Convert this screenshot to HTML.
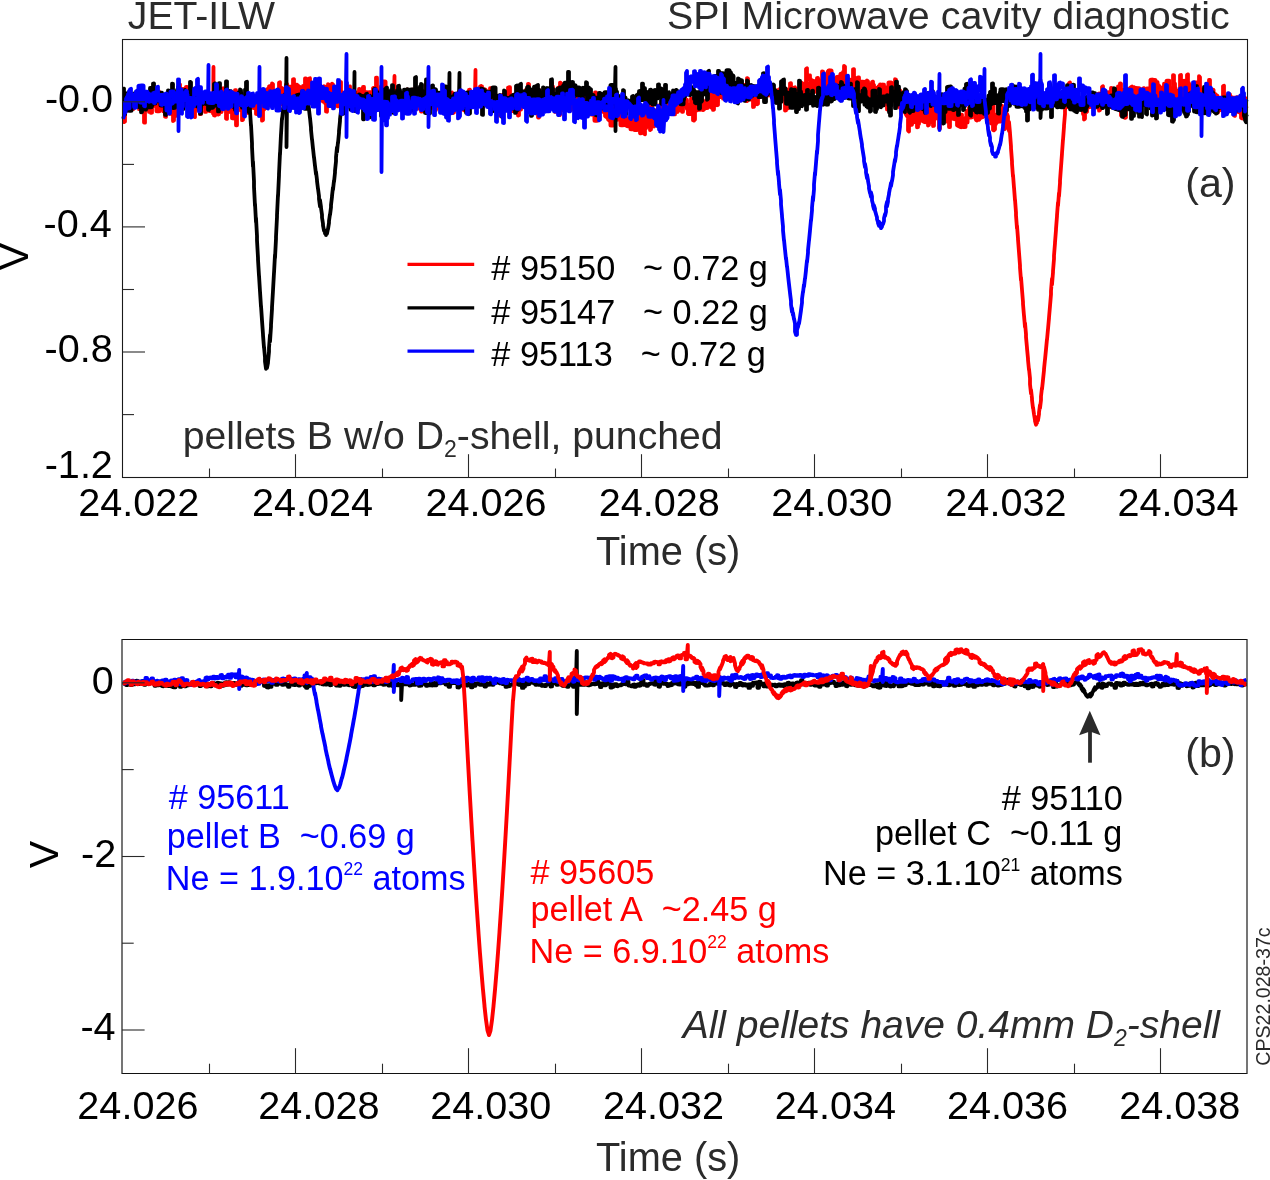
<!DOCTYPE html><html><head><meta charset="utf-8"><title>SPI Microwave cavity diagnostic</title><style>html,body{margin:0;padding:0;background:#fff;overflow:hidden}svg{display:block}text{font-family:"Liberation Sans", Arial, Helvetica, sans-serif}</style></head><body>
<svg width="1270" height="1180" viewBox="0 0 1270 1180">
<rect width="1270" height="1180" fill="#fff"/>
<polyline points="123.0,111.5 125.0,111.5 125.0,103.9 127.0,103.9 127.0,104.5 129.0,104.5 129.0,105.3 131.0,105.3 131.0,108.5 133.0,108.5 133.0,101.8 135.0,101.8 135.0,104.5 137.0,104.5 137.0,102.8 139.0,102.8 139.0,105.6 141.0,105.6 141.0,101.3 143.0,101.3 143.0,103.5 145.0,103.5 145.0,108.7 147.0,108.7 147.0,96.8 149.0,96.8 149.0,109.3 151.0,109.3 151.0,102.4 153.0,102.4 153.0,101.8 155.0,101.8 155.0,105.4 157.0,105.4 157.0,110.7 159.0,110.7 159.0,97.8 161.0,97.8 161.0,105.7 163.0,105.7 163.0,107.7 165.0,107.7 165.0,108.5 167.0,108.5 167.0,99.2 169.0,99.2 169.0,107.8 171.0,107.8 171.0,102.1 173.0,102.1 173.0,103.3 175.0,103.3 175.0,104.3 177.0,104.3 177.0,98.4 179.0,98.4 179.0,102.9 181.0,102.9 181.0,92.3 183.0,92.3 183.0,99.2 185.0,99.2 185.0,105.3 187.0,105.3 187.0,103.6 189.0,103.6 189.0,106.4 191.0,106.4 191.0,100.4 193.0,100.4 193.0,102.3 195.0,102.3 195.0,103.1 197.0,103.1 197.0,104.4 199.0,104.4 199.0,107.6 201.0,107.6 201.0,105.7 203.0,105.7 203.0,104.6 205.0,104.6 205.0,101.6 207.0,101.6 207.0,101.1 209.0,101.1 209.0,104.4 211.0,104.4 211.0,103.2 213.0,103.2 213.0,107.2 215.0,107.2 215.0,103.5 217.0,103.5 217.0,107.5 219.0,107.5 219.0,111.5 221.0,111.5 221.0,103.0 223.0,103.0 223.0,97.5 225.0,97.5 225.0,102.1 227.0,102.1 227.0,108.3 229.0,108.3 229.0,111.3 231.0,111.3 231.0,105.4 233.0,105.4 233.0,111.0 235.0,111.0 235.0,108.5 237.0,108.5 237.0,104.3 239.0,104.3 239.0,109.0 241.0,109.0 241.0,107.7 243.0,107.7 243.0,104.7 245.0,104.7 245.0,106.3 247.0,106.3 247.0,110.4 249.0,110.4 249.0,102.9 251.0,102.9 251.0,97.3 253.0,97.3 253.0,101.7 255.0,101.7 255.0,106.5 257.0,106.5 257.0,97.8 259.0,97.8 259.0,110.2 261.0,110.2 261.0,100.8 263.0,100.8 263.0,95.7 265.0,95.7 265.0,97.1 267.0,97.1 267.0,95.0 269.0,95.0 269.0,91.4 271.0,91.4 271.0,105.3 273.0,105.3 273.0,96.3 275.0,96.3 275.0,103.9 277.0,103.9 277.0,103.4 279.0,103.4 279.0,103.8 281.0,103.8 281.0,98.2 283.0,98.2 283.0,97.6 285.0,97.6 285.0,95.9 287.0,95.9 287.0,93.9 289.0,93.9 289.0,87.3 291.0,87.3 291.0,100.9 293.0,100.9 293.0,95.6 295.0,95.6 295.0,87.2 297.0,87.2 297.0,89.5 299.0,89.5 299.0,99.1 301.0,99.1 301.0,94.7 303.0,94.7 303.0,88.5 305.0,88.5 305.0,95.6 307.0,95.6 307.0,94.3 309.0,94.3 309.0,96.3 311.0,96.3 311.0,97.7 313.0,97.7 313.0,90.7 315.0,90.7 315.0,91.4 317.0,91.4 317.0,87.7 319.0,87.7 319.0,91.9 321.0,91.9 321.0,91.4 323.0,91.4 323.0,88.0 325.0,88.0 325.0,88.6 327.0,88.6 327.0,97.1 329.0,97.1 329.0,94.9 331.0,94.9 331.0,102.8 333.0,102.8 333.0,91.3 335.0,91.3 335.0,92.4 337.0,92.4 337.0,100.7 339.0,100.7 339.0,97.0 341.0,97.0 341.0,98.4 343.0,98.4 343.0,104.0 345.0,104.0 345.0,96.1 347.0,96.1 347.0,97.0 349.0,97.0 349.0,91.7 351.0,91.7 351.0,97.9 353.0,97.9 353.0,96.8 355.0,96.8 355.0,93.0 357.0,93.0 357.0,94.3 359.0,94.3 359.0,95.0 361.0,95.0 361.0,98.3 363.0,98.3 363.0,94.7 365.0,94.7 365.0,92.7 367.0,92.7 367.0,94.4 369.0,94.4 369.0,92.7 371.0,92.7 371.0,98.3 373.0,98.3 373.0,93.0 375.0,93.0 375.0,96.9 377.0,96.9 377.0,96.4 379.0,96.4 379.0,97.5 381.0,97.5 381.0,93.7 383.0,93.7 383.0,81.9 385.0,81.9 385.0,94.7 387.0,94.7 387.0,96.3 389.0,96.3 389.0,98.8 391.0,98.8 391.0,95.7 393.0,95.7 393.0,96.5 395.0,96.5 395.0,100.9 397.0,100.9 397.0,97.4 399.0,97.4 399.0,102.5 401.0,102.5 401.0,103.5 403.0,103.5 403.0,100.2 405.0,100.2 405.0,100.6 407.0,100.6 407.0,97.8 409.0,97.8 409.0,110.6 411.0,110.6 411.0,97.6 413.0,97.6 413.0,96.0 415.0,96.0 415.0,97.3 417.0,97.3 417.0,102.2 419.0,102.2 419.0,93.4 421.0,93.4 421.0,94.7 423.0,94.7 423.0,96.7 425.0,96.7 425.0,106.6 427.0,106.6 427.0,100.9 429.0,100.9 429.0,98.4 431.0,98.4 431.0,103.3 433.0,103.3 433.0,94.6 435.0,94.6 435.0,100.4 437.0,100.4 437.0,103.2 439.0,103.2 439.0,98.2 441.0,98.2 441.0,106.0 443.0,106.0 443.0,103.9 445.0,103.9 445.0,103.8 447.0,103.8 447.0,101.7 449.0,101.7 449.0,99.5 451.0,99.5 451.0,110.0 453.0,110.0 453.0,99.3 455.0,99.3 455.0,105.7 457.0,105.7 457.0,102.0 459.0,102.0 459.0,98.0 461.0,98.0 461.0,107.2 463.0,107.2 463.0,100.9 465.0,100.9 465.0,95.0 467.0,95.0 467.0,103.4 469.0,103.4 469.0,95.4 471.0,95.4 471.0,100.0 473.0,100.0 473.0,96.6 475.0,96.6 475.0,97.6 477.0,97.6 477.0,98.3 479.0,98.3 479.0,90.0 481.0,90.0 481.0,97.2 483.0,97.2 483.0,90.0 485.0,90.0 485.0,97.9 487.0,97.9 487.0,102.3 489.0,102.3 489.0,96.1 491.0,96.1 491.0,100.2 493.0,100.2 493.0,95.8 495.0,95.8 495.0,105.8 497.0,105.8 497.0,106.8 499.0,106.8 499.0,100.3 501.0,100.3 501.0,100.3 503.0,100.3 503.0,95.2 505.0,95.2 505.0,105.8 507.0,105.8 507.0,96.4 509.0,96.4 509.0,104.8 511.0,104.8 511.0,101.8 513.0,101.8 513.0,96.9 515.0,96.9 515.0,102.5 517.0,102.5 517.0,99.1 519.0,99.1 519.0,95.2 521.0,95.2 521.0,103.8 523.0,103.8 523.0,99.1 525.0,99.1 525.0,92.4 527.0,92.4 527.0,104.7 529.0,104.7 529.0,101.9 531.0,101.9 531.0,100.6 533.0,100.6 533.0,99.9 535.0,99.9 535.0,96.5 537.0,96.5 537.0,90.5 539.0,90.5 539.0,98.2 541.0,98.2 541.0,97.7 543.0,97.7 543.0,107.2 545.0,107.2 545.0,98.2 547.0,98.2 547.0,103.0 549.0,103.0 549.0,101.9 551.0,101.9 551.0,97.3 553.0,97.3 553.0,102.8 555.0,102.8 555.0,104.6 557.0,104.6 557.0,101.4 559.0,101.4 559.0,100.7 561.0,100.7 561.0,104.2 563.0,104.2 563.0,105.0 565.0,105.0 565.0,101.7 567.0,101.7 567.0,109.3 569.0,109.3 569.0,102.4 571.0,102.4 571.0,108.7 573.0,108.7 573.0,105.0 575.0,105.0 575.0,109.6 577.0,109.6 577.0,104.0 579.0,104.0 579.0,94.5 581.0,94.5 581.0,107.5 583.0,107.5 583.0,99.5 585.0,99.5 585.0,106.2 587.0,106.2 587.0,99.0 589.0,99.0 589.0,111.3 591.0,111.3 591.0,113.9 593.0,113.9 593.0,100.7 595.0,100.7 595.0,120.3 597.0,120.3 597.0,110.0 599.0,110.0 599.0,106.2 601.0,106.2 601.0,108.7 603.0,108.7 603.0,110.9 605.0,110.9 605.0,105.7 607.0,105.7 607.0,115.0 609.0,115.0 609.0,106.5 611.0,106.5 611.0,124.9 613.0,124.9 613.0,115.6 615.0,115.6 615.0,119.2 617.0,119.2 617.0,115.1 619.0,115.1 619.0,114.6 621.0,114.6 621.0,124.8 623.0,124.8 623.0,120.0 625.0,120.0 625.0,118.4 627.0,118.4 627.0,124.4 629.0,124.4 629.0,120.3 631.0,120.3 631.0,128.8 633.0,128.8 633.0,118.0 635.0,118.0 635.0,129.5 637.0,129.5 637.0,117.5 639.0,117.5 639.0,111.6 641.0,111.6 641.0,127.0 643.0,127.0 643.0,123.4 645.0,123.4 645.0,116.9 647.0,116.9 647.0,126.0 649.0,126.0 649.0,124.0 651.0,124.0 651.0,117.5 653.0,117.5 653.0,114.8 655.0,114.8 655.0,117.9 657.0,117.9 657.0,119.4 659.0,119.4 659.0,106.1 661.0,106.1 661.0,106.2 663.0,106.2 663.0,110.5 665.0,110.5 665.0,113.2 667.0,113.2 667.0,106.2 669.0,106.2 669.0,102.6 671.0,102.6 671.0,108.9 673.0,108.9 673.0,106.8 675.0,106.8 675.0,111.5 677.0,111.5 677.0,110.0 679.0,110.0 679.0,103.5 681.0,103.5 681.0,102.8 683.0,102.8 683.0,103.0 685.0,103.0 685.0,105.0 687.0,105.0 687.0,107.2 689.0,107.2 689.0,113.5 691.0,113.5 691.0,104.8 693.0,104.8 693.0,104.2 695.0,104.2 695.0,109.0 697.0,109.0 697.0,107.0 699.0,107.0 699.0,101.4 701.0,101.4 701.0,107.0 703.0,107.0 703.0,106.3 705.0,106.3 705.0,107.5 707.0,107.5 707.0,104.3 709.0,104.3 709.0,105.7 711.0,105.7 711.0,98.2 713.0,98.2 713.0,98.4 715.0,98.4 715.0,101.5 717.0,101.5 717.0,94.9 719.0,94.9 719.0,96.5 721.0,96.5 721.0,93.5 723.0,93.5 723.0,96.1 725.0,96.1 725.0,89.9 727.0,89.9 727.0,88.3 729.0,88.3 729.0,89.9 731.0,89.9 731.0,91.1 733.0,91.1 733.0,91.9 735.0,91.9 735.0,92.0 737.0,92.0 737.0,91.1 739.0,91.1 739.0,90.6 741.0,90.6 741.0,94.4 743.0,94.4 743.0,92.9 745.0,92.9 745.0,89.9 747.0,89.9 747.0,91.8 749.0,91.8 749.0,99.0 751.0,99.0 751.0,90.1 753.0,90.1 753.0,95.0 755.0,95.0 755.0,95.2 757.0,95.2 757.0,90.7 759.0,90.7 759.0,91.9 761.0,91.9 761.0,84.3 763.0,84.3 763.0,90.6 765.0,90.6 765.0,88.6 767.0,88.6 767.0,94.3 769.0,94.3 769.0,90.1 771.0,90.1 771.0,90.7 773.0,90.7 773.0,92.1 775.0,92.1 775.0,97.6 777.0,97.6 777.0,96.6 779.0,96.6 779.0,92.7 781.0,92.7 781.0,97.3 783.0,97.3 783.0,95.5 785.0,95.5 785.0,97.9 787.0,97.9 787.0,93.5 789.0,93.5 789.0,94.7 791.0,94.7 791.0,100.6 793.0,100.6 793.0,93.6 795.0,93.6 795.0,93.3 797.0,93.3 797.0,95.1 799.0,95.1 799.0,98.2 801.0,98.2 801.0,88.6 803.0,88.6 803.0,89.2 805.0,89.2 805.0,84.0 807.0,84.0 807.0,86.9 809.0,86.9 809.0,91.4 811.0,91.4 811.0,82.6 813.0,82.6 813.0,86.3 815.0,86.3 815.0,84.5 817.0,84.5 817.0,80.7 819.0,80.7 819.0,81.4 821.0,81.4 821.0,83.4 823.0,83.4 823.0,89.2 825.0,89.2 825.0,83.2 827.0,83.2 827.0,85.3 829.0,85.3 829.0,71.0 831.0,71.0 831.0,84.2 833.0,84.2 833.0,80.0 835.0,80.0 835.0,81.4 837.0,81.4 837.0,77.4 839.0,77.4 839.0,83.1 841.0,83.1 841.0,74.2 843.0,74.2 843.0,84.9 845.0,84.9 845.0,85.9 847.0,85.9 847.0,89.1 849.0,89.1 849.0,86.3 851.0,86.3 851.0,85.1 853.0,85.1 853.0,91.2 855.0,91.2 855.0,83.2 857.0,83.2 857.0,88.0 859.0,88.0 859.0,84.7 861.0,84.7 861.0,82.3 863.0,82.3 863.0,88.2 865.0,88.2 865.0,82.9 867.0,82.9 867.0,95.5 869.0,95.5 869.0,101.0 871.0,101.0 871.0,93.7 873.0,93.7 873.0,89.9 875.0,89.9 875.0,92.6 877.0,92.6 877.0,88.3 879.0,88.3 879.0,86.8 881.0,86.8 881.0,88.3 883.0,88.3 883.0,94.3 885.0,94.3 885.0,88.3 887.0,88.3 887.0,87.8 889.0,87.8 889.0,83.0 891.0,83.0 891.0,96.1 893.0,96.1 893.0,98.3 895.0,98.3 895.0,97.0 897.0,97.0 897.0,98.1 899.0,98.1 899.0,97.9 901.0,97.9 901.0,102.4 903.0,102.4 903.0,103.6 905.0,103.6 905.0,103.7 907.0,103.7 907.0,112.0 909.0,112.0 909.0,109.8 911.0,109.8 911.0,110.9 913.0,110.9 913.0,117.8 915.0,117.8 915.0,106.2 917.0,106.2 917.0,113.0 919.0,113.0 919.0,109.5 921.0,109.5 921.0,112.7 923.0,112.7 923.0,108.5 925.0,108.5 925.0,112.2 927.0,112.2 927.0,118.8 929.0,118.8 929.0,113.7 931.0,113.7 931.0,121.6 933.0,121.6 933.0,109.1 935.0,109.1 935.0,112.6 937.0,112.6 937.0,114.8 939.0,114.8 939.0,117.9 941.0,117.9 941.0,117.8 943.0,117.8 943.0,115.3 945.0,115.3 945.0,114.6 947.0,114.6 947.0,108.1 949.0,108.1 949.0,111.2 951.0,111.2 951.0,109.4 953.0,109.4 953.0,118.2 955.0,118.2 955.0,118.7 957.0,118.7 957.0,116.5 959.0,116.5 959.0,119.9 961.0,119.9 961.0,121.3 963.0,121.3 963.0,126.6 965.0,126.6 965.0,122.0 967.0,122.0 967.0,111.5 969.0,111.5 969.0,116.9 971.0,116.9 971.0,111.8 973.0,111.8 973.0,113.8 975.0,113.8 975.0,114.0 977.0,114.0 977.0,118.6 979.0,118.6 979.0,115.9 981.0,115.9 981.0,114.6 983.0,114.6 983.0,107.0 985.0,107.0 985.0,111.4 987.0,111.4 987.0,111.0 989.0,111.0 989.0,115.8 991.0,115.8 991.0,104.4 993.0,104.4 993.0,119.7 995.0,119.7 995.0,121.2 997.0,121.2 997.0,115.1 999.0,115.1 999.0,115.7 1001.0,115.7 1001.0,116.8 1003.0,116.8 1003.0,118.9 1005.0,118.9 1005.0,113.9 1007.0,113.9" fill="none" stroke="#ff0000" stroke-width="5" stroke-linejoin="round" stroke-linecap="butt"/><polyline points="1069.0,99.3 1071.0,99.3 1071.0,103.7 1073.0,103.7 1073.0,101.2 1075.0,101.2 1075.0,96.7 1077.0,96.7 1077.0,105.2 1079.0,105.2 1079.0,98.3 1081.0,98.3 1081.0,102.0 1083.0,102.0 1083.0,104.9 1085.0,104.9 1085.0,104.3 1087.0,104.3 1087.0,102.9 1089.0,102.9 1089.0,101.0 1091.0,101.0 1091.0,98.6 1093.0,98.6 1093.0,106.3 1095.0,106.3 1095.0,98.0 1097.0,98.0 1097.0,100.9 1099.0,100.9 1099.0,102.3 1101.0,102.3 1101.0,103.8 1103.0,103.8 1103.0,94.8 1105.0,94.8 1105.0,97.3 1107.0,97.3 1107.0,100.1 1109.0,100.1 1109.0,98.8 1111.0,98.8 1111.0,106.5 1113.0,106.5 1113.0,92.8 1115.0,92.8 1115.0,103.9 1117.0,103.9 1117.0,100.8 1119.0,100.8 1119.0,92.9 1121.0,92.9 1121.0,105.7 1123.0,105.7 1123.0,101.9 1125.0,101.9 1125.0,107.4 1127.0,107.4 1127.0,103.0 1129.0,103.0 1129.0,89.7 1131.0,89.7 1131.0,98.5 1133.0,98.5 1133.0,104.7 1135.0,104.7 1135.0,100.0 1137.0,100.0 1137.0,88.8 1139.0,88.8 1139.0,91.4 1141.0,91.4 1141.0,94.2 1143.0,94.2 1143.0,91.3 1145.0,91.3 1145.0,96.4 1147.0,96.4 1147.0,89.1 1149.0,89.1 1149.0,94.0 1151.0,94.0 1151.0,80.3 1153.0,80.3 1153.0,80.5 1155.0,80.5 1155.0,82.4 1157.0,82.4 1157.0,86.5 1159.0,86.5 1159.0,92.0 1161.0,92.0 1161.0,88.8 1163.0,88.8 1163.0,87.9 1165.0,87.9 1165.0,88.9 1167.0,88.9 1167.0,81.3 1169.0,81.3 1169.0,91.6 1171.0,91.6 1171.0,93.5 1173.0,93.5 1173.0,88.4 1175.0,88.4 1175.0,93.0 1177.0,93.0 1177.0,95.0 1179.0,95.0 1179.0,91.1 1181.0,91.1 1181.0,89.0 1183.0,89.0 1183.0,95.1 1185.0,95.1 1185.0,91.3 1187.0,91.3 1187.0,85.6 1189.0,85.6 1189.0,90.2 1191.0,90.2 1191.0,87.6 1193.0,87.6 1193.0,86.6 1195.0,86.6 1195.0,83.1 1197.0,83.1 1197.0,91.5 1199.0,91.5 1199.0,94.9 1201.0,94.9 1201.0,90.6 1203.0,90.6 1203.0,96.4 1205.0,96.4 1205.0,93.3 1207.0,93.3 1207.0,98.6 1209.0,98.6 1209.0,96.6 1211.0,96.6 1211.0,90.3 1213.0,90.3 1213.0,100.4 1215.0,100.4 1215.0,96.3 1217.0,96.3 1217.0,100.4 1219.0,100.4 1219.0,101.2 1221.0,101.2 1221.0,109.5 1223.0,109.5 1223.0,104.7 1225.0,104.7 1225.0,96.5 1227.0,96.5 1227.0,101.8 1229.0,101.8 1229.0,98.5 1231.0,98.5 1231.0,103.0 1233.0,103.0 1233.0,98.2 1235.0,98.2 1235.0,108.7 1237.0,108.7 1237.0,107.8 1239.0,107.8 1239.0,102.3 1241.0,102.3 1241.0,112.6 1243.0,112.6 1243.0,111.2 1245.0,111.2 1245.0,105.4 1247.0,105.4" fill="none" stroke="#ff0000" stroke-width="5" stroke-linejoin="round" stroke-linecap="butt"/><polyline points="123.0,109.7 124.0,109.0 124.0,122.2 125.0,121.5 125.0,112.1 126.0,111.4 126.0,110.8 127.0,110.2 127.0,104.0 128.0,103.5 128.0,100.0 129.0,99.6 129.0,104.8 130.0,104.5 130.0,106.4 131.0,106.2 131.0,108.0 132.0,107.8 132.0,107.2 133.0,107.1 133.0,102.8 134.0,102.7 134.0,104.8 135.0,104.8 135.0,101.5 136.0,101.4 136.0,98.0 137.0,98.0 137.0,98.8 138.0,98.8 138.0,107.6 139.0,107.7 139.0,109.2 140.0,109.2 140.0,103.1 141.0,103.2 141.0,103.7 142.0,103.9 142.0,111.5 143.0,111.6 143.0,104.0 144.0,104.1 144.0,122.6 145.0,122.7 145.0,106.7 146.0,106.8 146.0,101.9 147.0,101.9 147.0,93.5 148.0,93.5 148.0,106.6 149.0,106.6 149.0,111.9 150.0,111.7 150.0,104.7 151.0,104.5 151.0,112.9 152.0,112.7 152.0,100.8 153.0,100.5 153.0,103.7 154.0,103.4 154.0,102.8 155.0,102.6 155.0,98.9 156.0,98.7 156.0,94.0 157.0,93.9 157.0,97.3 158.0,97.4 158.0,91.2 159.0,91.3 159.0,108.6 160.0,108.9 160.0,102.8 161.0,103.2 161.0,103.6 162.0,104.0 162.0,100.9 163.0,101.3 163.0,111.2 164.0,111.6 164.0,99.9 165.0,100.2 165.0,116.7 166.0,116.9 166.0,113.0 167.0,113.1 167.0,101.5 168.0,101.5 168.0,104.8 169.0,104.7 169.0,110.1 170.0,109.9 170.0,113.9 171.0,113.6 171.0,100.4 172.0,100.0 172.0,101.9 173.0,101.5 173.0,121.0 174.0,120.6 174.0,115.7 175.0,115.2 175.0,109.7 176.0,109.2 176.0,115.9 177.0,115.4 177.0,105.7 178.0,105.3 178.0,99.5 179.0,99.2 179.0,84.6 180.0,84.4 180.0,112.6 181.0,112.5 181.0,94.4 182.0,94.4 182.0,106.2 183.0,106.2 183.0,89.0 184.0,89.1 184.0,98.9 185.0,99.0 185.0,102.0 186.0,102.1 186.0,86.8 187.0,86.9 187.0,98.8 188.0,99.0 188.0,97.1 189.0,97.4 189.0,103.6 190.0,103.9 190.0,94.9 191.0,95.2 191.0,100.2 192.0,100.5 192.0,112.7 193.0,113.1 193.0,113.3 194.0,113.6 194.0,116.8 195.0,117.1 195.0,107.6 196.0,107.8 196.0,102.4 197.0,102.6 197.0,107.3 198.0,107.3 198.0,109.8 199.0,109.7 199.0,106.9 200.0,106.6 200.0,114.2 201.0,113.9 201.0,100.2 202.0,99.9 202.0,102.9 203.0,102.6 203.0,94.1 204.0,93.9 204.0,101.1 205.0,101.1 205.0,111.9 206.0,111.9 206.0,104.2 207.0,104.4 207.0,108.9 208.0,109.2 208.0,107.1 209.0,107.5 209.0,111.0 210.0,111.3 210.0,99.6 211.0,100.0 211.0,108.9 212.0,109.3 212.0,110.2 213.0,110.5 213.0,113.6 213.5,67.0 213.5,100.0 214.0,113.8 214.0,115.4 215.0,115.5 215.0,103.2 216.0,103.2 216.0,97.1 217.0,97.0 217.0,102.1 218.0,101.8 218.0,114.6 219.0,114.3 219.0,99.2 220.0,98.9 220.0,96.4 221.0,96.0 221.0,96.4 222.0,96.1 222.0,88.5 223.0,88.3 223.0,109.1 224.0,108.9 224.0,99.3 225.0,99.3 225.0,100.2 226.0,100.4 226.0,118.6 227.0,118.9 227.0,110.8 228.0,111.2 228.0,110.8 229.0,111.2 229.0,100.5 230.0,101.0 230.0,94.9 231.0,95.3 231.0,108.6 232.0,109.0 232.0,118.2 233.0,118.5 233.0,104.8 234.0,105.1 234.0,105.6 235.0,105.9 235.0,90.1 236.0,90.2 236.0,125.3 237.0,125.3 237.0,106.4 238.0,106.3 238.0,96.3 239.0,96.1 239.0,107.0 240.0,106.7 240.0,103.2 241.0,102.8 241.0,110.7 242.0,110.3 242.0,120.2 243.0,119.7 243.0,100.5 244.0,99.9 244.0,106.1 245.0,105.6 245.0,102.0 246.0,101.5 246.0,99.6 247.0,99.1 247.0,106.4 248.0,105.9 248.0,113.0 249.0,112.7 249.0,105.5 250.0,105.3 250.0,99.6 251.0,99.6 251.0,105.7 252.0,105.8 252.0,104.0 253.0,104.1 253.0,107.9 254.0,108.1 254.0,99.2 255.0,99.5 255.0,104.7 256.0,105.0 256.0,114.0 257.0,114.2 257.0,103.6 258.0,103.8 258.0,110.0 259.0,110.1 259.0,103.7 260.0,103.6 260.0,104.1 261.0,103.9 261.0,98.7 262.0,98.3 262.0,120.7 263.0,120.1 263.0,110.3 264.0,109.6 264.0,109.5 265.0,108.5 265.0,108.4 266.0,107.4 266.0,93.2 267.0,92.2 267.0,89.5 268.0,88.6 268.0,96.8 269.0,96.2 269.0,86.4 270.0,86.1 270.0,91.1 271.0,91.2 271.0,102.4 272.0,102.8 272.0,83.5 273.0,84.1 273.0,92.2 274.0,92.9 274.0,98.1 275.0,98.8 275.0,98.9 276.0,99.5 276.0,99.9 277.0,100.2 277.0,95.5 278.0,95.6 278.0,106.4 279.0,106.2 279.0,82.7 280.0,82.2 280.0,102.4 281.0,101.5 281.0,89.0 282.0,87.9 282.0,93.0 283.0,91.9 283.0,96.2 284.0,95.0 284.0,106.0 285.0,105.0 285.0,88.6 286.0,87.9 286.0,84.4 287.0,83.9 287.0,99.6 288.0,99.4 288.0,92.5 289.0,92.5 289.0,93.2 290.0,93.3 290.0,96.8 291.0,96.9 291.0,99.8 292.0,99.8 292.0,94.3 293.0,94.2 293.0,79.4 294.0,79.2 294.0,91.6 295.0,91.3 295.0,92.8 296.0,92.5 296.0,84.8 297.0,84.6 297.0,85.5 298.0,85.5 298.0,96.3 299.0,96.5 299.0,93.9 300.0,94.4 300.0,86.9 301.0,87.4 301.0,97.0 302.0,97.5 302.0,94.7 303.0,95.2 303.0,85.9 304.0,86.3 304.0,92.9 305.0,93.0 305.0,78.5 306.0,78.5 306.0,89.1 307.0,88.9 307.0,96.5 308.0,96.3 308.0,86.3 309.0,86.0 309.0,78.5 310.0,78.2 310.0,96.1 311.0,95.7 311.0,86.7 312.0,86.3 312.0,91.1 313.0,90.7 313.0,90.9 314.0,90.5 314.0,91.1 315.0,90.9 315.0,94.4 316.0,94.2 316.0,88.9 317.0,88.9 317.0,86.7 318.0,86.7 318.0,86.0 319.0,86.2 319.0,99.5 320.0,99.7 320.0,98.2 321.0,98.4 321.0,92.0 322.0,92.3 322.0,100.6 323.0,100.9 323.0,101.7 324.0,101.9 324.0,86.2 325.0,86.5 325.0,103.3 326.0,103.7 326.0,111.4 327.0,111.7 327.0,96.6 328.0,97.0 328.0,84.1 329.0,84.6 329.0,104.9 330.0,105.5 330.0,99.7 331.0,100.2 331.0,94.9 332.0,95.6 332.0,83.7 333.0,84.3 333.0,96.9 334.0,97.6 334.0,96.3 335.0,96.9 335.0,96.8 336.0,97.4 336.0,96.7 337.0,97.1 337.0,106.1 338.0,106.3 338.0,97.3 339.0,97.3 339.0,102.9 340.0,102.7 340.0,82.4 341.0,82.1 341.0,93.2 342.0,92.8 342.0,99.2 343.0,98.7 343.0,93.0 344.0,92.4 344.0,98.7 345.0,98.2 345.0,97.4 346.0,96.8 346.0,98.3 347.0,97.7 347.0,94.4 348.0,93.9 348.0,100.2 349.0,99.7 349.0,86.7 350.0,86.4 350.0,92.7 351.0,92.5 351.0,105.0 352.0,105.0 352.0,92.3 353.0,92.3 353.0,105.0 354.0,105.1 354.0,97.4 355.0,97.6 355.0,93.8 356.0,93.9 356.0,96.1 357.0,96.3 357.0,106.1 358.0,106.3 358.0,93.9 359.0,94.1 359.0,88.9 360.0,89.1 360.0,99.6 361.0,99.8 361.0,101.2 362.0,101.3 362.0,102.2 363.0,102.4 363.0,86.9 364.0,87.0 364.0,99.5 365.0,99.6 365.0,97.5 366.0,97.5 366.0,95.5 367.0,95.5 367.0,94.1 368.0,94.0 368.0,100.2 369.0,100.0 369.0,96.5 370.0,96.3 370.0,96.4 371.0,96.0 371.0,109.3 372.0,108.9 372.0,96.3 373.0,95.9 373.0,88.0 374.0,87.7 374.0,89.3 375.0,89.1 375.0,90.2 376.0,90.2 376.0,77.6 377.0,77.7 377.0,102.4 378.0,102.6 378.0,107.6 379.0,107.8 379.0,91.6 380.0,91.6 380.0,106.9 381.0,107.0 381.0,86.4 382.0,86.4 382.0,91.2 383.0,91.1 383.0,84.2 384.0,84.2 384.0,95.2 385.0,95.3 385.0,103.7 386.0,104.0 386.0,104.2 387.0,104.6 387.0,102.9 388.0,103.4 388.0,95.1 389.0,95.6 389.0,105.2 390.0,105.6 390.0,109.1 391.0,109.4 391.0,93.1 392.0,93.4 392.0,100.1 393.0,100.3 393.0,98.2 394.0,98.4 394.0,94.5 394.5,76.0 394.5,100.0 395.0,94.8 395.0,91.3 396.0,91.6 396.0,93.8 397.0,94.2 397.0,100.3 398.0,100.8 398.0,101.7 399.0,102.1 399.0,101.4 400.0,101.8 400.0,109.2 401.0,109.5 401.0,96.7 402.0,96.8 402.0,93.1 403.0,93.1 403.0,93.7 404.0,93.5 404.0,103.8 405.0,103.6 405.0,94.3 406.0,94.0 406.0,89.9 407.0,89.5 407.0,106.3 408.0,105.9 408.0,109.0 409.0,108.6 409.0,100.7 410.0,100.4 410.0,103.4 411.0,103.2 411.0,89.9 412.0,89.8 412.0,89.7 413.0,89.7 413.0,100.0 414.0,100.0 414.0,100.3 415.0,100.4 415.0,97.8 416.0,97.9 416.0,97.3 417.0,97.3 417.0,95.1 418.0,95.0 418.0,108.5 419.0,108.4 419.0,93.4 420.0,93.2 420.0,98.0 421.0,97.8 421.0,111.5 422.0,111.5 422.0,92.0 423.0,92.1 423.0,100.5 424.0,100.7 424.0,98.2 425.0,98.6 425.0,107.0 426.0,107.4 426.0,83.9 427.0,84.4 427.0,98.4 428.0,98.8 428.0,95.6 429.0,96.0 429.0,108.2 430.0,108.5 430.0,101.0 431.0,101.3 431.0,98.0 432.0,98.1 432.0,107.5 433.0,107.8 433.0,106.2 434.0,106.4 434.0,108.9 435.0,109.2 435.0,109.6 436.0,110.0 436.0,107.9 437.0,108.3 437.0,99.6 438.0,99.8 438.0,105.5 439.0,105.7 439.0,107.4 440.0,107.5 440.0,106.1 441.0,106.1 441.0,106.0 442.0,105.9 442.0,104.3 443.0,104.3 443.0,98.6 444.0,98.6 444.0,103.3 445.0,103.4 445.0,97.5 446.0,97.6 446.0,98.2 447.0,98.3 447.0,108.8 448.0,108.9 448.0,100.2 449.0,100.2 449.0,104.7 450.0,104.5 450.0,97.2 451.0,96.8 451.0,92.9 452.0,92.4 452.0,100.4 453.0,99.9 453.0,113.0 454.0,112.5 454.0,101.3 455.0,100.9 455.0,97.2 456.0,97.0 456.0,105.9 457.0,105.9 457.0,98.2 458.0,98.4 458.0,97.5 459.0,97.7 459.0,91.6 460.0,91.8 460.0,90.8 461.0,91.0 461.0,104.9 462.0,105.0 462.0,104.0 463.0,103.9 463.0,102.4 464.0,102.1 464.0,110.4 465.0,109.9 465.0,95.7 466.0,95.1 466.0,100.9 467.0,100.2 467.0,94.5 468.0,93.9 468.0,93.9 469.0,93.5 469.0,89.8 470.0,89.6 470.0,105.1 471.0,105.0 471.0,103.3 472.0,103.4 472.0,92.3 473.0,92.5 473.0,96.9 474.0,97.2 474.0,100.0 475.0,100.1 475.0,94.1 475.5,70.0 475.5,100.0 476.0,94.2 476.0,103.8 477.0,103.7 477.0,94.2 478.0,94.0 478.0,96.9 479.0,96.6 479.0,96.6 480.0,96.2 480.0,86.4 481.0,86.0 481.0,86.7 482.0,86.4 482.0,92.2 483.0,92.1 483.0,105.4 484.0,105.5 484.0,101.5 485.0,101.7 485.0,100.8 486.0,101.0 486.0,94.0 487.0,94.1 487.0,95.1 488.0,95.2 488.0,98.5 489.0,98.5 489.0,99.9 490.0,99.8 490.0,88.2 491.0,88.2 491.0,93.4 492.0,93.5 492.0,93.1 493.0,93.3 493.0,106.8 494.0,107.3 494.0,95.2 495.0,96.0 495.0,94.2 496.0,95.1 496.0,105.7 497.0,106.7 497.0,98.5 498.0,99.4 498.0,108.3 499.0,109.1 499.0,96.8 500.0,97.2 500.0,115.8 501.0,115.9 501.0,103.2 502.0,103.1 502.0,104.5 503.0,104.2 503.0,101.8 504.0,101.4 504.0,102.6 505.0,102.3 505.0,102.7 506.0,102.5 506.0,100.2 507.0,100.1 507.0,110.3 508.0,110.3 508.0,87.6 509.0,87.6 509.0,87.2 510.0,87.2 510.0,99.8 511.0,99.7 511.0,101.2 512.0,100.9 512.0,111.2 513.0,110.7 513.0,105.0 514.0,104.5 514.0,100.9 515.0,100.3 515.0,95.1 516.0,94.6 516.0,112.6 517.0,112.1 517.0,110.1 518.0,109.7 518.0,115.6 519.0,115.3 519.0,89.1 520.0,88.9 520.0,109.8 521.0,109.7 521.0,97.8 522.0,97.8 522.0,92.9 523.0,92.9 523.0,99.3 524.0,99.4 524.0,99.3 525.0,99.5 525.0,96.7 526.0,97.0 526.0,89.6 527.0,89.9 527.0,95.0 528.0,95.3 528.0,83.8 529.0,84.1 529.0,101.0 530.0,101.3 530.0,91.3 531.0,91.4 531.0,101.7 532.0,101.7 532.0,95.2 533.0,95.1 533.0,112.0 534.0,111.9 534.0,95.0 535.0,94.9 535.0,91.2 536.0,91.1 536.0,90.7 537.0,90.7 537.0,101.6 538.0,101.6 538.0,117.5 539.0,117.6 539.0,91.0 540.0,91.0 540.0,95.9 541.0,96.0 541.0,110.1 542.0,110.0 542.0,104.3 543.0,104.1 543.0,108.1 544.0,107.9 544.0,101.6 545.0,101.4 545.0,102.5 546.0,102.3 546.0,99.5 547.0,99.3 547.0,91.7 548.0,91.7 548.0,100.3 549.0,100.4 549.0,92.7 550.0,93.0 550.0,103.4 551.0,103.6 551.0,82.2 552.0,82.5 552.0,86.3 553.0,86.5 553.0,99.0 554.0,99.0 554.0,100.5 555.0,100.5 555.0,111.9 556.0,111.7 556.0,94.3 557.0,94.2 557.0,103.6 558.0,103.5 558.0,87.6 559.0,87.6 559.0,114.8 560.0,115.0 560.0,82.6 561.0,83.0 561.0,109.7 562.0,110.3 562.0,98.1 563.0,98.9 563.0,89.4 564.0,90.3 564.0,98.4 565.0,99.2 565.0,108.6 566.0,109.3 566.0,102.6 567.0,103.1 567.0,98.5 568.0,98.9 568.0,105.5 569.0,105.5 569.0,104.3 570.0,104.3 570.0,110.3 571.0,110.1 571.0,108.6 572.0,108.5 572.0,101.0 573.0,100.9 573.0,98.9 574.0,99.0 574.0,104.3 575.0,104.4 575.0,103.1 576.0,103.2 576.0,105.9 577.0,106.0 577.0,97.6 578.0,97.6 578.0,105.1 579.0,104.9 579.0,98.8 580.0,98.5 580.0,107.5 581.0,107.3 581.0,105.4 582.0,105.2 582.0,101.8 583.0,101.7 583.0,93.0 584.0,93.1 584.0,110.7 585.0,110.9 585.0,98.0 586.0,98.4 586.0,100.8 587.0,101.3 587.0,103.8 588.0,104.3 588.0,107.5 589.0,107.9 589.0,101.7 590.0,102.0 590.0,102.2 591.0,102.4 591.0,96.5 592.0,96.7 592.0,112.8 593.0,112.8 593.0,102.8 594.0,102.9 594.0,103.0 595.0,103.0 595.0,92.5 596.0,92.5 596.0,102.2 597.0,102.1 597.0,111.7 598.0,111.7 598.0,112.8 599.0,112.9 599.0,99.2 600.0,99.4 600.0,106.5 601.0,106.7 601.0,110.5 602.0,110.8 602.0,97.5 603.0,98.0 603.0,104.8 604.0,105.5 604.0,112.6 605.0,113.4 605.0,116.0 606.0,116.9 606.0,93.1 607.0,94.1 607.0,103.6 608.0,104.6 608.0,119.4 609.0,120.3 609.0,110.2 610.0,111.0 610.0,116.0 611.0,116.8 611.0,106.9 612.0,107.5 612.0,122.7 613.0,123.1 613.0,119.6 614.0,120.0 614.0,125.1 615.0,125.4 615.0,110.1 616.0,110.3 616.0,112.9 617.0,113.1 617.0,108.7 618.0,109.0 618.0,108.9 619.0,109.2 619.0,108.5 620.0,108.9 620.0,118.6 621.0,119.0 621.0,111.8 622.0,112.3 622.0,118.1 623.0,118.6 623.0,114.2 624.0,114.8 624.0,121.6 625.0,122.1 625.0,125.2 626.0,125.6 626.0,125.5 627.0,125.8 627.0,126.2 628.0,126.4 628.0,119.8 629.0,119.8 629.0,125.3 630.0,125.2 630.0,118.9 631.0,118.6 631.0,115.0 632.0,114.7 632.0,103.8 633.0,103.5 633.0,119.5 634.0,119.1 634.0,121.2 635.0,120.9 635.0,129.8 636.0,129.5 636.0,115.8 637.0,115.5 637.0,128.2 638.0,127.9 638.0,108.2 639.0,108.0 639.0,116.0 640.0,115.9 640.0,133.3 641.0,133.4 641.0,116.0 642.0,116.2 642.0,112.6 643.0,112.9 643.0,112.2 644.0,112.6 644.0,133.8 645.0,134.2 645.0,127.9 646.0,128.3 646.0,116.5 647.0,116.8 647.0,117.4 648.0,117.5 648.0,104.3 649.0,104.1 649.0,119.1 650.0,118.7 650.0,130.0 651.0,129.4 651.0,106.7 652.0,105.8 652.0,125.4 653.0,124.4 653.0,121.4 654.0,120.2 654.0,126.5 655.0,125.2 655.0,111.5 656.0,110.2 656.0,116.4 657.0,115.2 657.0,121.5 658.0,120.4 658.0,114.8 659.0,113.8 659.0,115.2 660.0,114.4 660.0,107.7 661.0,106.9 661.0,108.1 662.0,107.4 662.0,101.8 663.0,101.3 663.0,108.5 664.0,108.1 664.0,107.3 665.0,106.9 665.0,105.6 666.0,105.3 666.0,94.8 667.0,94.6 667.0,98.6 668.0,98.3 668.0,105.0 669.0,104.8 669.0,112.4 670.0,112.2 670.0,100.8 671.0,100.6 671.0,102.6 672.0,102.4 672.0,105.1 673.0,105.0 673.0,110.6 674.0,110.5 674.0,114.4 675.0,114.4 675.0,106.7 676.0,106.8 676.0,105.3 677.0,105.5 677.0,101.0 678.0,101.2 678.0,107.8 679.0,107.9 679.0,104.1 680.0,104.2 680.0,106.7 681.0,106.7 681.0,100.9 682.0,100.9 682.0,111.8 683.0,111.8 683.0,103.5 684.0,103.5 684.0,97.2 685.0,97.2 685.0,105.6 686.0,105.7 686.0,99.7 687.0,99.9 687.0,109.0 688.0,109.3 688.0,113.7 689.0,114.1 689.0,112.1 690.0,112.5 690.0,106.3 691.0,106.8 691.0,98.5 692.0,98.9 692.0,102.6 693.0,103.0 693.0,120.3 694.0,120.6 694.0,119.6 695.0,119.6 695.0,103.2 696.0,103.1 696.0,103.5 697.0,103.1 697.0,110.4 698.0,109.8 698.0,108.3 699.0,107.7 699.0,107.8 700.0,107.1 700.0,109.9 701.0,109.3 701.0,94.3 702.0,93.6 702.0,100.8 703.0,100.2 703.0,110.2 704.0,109.6 704.0,105.8 705.0,105.1 705.0,102.0 706.0,101.2 706.0,102.1 707.0,101.3 707.0,105.4 708.0,104.7 708.0,102.8 709.0,102.1 709.0,96.7 710.0,96.1 710.0,93.4 711.0,92.9 711.0,107.5 712.0,107.1 712.0,92.2 713.0,91.9 713.0,109.9 714.0,109.6 714.0,91.9 715.0,91.7 715.0,91.4 716.0,91.1 716.0,103.7 717.0,103.3 717.0,105.3 718.0,104.9 718.0,97.3 719.0,96.8 719.0,81.7 720.0,81.1 720.0,94.4 721.0,93.8 721.0,83.7 722.0,83.1 722.0,91.8 723.0,91.3 723.0,98.7 724.0,98.3 724.0,97.9 725.0,97.6 725.0,93.9 726.0,93.6 726.0,94.3 727.0,94.2 727.0,96.3 728.0,96.2 728.0,90.6 729.0,90.5 729.0,90.6 730.0,90.5 730.0,99.3 731.0,99.1 731.0,97.4 732.0,97.1 732.0,98.8 733.0,98.5 733.0,94.0 734.0,93.6 734.0,95.4 735.0,95.0 735.0,95.6 736.0,95.4 736.0,98.2 737.0,98.1 737.0,100.1 738.0,100.1 738.0,94.0 739.0,94.1 739.0,88.2 740.0,88.4 740.0,86.8 741.0,87.1 741.0,86.0 742.0,86.3 742.0,92.8 743.0,93.0 743.0,87.9 744.0,88.1 744.0,84.8 745.0,85.1 745.0,95.9 746.0,96.2 746.0,100.8 747.0,101.1 747.0,78.1 748.0,78.5 748.0,98.6 749.0,99.0 749.0,94.8 750.0,95.1 750.0,88.3 751.0,88.5 751.0,90.4 752.0,90.5 752.0,93.2 753.0,93.2 753.0,107.0 754.0,106.8 754.0,95.5 755.0,95.2 755.0,102.6 756.0,102.3 756.0,90.3 757.0,89.9 757.0,104.3 758.0,103.8 758.0,97.2 759.0,96.8 759.0,88.6 760.0,88.2 760.0,88.8 761.0,88.4 761.0,96.7 762.0,96.3 762.0,82.5 763.0,82.2 763.0,90.8 764.0,90.6 764.0,83.6 765.0,83.4 765.0,90.5 766.0,90.5 766.0,92.8 767.0,92.9 767.0,94.4 768.0,94.7 768.0,95.0 769.0,95.5 769.0,90.3 770.0,91.0 770.0,89.1 771.0,90.0 771.0,88.3 772.0,89.4 772.0,90.7 773.0,91.9 773.0,92.9 774.0,94.0 774.0,93.5 775.0,94.5 775.0,98.4 776.0,99.2 776.0,94.5 777.0,95.1 777.0,90.1 778.0,90.5 778.0,103.0 779.0,103.1 779.0,95.2 780.0,95.2 780.0,88.5 781.0,88.2 781.0,93.1 782.0,92.8 782.0,96.5 783.0,96.2 783.0,97.0 784.0,96.8 784.0,99.6 785.0,99.4 785.0,110.5 786.0,110.4 786.0,89.4 787.0,89.4 787.0,108.4 788.0,108.4 788.0,99.0 789.0,99.0 789.0,95.9 790.0,95.8 790.0,83.3 791.0,83.2 791.0,95.9 792.0,95.8 792.0,101.9 793.0,101.8 793.0,90.7 794.0,90.5 794.0,87.5 795.0,87.3 795.0,88.7 796.0,88.5 796.0,98.1 797.0,97.8 797.0,96.9 798.0,96.3 798.0,106.4 799.0,105.6 799.0,92.0 800.0,90.9 800.0,99.2 801.0,97.7 801.0,84.6 802.0,82.9 802.0,89.4 803.0,87.7 803.0,96.2 804.0,94.6 804.0,85.6 805.0,84.2 805.0,89.5 806.0,88.4 806.0,69.0 807.0,68.2 807.0,78.0 808.0,77.4 808.0,80.0 809.0,79.6 809.0,75.7 810.0,75.4 810.0,79.8 811.0,79.5 811.0,92.1 812.0,91.9 812.0,80.8 813.0,80.6 813.0,83.8 814.0,83.5 814.0,92.1 815.0,91.9 815.0,81.8 816.0,81.6 816.0,80.5 817.0,80.3 817.0,78.1 818.0,77.9 818.0,94.8 819.0,94.7 819.0,86.9 820.0,86.9 820.0,94.3 821.0,94.4 821.0,94.5 822.0,94.6 822.0,71.4 823.0,71.6 823.0,86.3 824.0,86.6 824.0,95.4 825.0,95.7 825.0,84.0 826.0,84.3 826.0,83.3 827.0,83.6 827.0,75.1 827.5,72.0 827.5,96.0 828.0,75.4 828.0,90.3 829.0,90.5 829.0,70.6 830.0,70.8 830.0,84.3 831.0,84.3 831.0,81.0 832.0,80.8 832.0,86.0 833.0,85.7 833.0,79.9 834.0,79.5 834.0,79.6 835.0,79.1 835.0,88.6 836.0,88.2 836.0,81.2 837.0,80.9 837.0,87.1 838.0,87.0 838.0,76.7 839.0,76.7 839.0,90.7 840.0,90.8 840.0,84.6 841.0,84.8 841.0,89.4 842.0,89.8 842.0,86.9 843.0,87.3 843.0,72.0 844.0,72.5 844.0,66.0 845.0,66.6 845.0,90.2 846.0,90.9 846.0,80.8 847.0,81.5 847.0,82.0 848.0,82.7 848.0,79.8 849.0,80.5 849.0,79.1 850.0,79.6 850.0,88.4 851.0,88.7 851.0,92.6 852.0,92.7 852.0,85.1 853.0,85.1 853.0,69.4 854.0,69.2 854.0,90.7 855.0,90.5 855.0,88.5 856.0,88.3 856.0,82.4 857.0,82.2 857.0,77.8 858.0,77.7 858.0,77.4 859.0,77.5 859.0,94.4 860.0,94.6 860.0,82.5 861.0,82.9 861.0,94.7 862.0,95.3 862.0,85.8 863.0,86.6 863.0,93.9 864.0,94.8 864.0,83.0 865.0,84.0 865.0,81.7 866.0,82.7 866.0,89.6 867.0,90.5 867.0,80.5 868.0,81.2 868.0,83.7 869.0,84.2 869.0,96.0 870.0,96.2 870.0,103.3 871.0,103.3 871.0,94.2 872.0,94.0 872.0,82.0 873.0,81.6 873.0,85.7 874.0,85.1 874.0,93.0 875.0,92.5 875.0,90.4 876.0,89.9 876.0,106.5 877.0,106.2 877.0,102.9 878.0,102.7 878.0,88.5 879.0,88.5 879.0,104.1 880.0,104.2 880.0,84.4 881.0,84.6 881.0,84.6 882.0,84.9 882.0,100.4 883.0,100.6 883.0,84.5 884.0,84.7 884.0,87.9 885.0,88.2 885.0,102.3 886.0,102.5 886.0,89.4 887.0,89.7 887.0,109.4 888.0,109.7 888.0,97.4 889.0,97.8 889.0,90.4 890.0,90.7 890.0,101.5 891.0,101.8 891.0,101.2 892.0,101.4 892.0,99.4 893.0,99.6 893.0,83.8 894.0,83.9 894.0,100.5 895.0,100.7 895.0,79.2 896.0,79.5 896.0,92.8 897.0,93.4 897.0,95.7 898.0,96.6 898.0,102.4 899.0,103.7 899.0,106.5 900.0,108.0 900.0,90.2 901.0,91.9 901.0,97.1 902.0,99.0 902.0,101.8 903.0,103.8 903.0,101.5 904.0,103.5 904.0,109.1 905.0,110.9 905.0,112.7 906.0,114.4 906.0,114.7 907.0,116.2 907.0,109.5 908.0,110.7 908.0,130.6 909.0,131.5 909.0,106.3 910.0,106.8 910.0,113.1 911.0,113.4 911.0,124.9 912.0,124.8 912.0,120.1 913.0,119.8 913.0,119.6 914.0,119.2 914.0,122.3 915.0,121.9 915.0,112.4 916.0,112.0 916.0,113.9 917.0,113.7 917.0,127.3 918.0,127.2 918.0,123.7 919.0,123.9 919.0,104.9 920.0,105.2 920.0,110.3 921.0,110.8 921.0,114.3 922.0,114.9 922.0,120.8 923.0,121.3 923.0,107.3 924.0,107.8 924.0,122.0 925.0,122.3 925.0,111.7 926.0,111.7 926.0,121.1 927.0,121.0 927.0,117.8 928.0,117.4 928.0,125.5 929.0,125.1 929.0,108.6 930.0,108.2 930.0,118.6 931.0,118.2 931.0,112.6 932.0,112.2 932.0,109.5 933.0,109.3 933.0,126.0 934.0,125.8 934.0,107.4 935.0,107.3 935.0,118.5 936.0,118.5 936.0,106.9 937.0,107.0 937.0,106.0 938.0,106.2 938.0,118.4 939.0,118.7 939.0,128.2 940.0,128.6 940.0,117.5 941.0,118.0 941.0,108.7 942.0,109.1 942.0,117.5 943.0,117.9 943.0,113.7 944.0,114.0 944.0,111.6 945.0,111.9 945.0,117.6 946.0,117.7 946.0,119.8 947.0,119.9 947.0,121.7 948.0,121.7 948.0,103.7 949.0,103.7 949.0,127.0 950.0,127.0 950.0,114.4 951.0,114.4 951.0,105.9 952.0,106.0 952.0,111.0 953.0,111.2 953.0,117.5 954.0,117.8 954.0,111.4 955.0,111.8 955.0,118.7 956.0,119.3 956.0,112.0 957.0,112.7 957.0,125.3 958.0,126.0 958.0,120.5 959.0,121.2 959.0,118.3 960.0,118.9 960.0,127.0 961.0,127.3 961.0,114.7 962.0,114.6 962.0,119.7 963.0,119.2 963.0,124.1 964.0,123.2 964.0,121.8 965.0,120.6 965.0,118.8 966.0,117.4 966.0,122.5 967.0,121.2 967.0,112.1 968.0,110.9 968.0,114.0 969.0,113.0 969.0,107.6 970.0,107.0 970.0,112.3 971.0,111.9 971.0,97.8 972.0,97.7 972.0,104.6 973.0,104.8 973.0,112.3 974.0,112.6 974.0,99.9 975.0,100.3 975.0,118.1 976.0,118.6 976.0,120.0 977.0,120.5 977.0,118.0 978.0,118.4 978.0,119.5 979.0,119.9 979.0,118.3 980.0,118.5 980.0,105.3 981.0,105.4 981.0,108.0 982.0,108.0 982.0,117.3 983.0,117.1 983.0,107.9 984.0,107.7 984.0,110.3 985.0,110.0 985.0,114.2 986.0,113.9 986.0,116.2 987.0,115.9 987.0,103.6 988.0,103.4 988.0,113.9 989.0,113.8 989.0,119.2 990.0,119.2 990.0,116.1 991.0,116.2 991.0,123.5 992.0,123.8 992.0,111.0 993.0,111.3 993.0,130.0 994.0,130.4 994.0,128.8 995.0,129.2 995.0,123.8 996.0,124.0 996.0,121.7 997.0,121.8 997.0,121.9 998.0,121.8 998.0,101.0 999.0,100.7 999.0,110.3 1000.0,110.0 1000.0,121.7 1001.0,121.4 1001.0,106.0 1002.0,105.7 1002.0,115.9 1003.0,115.7 1003.0,120.4 1004.0,120.2 1004.0,129.1 1005.0,129.0 1005.0,112.6 1006.0,112.5 1006.0,119.0 1007.0,119.5 1007.0,113.8 1008.0,116.5 1008.0,124.2 1009.0,131.0 1009.0,121.9 1010.0,132.8 1010.0,133.5 1011.0,146.5 1011.0,148.1 1012.0,161.5 1012.0,163.6 1013.0,176.9 1013.0,174.6 1014.0,187.8 1014.0,187.4 1015.0,200.5 1015.0,199.5 1016.0,212.6 1016.0,215.4 1017.0,228.5 1017.0,225.6 1018.0,238.7 1018.0,239.4 1019.0,252.4 1019.0,252.4 1020.0,265.3 1020.0,267.6 1021.0,280.4 1021.0,277.2 1022.0,289.8 1022.0,289.8 1023.0,302.1 1023.0,303.8 1024.0,315.8 1024.0,315.5 1025.0,327.2 1025.0,322.8 1026.0,334.1 1026.0,337.0 1027.0,347.9 1027.0,348.3 1028.0,358.8 1028.0,359.9 1029.0,370.1 1029.0,368.6 1030.0,378.4 1030.0,384.2 1031.0,393.6 1031.0,389.6 1032.0,398.5 1032.0,400.0 1033.0,408.3 1033.0,406.9 1034.0,414.3 1034.0,414.2 1035.0,420.3 1035.0,421.1 1036.0,424.7 1036.0,422.9 1036.5,423.4 1037.0,422.9 1037.0,420.5 1038.0,416.8 1038.0,420.4 1039.0,414.3 1039.0,412.4 1040.0,404.9 1040.0,408.2 1041.0,400.0 1041.0,396.4 1042.0,387.6 1042.0,389.3 1043.0,380.0 1043.0,379.8 1044.0,370.3 1044.0,369.3 1045.0,359.4 1045.0,359.7 1046.0,349.5 1046.0,349.5 1047.0,339.0 1047.0,339.9 1048.0,329.0 1048.0,329.1 1049.0,318.0 1049.0,317.7 1050.0,306.2 1050.0,306.1 1051.0,294.4 1051.0,290.8 1052.0,278.7 1052.0,284.6 1053.0,272.4 1053.0,271.2 1054.0,258.8 1054.0,255.7 1055.0,243.1 1055.0,242.5 1056.0,229.8 1056.0,229.0 1057.0,216.2 1057.0,215.3 1058.0,202.3 1058.0,205.9 1059.0,192.8 1059.0,196.3 1060.0,183.0 1060.0,180.6 1061.0,167.1 1061.0,167.2 1062.0,153.5 1062.0,153.2 1063.0,139.4 1063.0,140.2 1064.0,126.7 1064.0,125.6 1065.0,114.0 1065.0,110.1 1066.0,102.4 1066.0,102.8 1067.0,99.2 1067.0,107.2 1068.0,105.7 1068.0,98.7 1069.0,98.0 1069.0,83.1 1070.0,82.5 1070.0,103.6 1071.0,103.3 1071.0,101.2 1072.0,101.1 1072.0,108.3 1073.0,108.5 1073.0,100.5 1074.0,100.9 1074.0,100.3 1075.0,101.0 1075.0,100.2 1076.0,101.0 1076.0,91.9 1077.0,92.8 1077.0,104.4 1078.0,105.4 1078.0,100.2 1079.0,101.1 1079.0,97.8 1080.0,98.5 1080.0,104.6 1081.0,105.1 1081.0,106.4 1082.0,106.6 1082.0,108.3 1083.0,108.2 1083.0,114.1 1084.0,113.6 1084.0,119.6 1085.0,118.8 1085.0,102.8 1086.0,102.0 1086.0,112.5 1087.0,111.8 1087.0,103.0 1088.0,102.4 1088.0,103.2 1089.0,102.9 1089.0,107.3 1090.0,107.2 1090.0,96.4 1091.0,96.5 1091.0,101.6 1092.0,101.8 1092.0,106.8 1093.0,107.1 1093.0,93.2 1094.0,93.5 1094.0,96.7 1095.0,96.9 1095.0,100.1 1096.0,100.0 1096.0,102.8 1097.0,102.5 1097.0,107.7 1098.0,107.3 1098.0,93.9 1099.0,93.4 1099.0,110.7 1100.0,110.1 1100.0,105.6 1101.0,104.9 1101.0,104.2 1102.0,103.5 1102.0,86.8 1103.0,86.2 1103.0,101.1 1104.0,100.6 1104.0,93.4 1105.0,93.1 1105.0,102.9 1106.0,102.8 1106.0,97.4 1107.0,97.4 1107.0,92.6 1108.0,92.8 1108.0,92.2 1109.0,92.4 1109.0,96.8 1110.0,97.0 1110.0,102.9 1111.0,103.0 1111.0,88.0 1112.0,88.1 1112.0,93.9 1113.0,93.9 1113.0,95.6 1114.0,95.7 1114.0,97.6 1115.0,97.7 1115.0,96.0 1116.0,96.2 1116.0,100.5 1117.0,100.8 1117.0,100.0 1118.0,100.4 1118.0,86.3 1119.0,86.7 1119.0,107.0 1120.0,107.4 1120.0,83.3 1121.0,83.6 1121.0,115.4 1122.0,115.6 1122.0,110.8 1123.0,110.9 1123.0,89.9 1124.0,89.9 1124.0,102.6 1125.0,102.4 1125.0,117.9 1126.0,117.5 1126.0,109.8 1127.0,109.2 1127.0,101.4 1128.0,100.7 1128.0,94.5 1129.0,93.7 1129.0,106.5 1130.0,105.6 1130.0,88.0 1131.0,87.1 1131.0,87.2 1132.0,86.4 1132.0,101.1 1133.0,100.5 1133.0,87.6 1134.0,87.2 1134.0,98.7 1135.0,98.5 1135.0,87.9 1136.0,87.9 1136.0,90.7 1137.0,90.8 1137.0,102.5 1138.0,102.6 1138.0,94.0 1139.0,94.1 1139.0,99.3 1140.0,99.3 1140.0,93.9 1141.0,93.8 1141.0,92.1 1142.0,91.9 1142.0,90.3 1143.0,90.0 1143.0,88.5 1144.0,88.1 1144.0,96.8 1145.0,96.3 1145.0,96.6 1146.0,96.1 1146.0,104.0 1147.0,103.4 1147.0,94.5 1148.0,93.8 1148.0,90.2 1149.0,89.6 1149.0,94.5 1150.0,93.8 1150.0,99.9 1151.0,99.2 1151.0,80.5 1152.0,79.8 1152.0,100.0 1153.0,99.4 1153.0,83.3 1154.0,82.8 1154.0,82.9 1155.0,82.6 1155.0,104.6 1156.0,104.5 1156.0,94.9 1157.0,95.0 1157.0,84.4 1158.0,84.7 1158.0,93.9 1159.0,94.3 1159.0,97.6 1160.0,98.2 1160.0,93.8 1161.0,94.4 1161.0,97.0 1162.0,97.5 1162.0,92.8 1163.0,93.2 1163.0,94.2 1164.0,94.5 1164.0,83.7 1165.0,84.0 1165.0,84.7 1166.0,84.9 1166.0,92.8 1167.0,93.0 1167.0,83.0 1168.0,83.2 1168.0,96.3 1169.0,96.6 1169.0,91.6 1170.0,91.8 1170.0,107.0 1171.0,107.1 1171.0,98.3 1172.0,98.4 1172.0,90.0 1173.0,90.1 1173.0,75.2 1174.0,75.4 1174.0,83.5 1175.0,83.6 1175.0,93.0 1176.0,93.1 1176.0,110.7 1177.0,110.7 1177.0,93.4 1178.0,93.3 1178.0,96.9 1179.0,96.8 1179.0,92.7 1180.0,92.4 1180.0,75.3 1181.0,74.9 1181.0,96.1 1182.0,95.6 1182.0,90.0 1183.0,89.4 1183.0,81.3 1184.0,80.7 1184.0,95.0 1185.0,94.5 1185.0,89.6 1186.0,89.2 1186.0,107.1 1187.0,106.7 1187.0,74.7 1188.0,74.4 1188.0,83.6 1189.0,83.3 1189.0,88.8 1190.0,88.5 1190.0,85.7 1191.0,85.4 1191.0,92.1 1192.0,91.8 1192.0,93.3 1193.0,93.1 1193.0,90.4 1194.0,90.3 1194.0,87.6 1195.0,87.7 1195.0,82.7 1196.0,83.0 1196.0,89.8 1197.0,90.3 1197.0,93.9 1198.0,94.6 1198.0,90.3 1199.0,91.2 1199.0,76.1 1200.0,77.2 1200.0,108.4 1201.0,109.7 1201.0,88.9 1202.0,90.2 1202.0,104.3 1203.0,105.5 1203.0,91.3 1204.0,92.4 1204.0,109.0 1205.0,109.9 1205.0,94.4 1206.0,95.0 1206.0,106.8 1207.0,107.2 1207.0,106.0 1208.0,106.1 1208.0,93.4 1209.0,93.4 1209.0,80.0 1210.0,79.9 1210.0,99.8 1211.0,99.8 1211.0,91.1 1212.0,91.3 1212.0,104.1 1213.0,104.6 1213.0,100.7 1214.0,101.4 1214.0,96.6 1215.0,97.5 1215.0,93.8 1216.0,94.9 1216.0,95.5 1217.0,96.6 1217.0,111.7 1218.0,112.6 1218.0,109.3 1219.0,110.0 1219.0,102.4 1220.0,102.8 1220.0,106.3 1221.0,106.4 1221.0,110.3 1222.0,110.1 1222.0,103.0 1223.0,102.6 1223.0,86.2 1224.0,85.7 1224.0,114.1 1225.0,113.6 1225.0,100.7 1226.0,100.1 1226.0,98.2 1227.0,97.8 1227.0,101.9 1228.0,101.6 1228.0,95.2 1229.0,95.1 1229.0,94.2 1230.0,94.3 1230.0,102.8 1231.0,103.0 1231.0,96.9 1232.0,97.2 1232.0,104.6 1233.0,105.0 1233.0,104.8 1234.0,105.2 1234.0,115.5 1235.0,115.9 1235.0,101.3 1236.0,101.7 1236.0,104.6 1237.0,104.9 1237.0,97.1 1238.0,97.5 1238.0,111.9 1239.0,112.3 1239.0,107.7 1240.0,108.1 1240.0,107.4 1241.0,108.0 1241.0,117.8 1242.0,118.4 1242.0,109.8 1243.0,110.6 1243.0,108.7 1244.0,109.7 1244.0,99.4 1245.0,100.5 1245.0,97.7 1246.0,99.0 1246.0,107.0 1247.0,108.3" fill="none" stroke="#ff0000" stroke-width="3.8" stroke-linejoin="round" stroke-linecap="butt"/><polyline points="123.0,99.5 125.0,99.5 125.0,98.1 127.0,98.1 127.0,102.7 129.0,102.7 129.0,110.2 131.0,110.2 131.0,104.5 133.0,104.5 133.0,105.1 135.0,105.1 135.0,102.7 137.0,102.7 137.0,100.9 139.0,100.9 139.0,106.4 141.0,106.4 141.0,106.6 143.0,106.6 143.0,102.2 145.0,102.2 145.0,105.9 147.0,105.9 147.0,99.6 149.0,99.6 149.0,106.7 151.0,106.7 151.0,102.3 153.0,102.3 153.0,103.0 155.0,103.0 155.0,98.0 157.0,98.0 157.0,97.5 159.0,97.5 159.0,100.7 161.0,100.7 161.0,105.1 163.0,105.1 163.0,101.2 165.0,101.2 165.0,96.2 167.0,96.2 167.0,102.0 169.0,102.0 169.0,92.3 171.0,92.3 171.0,102.9 173.0,102.9 173.0,98.5 175.0,98.5 175.0,105.9 177.0,105.9 177.0,105.8 179.0,105.8 179.0,99.5 181.0,99.5 181.0,108.5 183.0,108.5 183.0,98.6 185.0,98.6 185.0,100.2 187.0,100.2 187.0,96.8 189.0,96.8 189.0,97.7 191.0,97.7 191.0,96.0 193.0,96.0 193.0,90.6 195.0,90.6 195.0,92.5 197.0,92.5 197.0,97.3 199.0,97.3 199.0,104.6 201.0,104.6 201.0,101.5 203.0,101.5 203.0,100.5 205.0,100.5 205.0,99.2 207.0,99.2 207.0,98.2 209.0,98.2 209.0,96.7 211.0,96.7 211.0,104.1 213.0,104.1 213.0,105.3 215.0,105.3 215.0,100.1 217.0,100.1 217.0,99.4 219.0,99.4 219.0,98.3 221.0,98.3 221.0,100.0 223.0,100.0 223.0,102.5 225.0,102.5 225.0,103.5 227.0,103.5 227.0,104.7 229.0,104.7 229.0,97.6 231.0,97.6 231.0,98.0 233.0,98.0 233.0,103.2 235.0,103.2 235.0,102.5 237.0,102.5 237.0,101.2 239.0,101.2 239.0,93.6 241.0,93.6 241.0,97.6 243.0,97.6 243.0,101.0 245.0,101.0 245.0,98.9 247.0,98.9 247.0,96.8 249.0,96.8" fill="none" stroke="#000000" stroke-width="5" stroke-linejoin="round" stroke-linecap="butt"/><polyline points="285.0,102.8 287.0,102.8 287.0,104.9 289.0,104.9 289.0,105.1 291.0,105.1 291.0,101.8 293.0,101.8 293.0,99.6 295.0,99.6 295.0,97.6 297.0,97.6 297.0,102.6 299.0,102.6 299.0,102.5 301.0,102.5 301.0,98.6 303.0,98.6 303.0,97.5 305.0,97.5 305.0,100.8 307.0,100.8" fill="none" stroke="#000000" stroke-width="5" stroke-linejoin="round" stroke-linecap="butt"/><polyline points="345.0,100.6 347.0,100.6 347.0,103.8 349.0,103.8 349.0,98.4 351.0,98.4 351.0,109.2 353.0,109.2 353.0,101.2 355.0,101.2 355.0,101.8 357.0,101.8 357.0,101.7 359.0,101.7 359.0,96.5 361.0,96.5 361.0,103.9 363.0,103.9 363.0,97.3 365.0,97.3 365.0,103.4 367.0,103.4 367.0,97.1 369.0,97.1 369.0,101.5 371.0,101.5 371.0,99.5 373.0,99.5 373.0,101.7 375.0,101.7 375.0,92.5 377.0,92.5 377.0,101.5 379.0,101.5 379.0,96.4 381.0,96.4 381.0,94.8 383.0,94.8 383.0,97.3 385.0,97.3 385.0,99.4 387.0,99.4 387.0,98.3 389.0,98.3 389.0,98.3 391.0,98.3 391.0,104.7 393.0,104.7 393.0,93.5 395.0,93.5 395.0,93.8 397.0,93.8 397.0,98.0 399.0,98.0 399.0,92.9 401.0,92.9 401.0,95.3 403.0,95.3 403.0,94.9 405.0,94.9 405.0,98.3 407.0,98.3 407.0,95.1 409.0,95.1 409.0,97.8 411.0,97.8 411.0,90.1 413.0,90.1 413.0,94.4 415.0,94.4 415.0,104.5 417.0,104.5 417.0,90.5 419.0,90.5 419.0,92.3 421.0,92.3 421.0,91.8 423.0,91.8 423.0,97.8 425.0,97.8 425.0,96.8 427.0,96.8 427.0,93.2 429.0,93.2 429.0,102.1 431.0,102.1 431.0,98.3 433.0,98.3 433.0,91.0 435.0,91.0 435.0,94.0 437.0,94.0 437.0,93.2 439.0,93.2 439.0,93.7 441.0,93.7 441.0,103.3 443.0,103.3 443.0,93.3 445.0,93.3 445.0,103.4 447.0,103.4 447.0,100.3 449.0,100.3 449.0,104.3 451.0,104.3 451.0,98.2 453.0,98.2 453.0,96.8 455.0,96.8 455.0,94.3 457.0,94.3 457.0,97.3 459.0,97.3 459.0,100.1 461.0,100.1 461.0,97.5 463.0,97.5 463.0,99.6 465.0,99.6 465.0,95.7 467.0,95.7 467.0,93.1 469.0,93.1 469.0,95.3 471.0,95.3 471.0,93.7 473.0,93.7 473.0,97.5 475.0,97.5 475.0,102.9 477.0,102.9 477.0,92.4 479.0,92.4 479.0,101.1 481.0,101.1 481.0,98.5 483.0,98.5 483.0,102.0 485.0,102.0 485.0,92.0 487.0,92.0 487.0,103.3 489.0,103.3 489.0,96.6 491.0,96.6 491.0,92.0 493.0,92.0 493.0,88.1 495.0,88.1 495.0,101.8 497.0,101.8 497.0,96.7 499.0,96.7 499.0,99.2 501.0,99.2 501.0,100.1 503.0,100.1 503.0,101.1 505.0,101.1 505.0,101.2 507.0,101.2 507.0,98.4 509.0,98.4 509.0,101.6 511.0,101.6 511.0,107.9 513.0,107.9 513.0,100.9 515.0,100.9 515.0,97.0 517.0,97.0 517.0,102.9 519.0,102.9 519.0,102.8 521.0,102.8 521.0,97.7 523.0,97.7 523.0,94.6 525.0,94.6 525.0,94.8 527.0,94.8 527.0,104.8 529.0,104.8 529.0,103.1 531.0,103.1 531.0,107.2 533.0,107.2 533.0,97.6 535.0,97.6 535.0,96.9 537.0,96.9 537.0,90.6 539.0,90.6 539.0,99.5 541.0,99.5 541.0,93.4 543.0,93.4 543.0,101.6 545.0,101.6 545.0,98.0 547.0,98.0 547.0,94.4 549.0,94.4 549.0,99.8 551.0,99.8 551.0,95.6 553.0,95.6 553.0,104.4 555.0,104.4 555.0,100.1 557.0,100.1 557.0,99.4 559.0,99.4 559.0,96.1 561.0,96.1 561.0,93.1 563.0,93.1 563.0,90.3 565.0,90.3 565.0,83.3 567.0,83.3 567.0,90.1 569.0,90.1 569.0,92.5 571.0,92.5 571.0,89.9 573.0,89.9 573.0,85.8 575.0,85.8 575.0,89.1 577.0,89.1 577.0,88.0 579.0,88.0 579.0,93.6 581.0,93.6 581.0,91.0 583.0,91.0 583.0,88.4 585.0,88.4 585.0,88.7 587.0,88.7 587.0,93.8 589.0,93.8 589.0,96.8 591.0,96.8 591.0,95.6 593.0,95.6 593.0,103.5 595.0,103.5 595.0,98.3 597.0,98.3 597.0,100.0 599.0,100.0 599.0,98.2 601.0,98.2 601.0,95.9 603.0,95.9 603.0,100.3 605.0,100.3 605.0,92.8 607.0,92.8 607.0,95.2 609.0,95.2 609.0,101.5 611.0,101.5 611.0,85.4 613.0,85.4 613.0,103.3 615.0,103.3 615.0,98.6 617.0,98.6 617.0,106.9 619.0,106.9 619.0,103.9 621.0,103.9 621.0,104.6 623.0,104.6 623.0,98.0 625.0,98.0 625.0,103.7 627.0,103.7 627.0,101.3 629.0,101.3 629.0,102.5 631.0,102.5 631.0,109.6 633.0,109.6 633.0,99.6 635.0,99.6 635.0,97.6 637.0,97.6 637.0,95.8 639.0,95.8 639.0,93.9 641.0,93.9 641.0,99.6 643.0,99.6 643.0,98.6 645.0,98.6 645.0,95.8 647.0,95.8 647.0,102.8 649.0,102.8 649.0,93.5 651.0,93.5 651.0,96.2 653.0,96.2 653.0,104.0 655.0,104.0 655.0,98.0 657.0,98.0 657.0,96.6 659.0,96.6 659.0,88.9 661.0,88.9 661.0,90.0 663.0,90.0 663.0,96.9 665.0,96.9 665.0,93.7 667.0,93.7 667.0,97.5 669.0,97.5 669.0,95.5 671.0,95.5 671.0,95.3 673.0,95.3 673.0,93.7 675.0,93.7 675.0,96.8 677.0,96.8 677.0,95.0 679.0,95.0 679.0,92.5 681.0,92.5 681.0,103.8 683.0,103.8 683.0,95.6 685.0,95.6 685.0,90.8 687.0,90.8 687.0,85.4 689.0,85.4 689.0,90.1 691.0,90.1 691.0,93.7 693.0,93.7 693.0,92.5 695.0,92.5 695.0,93.0 697.0,93.0 697.0,93.5 699.0,93.5 699.0,92.7 701.0,92.7 701.0,88.4 703.0,88.4 703.0,89.4 705.0,89.4 705.0,84.6 707.0,84.6 707.0,88.7 709.0,88.7 709.0,87.5 711.0,87.5 711.0,83.3 713.0,83.3 713.0,88.4 715.0,88.4 715.0,76.4 717.0,76.4 717.0,77.0 719.0,77.0 719.0,82.8 721.0,82.8 721.0,73.7 723.0,73.7 723.0,81.0 725.0,81.0 725.0,89.2 727.0,89.2 727.0,70.8 729.0,70.8 729.0,85.6 731.0,85.6 731.0,76.4 733.0,76.4 733.0,85.5 735.0,85.5 735.0,85.7 737.0,85.7 737.0,83.3 739.0,83.3 739.0,81.3 741.0,81.3 741.0,92.6 743.0,92.6 743.0,87.2 745.0,87.2 745.0,86.4 747.0,86.4 747.0,95.9 749.0,95.9 749.0,90.8 751.0,90.8 751.0,86.6 753.0,86.6 753.0,86.7 755.0,86.7 755.0,88.3 757.0,88.3 757.0,89.1 759.0,89.1 759.0,96.5 761.0,96.5 761.0,89.6 763.0,89.6 763.0,85.9 765.0,85.9 765.0,94.2 767.0,94.2 767.0,93.1 769.0,93.1 769.0,88.5 771.0,88.5 771.0,89.2 773.0,89.2 773.0,90.9 775.0,90.9 775.0,95.3 777.0,95.3 777.0,92.4 779.0,92.4 779.0,101.3 781.0,101.3 781.0,92.5 783.0,92.5 783.0,88.7 785.0,88.7 785.0,92.8 787.0,92.8 787.0,96.0 789.0,96.0 789.0,102.7 791.0,102.7 791.0,107.3 793.0,107.3 793.0,96.6 795.0,96.6 795.0,97.8 797.0,97.8 797.0,98.5 799.0,98.5 799.0,94.4 801.0,94.4 801.0,96.7 803.0,96.7 803.0,97.5 805.0,97.5 805.0,95.4 807.0,95.4 807.0,96.4 809.0,96.4 809.0,100.2 811.0,100.2 811.0,97.0 813.0,97.0 813.0,97.6 815.0,97.6 815.0,101.6 817.0,101.6 817.0,98.4 819.0,98.4 819.0,94.4 821.0,94.4 821.0,98.5 823.0,98.5 823.0,92.3 825.0,92.3 825.0,103.7 827.0,103.7 827.0,91.9 829.0,91.9 829.0,94.4 831.0,94.4 831.0,97.7 833.0,97.7 833.0,91.5 835.0,91.5 835.0,92.8 837.0,92.8 837.0,93.0 839.0,93.0 839.0,93.1 841.0,93.1 841.0,85.8 843.0,85.8 843.0,94.2 845.0,94.2 845.0,96.9 847.0,96.9 847.0,87.4 849.0,87.4 849.0,97.9 851.0,97.9 851.0,96.6 853.0,96.6 853.0,96.5 855.0,96.5 855.0,95.6 857.0,95.6 857.0,95.7 859.0,95.7 859.0,97.9 861.0,97.9 861.0,100.7 863.0,100.7 863.0,91.0 865.0,91.0 865.0,104.2 867.0,104.2 867.0,106.1 869.0,106.1 869.0,104.7 871.0,104.7 871.0,104.1 873.0,104.1 873.0,91.2 875.0,91.2 875.0,99.6 877.0,99.6 877.0,101.5 879.0,101.5 879.0,100.2 881.0,100.2 881.0,105.1 883.0,105.1 883.0,97.0 885.0,97.0 885.0,99.1 887.0,99.1 887.0,101.3 889.0,101.3 889.0,104.8 891.0,104.8 891.0,99.4 893.0,99.4 893.0,95.4 895.0,95.4 895.0,98.2 897.0,98.2 897.0,94.8 899.0,94.8 899.0,103.8 901.0,103.8 901.0,99.8 903.0,99.8 903.0,101.5 905.0,101.5 905.0,99.4 907.0,99.4 907.0,105.4 909.0,105.4 909.0,108.8 911.0,108.8 911.0,110.4 913.0,110.4 913.0,105.8 915.0,105.8 915.0,105.1 917.0,105.1 917.0,107.5 919.0,107.5 919.0,103.7 921.0,103.7 921.0,96.9 923.0,96.9 923.0,106.4 925.0,106.4 925.0,97.5 927.0,97.5 927.0,102.0 929.0,102.0 929.0,98.3 931.0,98.3 931.0,95.3 933.0,95.3 933.0,97.3 935.0,97.3 935.0,104.4 937.0,104.4 937.0,108.8 939.0,108.8 939.0,106.3 941.0,106.3 941.0,105.3 943.0,105.3 943.0,111.4 945.0,111.4 945.0,106.2 947.0,106.2 947.0,101.6 949.0,101.6 949.0,108.2 951.0,108.2 951.0,98.7 953.0,98.7 953.0,97.9 955.0,97.9 955.0,105.0 957.0,105.0 957.0,105.5 959.0,105.5 959.0,104.4 961.0,104.4 961.0,100.4 963.0,100.4 963.0,92.8 965.0,92.8 965.0,89.0 967.0,89.0 967.0,101.1 969.0,101.1 969.0,99.3 971.0,99.3 971.0,104.5 973.0,104.5 973.0,101.3 975.0,101.3 975.0,109.7 977.0,109.7 977.0,104.6 979.0,104.6 979.0,105.2 981.0,105.2 981.0,105.5 983.0,105.5 983.0,100.0 985.0,100.0 985.0,101.7 987.0,101.7 987.0,100.0 989.0,100.0 989.0,96.1 991.0,96.1 991.0,95.3 993.0,95.3 993.0,102.4 995.0,102.4 995.0,102.4 997.0,102.4 997.0,102.5 999.0,102.5 999.0,95.6 1001.0,95.6 1001.0,89.7 1003.0,89.7 1003.0,100.3 1005.0,100.3 1005.0,94.0 1007.0,94.0 1007.0,100.3 1009.0,100.3 1009.0,99.4 1011.0,99.4 1011.0,100.6 1013.0,100.6 1013.0,101.9 1015.0,101.9 1015.0,95.9 1017.0,95.9 1017.0,106.2 1019.0,106.2 1019.0,97.6 1021.0,97.6 1021.0,105.0 1023.0,105.0 1023.0,103.7 1025.0,103.7 1025.0,99.0 1027.0,99.0 1027.0,109.0 1029.0,109.0 1029.0,99.1 1031.0,99.1 1031.0,102.2 1033.0,102.2 1033.0,98.9 1035.0,98.9 1035.0,101.6 1037.0,101.6 1037.0,100.2 1039.0,100.2 1039.0,97.2 1041.0,97.2 1041.0,102.6 1043.0,102.6 1043.0,107.8 1045.0,107.8 1045.0,108.1 1047.0,108.1 1047.0,104.6 1049.0,104.6 1049.0,105.2 1051.0,105.2 1051.0,104.6 1053.0,104.6 1053.0,94.7 1055.0,94.7 1055.0,104.2 1057.0,104.2 1057.0,103.1 1059.0,103.1 1059.0,93.7 1061.0,93.7 1061.0,106.8 1063.0,106.8 1063.0,97.0 1065.0,97.0 1065.0,100.8 1067.0,100.8 1067.0,99.1 1069.0,99.1 1069.0,106.1 1071.0,106.1 1071.0,101.8 1073.0,101.8 1073.0,101.5 1075.0,101.5 1075.0,97.0 1077.0,97.0 1077.0,102.2 1079.0,102.2 1079.0,109.2 1081.0,109.2 1081.0,103.0 1083.0,103.0 1083.0,103.5 1085.0,103.5 1085.0,105.2 1087.0,105.2 1087.0,97.2 1089.0,97.2 1089.0,100.8 1091.0,100.8 1091.0,94.5 1093.0,94.5 1093.0,99.2 1095.0,99.2 1095.0,106.2 1097.0,106.2 1097.0,98.9 1099.0,98.9 1099.0,99.1 1101.0,99.1 1101.0,103.3 1103.0,103.3 1103.0,106.0 1105.0,106.0 1105.0,103.2 1107.0,103.2 1107.0,98.6 1109.0,98.6 1109.0,100.7 1111.0,100.7 1111.0,103.8 1113.0,103.8 1113.0,99.6 1115.0,99.6 1115.0,95.2 1117.0,95.2 1117.0,101.3 1119.0,101.3 1119.0,100.3 1121.0,100.3 1121.0,105.7 1123.0,105.7 1123.0,114.4 1125.0,114.4 1125.0,105.5 1127.0,105.5 1127.0,108.8 1129.0,108.8 1129.0,102.6 1131.0,102.6 1131.0,102.5 1133.0,102.5 1133.0,106.4 1135.0,106.4 1135.0,104.0 1137.0,104.0 1137.0,105.6 1139.0,105.6 1139.0,98.9 1141.0,98.9 1141.0,104.4 1143.0,104.4 1143.0,103.6 1145.0,103.6 1145.0,102.2 1147.0,102.2 1147.0,105.4 1149.0,105.4 1149.0,104.0 1151.0,104.0 1151.0,108.0 1153.0,108.0 1153.0,114.3 1155.0,114.3 1155.0,105.3 1157.0,105.3 1157.0,104.2 1159.0,104.2 1159.0,106.3 1161.0,106.3 1161.0,107.2 1163.0,107.2 1163.0,103.7 1165.0,103.7 1165.0,108.4 1167.0,108.4 1167.0,100.1 1169.0,100.1 1169.0,103.8 1171.0,103.8 1171.0,98.8 1173.0,98.8 1173.0,109.2 1175.0,109.2 1175.0,108.7 1177.0,108.7 1177.0,106.6 1179.0,106.6 1179.0,105.0 1181.0,105.0 1181.0,107.6 1183.0,107.6 1183.0,102.9 1185.0,102.9 1185.0,106.2 1187.0,106.2 1187.0,106.9 1189.0,106.9 1189.0,98.1 1191.0,98.1 1191.0,105.2 1193.0,105.2 1193.0,105.0 1195.0,105.0 1195.0,102.3 1197.0,102.3 1197.0,111.8 1199.0,111.8 1199.0,105.8 1201.0,105.8 1201.0,105.7 1203.0,105.7 1203.0,99.1 1205.0,99.1 1205.0,110.3 1207.0,110.3 1207.0,112.9 1209.0,112.9 1209.0,105.0 1211.0,105.0 1211.0,109.3 1213.0,109.3 1213.0,106.7 1215.0,106.7 1215.0,111.8 1217.0,111.8 1217.0,100.4 1219.0,100.4 1219.0,103.8 1221.0,103.8 1221.0,105.7 1223.0,105.7 1223.0,97.9 1225.0,97.9 1225.0,107.5 1227.0,107.5 1227.0,105.9 1229.0,105.9 1229.0,110.5 1231.0,110.5 1231.0,101.8 1233.0,101.8 1233.0,108.8 1235.0,108.8 1235.0,102.3 1237.0,102.3 1237.0,99.2 1239.0,99.2 1239.0,104.3 1241.0,104.3 1241.0,100.2 1243.0,100.2 1243.0,103.9 1245.0,103.9 1245.0,116.8 1247.0,116.8" fill="none" stroke="#000000" stroke-width="5" stroke-linejoin="round" stroke-linecap="butt"/><polyline points="123.0,88.9 124.0,88.6 124.0,114.8 125.0,114.6 125.0,98.9 126.0,98.7 126.0,101.4 127.0,101.3 127.0,93.1 128.0,93.1 128.0,103.2 129.0,103.2 129.0,104.0 130.0,104.1 130.0,100.7 131.0,100.8 131.0,103.6 132.0,103.7 132.0,103.2 133.0,103.3 133.0,105.0 134.0,105.1 134.0,93.4 135.0,93.4 135.0,99.2 136.0,99.0 136.0,94.3 137.0,94.1 137.0,101.3 138.0,101.0 138.0,100.3 139.0,100.0 139.0,99.8 140.0,99.5 140.0,92.0 141.0,91.8 141.0,112.3 142.0,112.1 142.0,93.9 143.0,93.8 143.0,103.5 144.0,103.4 144.0,97.1 145.0,97.1 145.0,109.6 146.0,109.7 146.0,108.0 147.0,108.1 147.0,103.1 148.0,103.3 148.0,104.9 149.0,105.1 149.0,95.2 150.0,95.3 150.0,87.9 151.0,88.0 151.0,105.9 152.0,106.0 152.0,101.1 153.0,101.0 153.0,83.6 154.0,83.5 154.0,99.7 155.0,99.5 155.0,92.2 156.0,92.0 156.0,91.1 157.0,90.9 157.0,99.9 158.0,99.7 158.0,100.5 159.0,100.3 159.0,97.8 160.0,97.6 160.0,96.4 161.0,96.3 161.0,92.7 162.0,92.6 162.0,98.1 163.0,98.0 163.0,98.5 164.0,98.5 164.0,96.3 165.0,96.4 165.0,114.8 166.0,115.0 166.0,97.8 167.0,98.0 167.0,100.6 168.0,100.9 168.0,90.3 169.0,90.5 169.0,97.9 170.0,98.1 170.0,100.9 171.0,101.1 171.0,104.5 172.0,104.7 172.0,83.7 173.0,83.9 173.0,108.0 174.0,108.1 174.0,107.7 175.0,107.8 175.0,103.0 176.0,103.0 176.0,94.8 177.0,94.7 177.0,89.9 178.0,89.7 178.0,87.0 179.0,86.7 179.0,105.4 180.0,104.9 180.0,104.7 181.0,104.1 181.0,99.8 182.0,99.1 182.0,103.8 183.0,103.1 183.0,92.4 184.0,91.7 184.0,90.6 185.0,90.0 185.0,105.2 186.0,104.8 186.0,103.8 187.0,103.6 187.0,101.5 188.0,101.4 188.0,103.4 189.0,103.5 189.0,96.2 190.0,96.4 190.0,81.8 191.0,82.2 191.0,95.4 192.0,95.9 192.0,104.7 193.0,105.3 193.0,96.5 194.0,97.1 194.0,103.3 195.0,103.8 195.0,103.3 196.0,103.8 196.0,94.0 197.0,94.4 197.0,106.5 198.0,106.8 198.0,101.1 199.0,101.2 199.0,91.3 200.0,91.3 200.0,113.7 201.0,113.7 201.0,93.7 202.0,93.6 202.0,103.6 203.0,103.5 203.0,103.8 204.0,103.9 204.0,95.7 205.0,95.9 205.0,94.9 206.0,95.2 206.0,104.0 207.0,104.4 207.0,103.1 208.0,103.4 208.0,109.8 209.0,110.0 209.0,103.3 210.0,103.4 210.0,105.6 211.0,105.5 211.0,103.3 212.0,103.0 212.0,108.0 213.0,107.7 213.0,95.1 214.0,94.7 214.0,83.7 215.0,83.4 215.0,104.1 216.0,103.9 216.0,98.2 217.0,98.1 217.0,92.7 218.0,92.7 218.0,111.4 219.0,111.4 219.0,83.1 220.0,83.1 220.0,98.7 221.0,98.5 221.0,106.2 222.0,106.0 222.0,98.8 223.0,98.5 223.0,97.0 224.0,96.7 224.0,103.2 225.0,102.9 225.0,96.7 226.0,96.5 226.0,81.4 227.0,81.3 227.0,90.3 228.0,90.3 228.0,103.2 229.0,103.2 229.0,103.1 230.0,103.1 230.0,91.2 231.0,91.1 231.0,100.4 232.0,100.2 232.0,102.6 233.0,102.4 233.0,102.6 234.0,102.4 234.0,107.4 235.0,107.4 235.0,110.0 236.0,110.1 236.0,97.7 237.0,98.1 237.0,95.4 238.0,95.9 238.0,103.3 239.0,103.9 239.0,92.1 240.0,92.6 240.0,89.5 241.0,89.9 241.0,105.5 242.0,105.7 242.0,107.7 243.0,107.6 243.0,104.2 244.0,103.9 244.0,102.1 245.0,101.7 245.0,89.5 246.0,89.1 246.0,82.0 247.0,81.7 247.0,95.0 248.0,95.5 248.0,109.4 249.0,112.4 249.0,99.8 250.0,108.3 250.0,111.2 251.0,126.1 251.0,124.5 252.0,143.3 252.0,146.8 253.0,166.7 253.0,161.5 254.0,181.3 254.0,186.9 255.0,206.2 255.0,203.5 256.0,222.2 256.0,217.9 257.0,236.0 257.0,240.3 258.0,257.8 258.0,259.4 259.0,276.2 259.0,275.4 260.0,291.5 260.0,291.4 261.0,306.9 261.0,305.7 262.0,320.5 262.0,320.5 263.0,334.4 263.0,335.0 264.0,347.8 264.0,346.7 265.0,357.6 265.0,361.4 266.0,368.8 266.0,364.1 266.8,365.9 267.0,365.7 267.0,367.9 268.0,362.8 268.0,362.1 269.0,351.9 269.0,347.9 270.0,334.8 270.0,341.5 271.0,326.7 271.0,324.9 272.0,308.9 272.0,307.4 273.0,290.5 273.0,290.3 274.0,272.6 274.0,273.1 275.0,254.7 275.0,258.1 276.0,238.9 276.0,236.7 277.0,217.0 277.0,215.1 278.0,194.7 278.0,196.4 279.0,175.3 279.0,174.0 280.0,152.6 280.0,154.6 281.0,134.1 281.0,134.6 282.0,118.0 282.0,119.9 283.0,110.1 283.0,108.8 284.0,105.1 284.0,103.9 285.0,103.2 285.0,94.2 286.0,94.3 286.0,104.1 286.5,58.0 286.5,147.0 287.0,104.3 287.0,109.9 288.0,110.0 288.0,93.6 289.0,93.7 289.0,109.0 290.0,109.0 290.0,99.2 291.0,99.2 291.0,99.0 292.0,98.9 292.0,99.1 293.0,98.9 293.0,107.4 294.0,107.1 294.0,102.8 295.0,102.5 295.0,103.5 296.0,103.1 296.0,95.4 297.0,95.0 297.0,111.6 298.0,111.2 298.0,94.9 299.0,94.5 299.0,109.1 300.0,108.7 300.0,108.3 301.0,108.0 301.0,104.6 302.0,104.3 302.0,91.6 303.0,91.3 303.0,99.7 304.0,99.4 304.0,94.2 305.0,94.0 305.0,108.9 306.0,108.9 306.0,100.7 307.0,101.3 307.0,102.2 308.0,104.7 308.0,103.2 309.0,108.8 309.0,109.5 310.0,118.2 310.0,117.7 311.0,127.8 311.0,129.6 312.0,139.9 312.0,138.9 313.0,148.8 313.0,148.4 314.0,157.9 314.0,157.0 315.0,166.0 315.0,165.7 316.0,174.3 316.0,171.7 317.0,179.9 317.0,181.1 318.0,189.0 318.0,188.6 319.0,196.2 319.0,199.1 320.0,206.4 320.0,199.9 321.0,207.0 321.0,208.0 322.0,214.8 322.0,217.5 323.0,223.8 323.0,225.3 324.0,230.7 324.0,229.5 325.0,233.0 325.0,233.4 325.5,234.0 326.0,233.8 326.0,235.1 327.0,232.4 327.0,233.6 328.0,228.7 328.0,229.1 329.0,222.9 329.0,221.1 330.0,214.1 330.0,215.0 331.0,207.3 331.0,205.0 332.0,196.8 332.0,196.0 333.0,187.3 333.0,189.7 334.0,180.5 334.0,182.1 335.0,172.6 335.0,171.0 336.0,161.2 336.0,157.3 337.0,147.3 337.0,152.1 338.0,141.9 338.0,143.2 339.0,132.9 339.0,131.0 340.0,121.0 340.0,119.2 341.0,110.7 341.0,107.6 342.0,102.2 342.0,100.0 343.0,97.7 343.0,113.9 344.0,113.3 344.0,101.8 345.0,101.8 345.0,102.5 346.0,102.5 346.0,102.9 347.0,102.9 347.0,103.2 348.0,103.3 348.0,106.5 349.0,106.6 349.0,101.7 350.0,101.7 350.0,106.4 351.0,106.2 351.0,100.6 352.0,100.4 352.0,98.9 353.0,98.6 353.0,92.3 354.0,91.9 354.0,103.9 354.5,72.0 354.5,100.0 355.0,103.6 355.0,111.1 356.0,110.8 356.0,106.5 357.0,106.3 357.0,109.4 358.0,109.4 358.0,100.0 359.0,100.0 359.0,94.5 360.0,94.6 360.0,97.7 361.0,97.9 361.0,95.7 362.0,95.9 362.0,108.1 363.0,108.3 363.0,119.3 364.0,119.4 364.0,95.9 365.0,95.9 365.0,106.0 366.0,105.8 366.0,94.1 367.0,93.8 367.0,104.7 368.0,104.3 368.0,107.3 369.0,106.7 369.0,96.4 370.0,95.8 370.0,117.3 371.0,116.7 371.0,97.6 372.0,97.0 372.0,101.5 373.0,101.0 373.0,109.9 374.0,109.5 374.0,89.0 375.0,88.7 375.0,101.6 376.0,101.5 376.0,96.8 377.0,96.8 377.0,107.9 378.0,108.1 378.0,98.4 379.0,98.7 379.0,97.8 380.0,98.1 380.0,102.4 381.0,102.8 381.0,116.0 382.0,116.3 382.0,96.1 383.0,96.3 383.0,89.6 384.0,89.6 384.0,95.0 385.0,94.9 385.0,105.9 386.0,105.6 386.0,88.0 387.0,87.6 387.0,91.6 388.0,91.2 388.0,94.5 389.0,94.2 389.0,92.4 390.0,92.2 390.0,96.9 391.0,96.9 391.0,90.0 392.0,90.1 392.0,85.1 393.0,85.3 393.0,112.8 394.0,112.9 394.0,105.0 395.0,105.1 395.0,97.3 396.0,97.2 396.0,92.1 397.0,92.0 397.0,90.3 398.0,90.1 398.0,86.1 399.0,85.7 399.0,90.4 400.0,90.0 400.0,98.4 401.0,98.1 401.0,98.7 402.0,98.4 402.0,105.8 403.0,105.7 403.0,97.0 404.0,97.1 404.0,89.6 405.0,89.8 405.0,108.6 406.0,108.9 406.0,100.9 407.0,101.2 407.0,89.1 408.0,89.4 408.0,89.5 409.0,89.7 409.0,109.1 410.0,109.2 410.0,92.9 411.0,92.7 411.0,98.2 412.0,97.9 412.0,90.9 413.0,90.5 413.0,110.2 414.0,109.6 414.0,109.6 415.0,109.1 415.0,77.7 416.0,77.1 416.0,88.5 417.0,88.2 417.0,99.4 418.0,99.2 418.0,96.5 419.0,96.5 419.0,94.2 420.0,94.4 420.0,86.5 421.0,86.9 421.0,83.9 422.0,84.4 422.0,93.2 423.0,93.8 423.0,102.8 424.0,103.3 424.0,103.4 425.0,103.9 425.0,112.9 426.0,113.1 426.0,79.4 427.0,79.4 427.0,99.0 428.0,98.8 428.0,99.2 429.0,98.8 429.0,113.9 430.0,113.4 430.0,92.2 431.0,91.8 431.0,105.2 432.0,104.9 432.0,85.6 433.0,85.5 433.0,102.7 434.0,102.7 434.0,89.7 435.0,89.9 435.0,89.1 436.0,89.5 436.0,98.6 437.0,99.1 437.0,93.7 438.0,94.2 438.0,98.8 439.0,99.3 439.0,96.7 440.0,97.2 440.0,92.7 441.0,93.1 441.0,103.6 442.0,103.9 442.0,96.9 443.0,97.2 443.0,94.3 444.0,94.4 444.0,94.3 445.0,94.3 445.0,86.5 446.0,86.4 446.0,90.1 447.0,90.0 447.0,102.8 448.0,102.6 448.0,101.2 449.0,101.0 449.0,97.2 449.5,73.0 449.5,100.0 450.0,97.0 450.0,106.5 451.0,106.3 451.0,97.7 452.0,97.6 452.0,97.7 453.0,97.7 453.0,101.1 454.0,101.2 454.0,99.9 455.0,100.0 455.0,105.4 456.0,105.5 456.0,94.4 457.0,94.6 457.0,98.7 458.0,98.9 458.0,98.3 459.0,98.5 459.0,96.2 459.5,73.0 459.5,100.0 460.0,96.4 460.0,98.1 461.0,98.2 461.0,104.8 462.0,104.9 462.0,108.7 463.0,108.7 463.0,99.1 464.0,99.0 464.0,98.9 465.0,98.6 465.0,102.3 466.0,101.9 466.0,112.7 467.0,112.3 467.0,101.8 468.0,101.4 468.0,108.1 469.0,107.8 469.0,113.9 470.0,113.5 470.0,104.2 471.0,103.9 471.0,92.7 472.0,92.5 472.0,93.9 473.0,93.7 473.0,93.6 474.0,93.5 474.0,93.0 475.0,93.0 475.0,102.5 476.0,102.7 476.0,92.1 477.0,92.3 477.0,103.5 478.0,103.8 478.0,94.1 479.0,94.4 479.0,91.5 480.0,91.8 480.0,105.4 481.0,105.7 481.0,88.5 482.0,88.8 482.0,114.7 483.0,114.9 483.0,89.2 484.0,89.3 484.0,101.6 485.0,101.6 485.0,100.1 486.0,100.1 486.0,100.1 487.0,99.9 487.0,97.6 488.0,97.5 488.0,93.7 489.0,93.4 489.0,96.1 490.0,95.8 490.0,106.4 491.0,106.1 491.0,103.5 492.0,103.2 492.0,111.6 493.0,111.3 493.0,104.2 494.0,104.1 494.0,100.7 495.0,100.7 495.0,98.2 496.0,98.4 496.0,96.0 497.0,96.4 497.0,106.3 498.0,106.7 498.0,95.7 499.0,96.3 499.0,96.6 500.0,97.3 500.0,95.0 501.0,95.7 501.0,103.3 502.0,104.0 502.0,117.0 503.0,117.6 503.0,99.0 504.0,99.6 504.0,90.5 505.0,90.9 505.0,97.2 506.0,97.4 506.0,107.7 507.0,107.8 507.0,99.7 508.0,99.7 508.0,98.9 509.0,98.9 509.0,106.5 510.0,106.4 510.0,101.3 511.0,101.1 511.0,96.0 512.0,95.8 512.0,107.5 513.0,107.4 513.0,94.8 514.0,94.6 514.0,100.3 515.0,100.1 515.0,112.9 516.0,112.6 516.0,85.9 517.0,85.4 517.0,110.4 518.0,109.8 518.0,87.3 519.0,86.7 519.0,100.3 520.0,99.6 520.0,84.4 521.0,83.8 521.0,95.6 522.0,95.2 522.0,92.2 523.0,92.0 523.0,92.7 524.0,92.6 524.0,91.2 525.0,91.3 525.0,106.6 526.0,106.9 526.0,103.6 527.0,104.0 527.0,87.5 528.0,87.9 528.0,86.5 529.0,86.9 529.0,97.3 530.0,97.5 530.0,89.4 531.0,89.5 531.0,115.9 532.0,115.8 532.0,107.8 533.0,107.6 533.0,106.4 534.0,106.1 534.0,86.8 535.0,86.4 535.0,93.1 536.0,92.6 536.0,103.6 537.0,103.1 537.0,85.4 538.0,84.9 538.0,100.9 539.0,100.5 539.0,96.1 540.0,95.8 540.0,101.6 541.0,101.6 541.0,95.1 542.0,95.2 542.0,95.1 543.0,95.4 543.0,87.3 544.0,87.7 544.0,95.3 545.0,95.7 545.0,90.9 546.0,91.3 546.0,101.6 547.0,102.0 547.0,88.0 548.0,88.2 548.0,103.1 549.0,103.1 549.0,104.1 550.0,104.0 550.0,101.7 551.0,101.5 551.0,79.5 552.0,79.3 552.0,88.9 553.0,88.7 553.0,99.4 554.0,99.2 554.0,97.4 555.0,97.2 555.0,94.0 556.0,93.8 556.0,94.9 557.0,94.6 557.0,89.0 558.0,88.6 558.0,88.9 559.0,88.5 559.0,88.1 560.0,87.4 560.0,90.7 561.0,89.9 561.0,92.8 562.0,91.9 562.0,88.5 563.0,87.6 563.0,85.8 564.0,84.8 564.0,97.7 565.0,96.9 565.0,91.3 566.0,90.6 566.0,82.8 567.0,82.4 567.0,106.4 568.0,106.1 568.0,71.9 569.0,71.8 569.0,92.4 570.0,92.4 570.0,90.6 571.0,90.6 571.0,84.7 572.0,84.8 572.0,81.8 573.0,82.0 573.0,88.2 574.0,88.4 574.0,95.8 575.0,96.1 575.0,95.0 576.0,95.3 576.0,92.7 577.0,92.9 577.0,91.1 578.0,91.3 578.0,90.3 579.0,90.5 579.0,96.2 580.0,96.4 580.0,92.0 581.0,92.2 581.0,92.1 582.0,92.4 582.0,99.7 583.0,100.0 583.0,87.7 584.0,88.1 584.0,93.7 585.0,94.2 585.0,91.6 586.0,92.1 586.0,82.2 587.0,82.7 587.0,102.3 588.0,102.8 588.0,87.2 589.0,87.6 589.0,91.4 590.0,91.9 590.0,88.8 591.0,89.2 591.0,97.6 592.0,98.1 592.0,99.0 593.0,99.6 593.0,106.5 594.0,107.1 594.0,107.2 595.0,107.9 595.0,114.6 596.0,115.3 596.0,101.3 597.0,101.8 597.0,105.0 598.0,105.5 598.0,97.3 599.0,97.6 599.0,92.8 600.0,92.9 600.0,107.2 601.0,107.2 601.0,94.1 602.0,93.9 602.0,103.5 603.0,103.1 603.0,108.5 604.0,108.1 604.0,98.3 605.0,97.8 605.0,107.1 606.0,106.7 606.0,98.1 607.0,97.7 607.0,96.8 608.0,96.5 608.0,101.4 609.0,101.2 609.0,108.8 610.0,108.7 610.0,88.8 611.0,88.8 611.0,98.6 612.0,98.7 612.0,92.3 613.0,92.4 613.0,98.8 614.0,99.0 614.0,100.5 615.0,100.8 615.0,88.3 615.5,67.0 615.5,131.0 616.0,88.7 616.0,91.0 617.0,91.6 617.0,104.3 618.0,105.0 618.0,102.0 619.0,102.9 619.0,96.0 620.0,97.0 620.0,101.4 621.0,102.4 621.0,108.1 622.0,108.9 622.0,108.7 623.0,109.4 623.0,90.1 624.0,90.5 624.0,100.4 625.0,100.6 625.0,114.8 626.0,114.7 626.0,101.5 627.0,101.2 627.0,100.8 628.0,100.4 628.0,104.1 629.0,103.7 629.0,105.0 630.0,104.5 630.0,103.9 631.0,103.4 631.0,104.3 632.0,103.9 632.0,96.4 633.0,96.0 633.0,103.7 634.0,103.3 634.0,105.7 635.0,105.3 635.0,100.8 636.0,100.4 636.0,98.8 637.0,98.5 637.0,95.0 638.0,94.7 638.0,101.6 639.0,101.4 639.0,91.1 640.0,91.0 640.0,93.4 641.0,93.3 641.0,97.4 642.0,97.4 642.0,83.7 643.0,83.6 643.0,99.8 644.0,99.7 644.0,88.3 645.0,88.2 645.0,92.3 646.0,92.2 646.0,92.1 647.0,92.0 647.0,92.7 648.0,92.6 648.0,95.9 649.0,95.8 649.0,100.8 650.0,100.6 650.0,89.9 651.0,89.7 651.0,93.9 652.0,93.6 652.0,100.6 653.0,100.1 653.0,92.0 654.0,91.5 654.0,90.5 655.0,89.9 655.0,96.0 656.0,95.4 656.0,98.2 657.0,97.7 657.0,96.8 658.0,96.4 658.0,84.6 659.0,84.4 659.0,93.6 660.0,93.6 660.0,92.5 661.0,92.7 661.0,103.9 662.0,104.3 662.0,92.4 663.0,92.7 663.0,92.0 664.0,92.2 664.0,102.9 665.0,103.0 665.0,84.9 666.0,84.8 666.0,102.1 667.0,101.8 667.0,101.8 668.0,101.3 668.0,92.7 669.0,92.2 669.0,94.6 670.0,94.2 670.0,96.5 671.0,96.3 671.0,106.5 672.0,106.6 672.0,94.0 673.0,94.3 673.0,90.5 674.0,90.9 674.0,97.9 675.0,98.5 675.0,95.0 676.0,95.5 676.0,89.8 677.0,90.2 677.0,95.4 678.0,95.6 678.0,97.9 679.0,97.8 679.0,103.0 680.0,102.7 680.0,98.7 681.0,98.2 681.0,98.1 682.0,97.5 682.0,90.5 683.0,89.8 683.0,99.9 684.0,99.2 684.0,88.3 685.0,87.6 685.0,87.4 686.0,86.8 686.0,88.4 687.0,88.0 687.0,85.9 688.0,85.6 688.0,91.4 689.0,91.4 689.0,95.0 690.0,95.2 690.0,91.3 691.0,91.6 691.0,86.7 692.0,87.2 692.0,93.2 693.0,93.8 693.0,89.0 694.0,89.6 694.0,99.1 695.0,99.7 695.0,102.8 696.0,103.3 696.0,92.3 697.0,92.7 697.0,92.3 698.0,92.4 698.0,100.7 699.0,100.6 699.0,108.8 700.0,108.4 700.0,92.5 701.0,91.9 701.0,102.0 702.0,101.1 702.0,95.9 703.0,94.9 703.0,81.4 704.0,80.3 704.0,90.5 705.0,89.5 705.0,94.4 706.0,93.4 706.0,85.9 707.0,84.9 707.0,99.8 708.0,98.9 708.0,71.5 709.0,70.7 709.0,82.3 710.0,81.4 710.0,81.2 711.0,80.3 711.0,78.8 712.0,77.8 712.0,78.3 713.0,77.2 713.0,81.8 714.0,80.7 714.0,83.7 715.0,82.6 715.0,80.5 716.0,79.6 716.0,82.7 717.0,82.0 717.0,76.8 718.0,76.4 718.0,70.9 719.0,70.8 719.0,72.9 720.0,73.1 720.0,92.5 721.0,92.9 721.0,74.2 722.0,74.8 722.0,75.7 723.0,76.3 723.0,81.4 724.0,81.9 724.0,83.1 725.0,83.5 725.0,79.4 726.0,79.7 726.0,89.9 727.0,90.0 727.0,89.3 728.0,89.4 728.0,90.7 729.0,90.8 729.0,81.7 730.0,82.0 730.0,72.1 731.0,72.5 731.0,74.3 732.0,74.9 732.0,74.9 733.0,75.5 733.0,84.2 734.0,84.9 734.0,90.7 735.0,91.5 735.0,86.7 736.0,87.5 736.0,90.3 737.0,91.0 737.0,102.7 738.0,103.4 738.0,78.3 739.0,78.9 739.0,95.0 740.0,95.5 740.0,87.0 741.0,87.3 741.0,80.2 742.0,80.4 742.0,85.3 743.0,85.5 743.0,86.0 744.0,86.2 744.0,100.6 745.0,100.8 745.0,91.0 746.0,91.2 746.0,97.6 747.0,97.9 747.0,80.5 748.0,80.9 748.0,99.0 749.0,99.5 749.0,92.7 750.0,93.2 750.0,96.4 751.0,96.9 751.0,85.0 752.0,85.5 752.0,95.1 753.0,95.6 753.0,92.8 754.0,93.1 754.0,90.9 755.0,91.2 755.0,92.7 756.0,92.8 756.0,93.9 757.0,93.8 757.0,94.8 758.0,94.7 758.0,87.2 759.0,87.0 759.0,97.2 760.0,96.8 760.0,83.8 761.0,83.5 761.0,85.1 762.0,84.9 762.0,80.4 763.0,80.2 763.0,73.3 764.0,73.2 764.0,102.0 765.0,101.9 765.0,102.0 766.0,102.0 766.0,87.6 767.0,87.7 767.0,88.0 768.0,88.2 768.0,85.1 769.0,85.3 769.0,91.5 770.0,91.8 770.0,91.3 771.0,91.8 771.0,84.8 772.0,85.4 772.0,92.1 773.0,92.8 773.0,84.3 774.0,85.1 774.0,92.5 775.0,93.3 775.0,102.2 776.0,102.9 776.0,99.9 777.0,100.4 777.0,97.4 778.0,97.6 778.0,94.4 779.0,94.3 779.0,108.7 780.0,108.5 780.0,94.4 781.0,94.0 781.0,81.5 782.0,81.0 782.0,92.9 783.0,92.5 783.0,79.8 784.0,79.5 784.0,94.0 785.0,93.9 785.0,92.7 786.0,92.8 786.0,103.7 787.0,103.9 787.0,103.4 788.0,103.8 788.0,92.9 789.0,93.3 789.0,94.0 790.0,94.3 790.0,100.3 791.0,100.6 791.0,89.2 792.0,89.3 792.0,91.0 793.0,91.1 793.0,105.5 794.0,105.5 794.0,89.6 795.0,89.6 795.0,98.9 796.0,98.9 796.0,112.0 797.0,112.1 797.0,93.8 798.0,93.9 798.0,108.9 799.0,109.0 799.0,80.6 800.0,80.8 800.0,91.3 801.0,91.5 801.0,106.0 802.0,106.2 802.0,102.0 803.0,102.2 803.0,97.8 804.0,97.9 804.0,97.1 805.0,97.2 805.0,104.7 806.0,104.6 806.0,109.8 807.0,109.7 807.0,90.1 808.0,89.9 808.0,95.0 809.0,94.8 809.0,103.5 810.0,103.3 810.0,95.2 811.0,95.1 811.0,103.2 812.0,103.0 812.0,90.8 813.0,90.7 813.0,105.8 814.0,105.5 814.0,101.4 815.0,101.1 815.0,98.0 816.0,97.7 816.0,98.3 817.0,98.0 817.0,106.1 818.0,105.8 818.0,87.8 819.0,87.6 819.0,97.1 820.0,97.0 820.0,89.6 821.0,89.6 821.0,89.4 822.0,89.6 822.0,104.4 823.0,104.7 823.0,98.5 824.0,98.8 824.0,97.3 825.0,97.7 825.0,100.9 826.0,101.2 826.0,93.2 827.0,93.4 827.0,104.7 828.0,104.7 828.0,94.0 829.0,93.8 829.0,100.7 830.0,100.3 830.0,96.8 831.0,96.3 831.0,101.7 832.0,101.1 832.0,89.3 833.0,88.7 833.0,99.5 834.0,98.9 834.0,99.2 835.0,98.7 835.0,94.2 836.0,93.8 836.0,89.7 837.0,89.4 837.0,85.8 838.0,85.6 838.0,89.6 839.0,89.6 839.0,94.6 840.0,94.7 840.0,89.4 841.0,89.7 841.0,82.0 842.0,82.5 842.0,97.2 843.0,97.8 843.0,96.9 844.0,97.6 844.0,91.8 845.0,92.5 845.0,86.6 846.0,87.3 846.0,91.6 847.0,92.2 847.0,92.9 848.0,93.3 848.0,92.3 849.0,92.5 849.0,97.8 850.0,97.8 850.0,83.8 851.0,83.6 851.0,96.6 852.0,96.3 852.0,93.8 853.0,93.4 853.0,106.1 854.0,105.7 854.0,89.4 855.0,89.2 855.0,94.1 856.0,94.1 856.0,92.7 857.0,92.9 857.0,82.1 858.0,82.7 858.0,110.4 859.0,111.1 859.0,94.6 860.0,95.5 860.0,100.5 861.0,101.5 861.0,99.1 862.0,100.1 862.0,98.4 863.0,99.3 863.0,99.4 864.0,100.1 864.0,88.4 865.0,88.7 865.0,103.8 866.0,103.7 866.0,97.8 867.0,97.5 867.0,99.4 868.0,98.8 868.0,107.7 869.0,107.0 869.0,100.0 870.0,99.2 870.0,111.7 871.0,111.0 871.0,106.4 872.0,105.8 872.0,101.9 873.0,101.5 873.0,102.6 874.0,102.4 874.0,90.9 875.0,90.9 875.0,111.8 876.0,112.0 876.0,108.8 877.0,109.1 877.0,97.1 878.0,97.4 878.0,98.9 879.0,99.3 879.0,89.0 880.0,89.3 880.0,106.9 881.0,107.2 881.0,101.2 882.0,101.4 882.0,101.4 883.0,101.6 883.0,97.7 884.0,97.9 884.0,99.0 885.0,99.2 885.0,98.1 886.0,98.3 886.0,97.4 887.0,97.6 887.0,95.2 888.0,95.4 888.0,96.9 889.0,97.0 889.0,112.3 890.0,112.2 890.0,115.7 891.0,115.6 891.0,87.4 892.0,87.2 892.0,99.5 893.0,99.3 893.0,95.5 894.0,95.3 894.0,91.7 895.0,91.6 895.0,108.2 896.0,108.2 896.0,81.6 897.0,81.6 897.0,104.4 898.0,104.5 898.0,86.6 899.0,86.7 899.0,100.4 900.0,100.4 900.0,93.5 901.0,93.6 901.0,94.9 902.0,95.0 902.0,99.0 903.0,99.1 903.0,92.5 904.0,92.7 904.0,111.6 905.0,112.0 905.0,89.1 906.0,89.7 906.0,90.2 907.0,91.0 907.0,100.5 908.0,101.4 908.0,102.2 909.0,103.1 909.0,111.9 910.0,112.8 910.0,103.2 911.0,103.9 911.0,97.2 912.0,97.7 912.0,101.6 913.0,101.9 913.0,95.6 914.0,95.7 914.0,100.8 915.0,100.7 915.0,108.9 916.0,108.7 916.0,103.3 917.0,103.1 917.0,100.9 918.0,100.6 918.0,109.0 919.0,108.7 919.0,98.4 920.0,98.0 920.0,103.8 921.0,103.2 921.0,105.8 922.0,105.2 922.0,98.8 923.0,98.1 923.0,109.4 924.0,108.7 924.0,100.3 925.0,99.7 925.0,112.8 926.0,112.4 926.0,99.2 927.0,99.0 927.0,97.3 928.0,97.3 928.0,93.0 929.0,93.2 929.0,101.4 930.0,101.9 930.0,105.5 931.0,106.1 931.0,92.0 932.0,92.7 932.0,90.4 933.0,91.2 933.0,95.0 934.0,95.7 934.0,103.6 935.0,104.3 935.0,104.6 936.0,105.2 936.0,99.2 937.0,99.6 937.0,99.9 938.0,100.2 938.0,105.0 939.0,105.2 939.0,109.0 940.0,109.0 940.0,98.5 941.0,98.4 941.0,94.3 942.0,94.1 942.0,102.9 943.0,102.6 943.0,123.6 944.0,123.3 944.0,102.0 945.0,101.5 945.0,102.2 946.0,101.9 946.0,105.5 947.0,105.1 947.0,87.1 948.0,86.8 948.0,108.4 949.0,108.2 949.0,98.3 950.0,98.2 950.0,86.4 951.0,86.4 951.0,100.5 952.0,100.4 952.0,102.1 953.0,102.1 953.0,110.0 954.0,110.0 954.0,106.9 955.0,106.9 955.0,100.5 956.0,100.5 956.0,109.2 957.0,109.1 957.0,108.7 958.0,108.5 958.0,115.0 959.0,114.8 959.0,98.2 960.0,97.9 960.0,103.6 961.0,103.1 961.0,97.4 962.0,96.9 962.0,103.2 963.0,102.6 963.0,110.1 964.0,109.4 964.0,106.8 965.0,106.1 965.0,98.0 966.0,97.5 966.0,84.0 967.0,83.7 967.0,94.7 968.0,94.6 968.0,97.2 969.0,97.4 969.0,104.3 970.0,104.8 970.0,115.0 971.0,115.7 971.0,107.7 972.0,108.5 972.0,103.4 973.0,104.2 973.0,108.1 974.0,108.8 974.0,97.0 975.0,97.5 975.0,98.2 976.0,98.6 976.0,112.2 977.0,112.6 977.0,106.1 978.0,106.3 978.0,110.3 979.0,110.4 979.0,109.9 980.0,109.9 980.0,112.4 981.0,112.4 981.0,103.0 982.0,102.8 982.0,109.3 983.0,108.9 983.0,103.6 984.0,103.1 984.0,113.8 985.0,113.2 985.0,109.0 986.0,108.4 986.0,101.0 987.0,100.2 987.0,113.5 988.0,112.8 988.0,101.6 989.0,100.9 989.0,109.0 990.0,108.4 990.0,92.0 991.0,91.5 991.0,104.3 992.0,104.0 992.0,83.6 993.0,83.4 993.0,92.1 994.0,92.0 994.0,88.3 995.0,88.4 995.0,94.7 996.0,94.8 996.0,98.7 997.0,98.8 997.0,95.3 998.0,95.5 998.0,113.4 999.0,113.6 999.0,105.0 1000.0,105.2 1000.0,92.6 1001.0,92.7 1001.0,99.5 1002.0,99.5 1002.0,97.9 1003.0,97.8 1003.0,101.2 1004.0,101.0 1004.0,99.0 1005.0,98.7 1005.0,89.6 1006.0,89.3 1006.0,110.7 1007.0,110.4 1007.0,106.0 1008.0,105.9 1008.0,106.1 1009.0,106.1 1009.0,105.8 1010.0,105.9 1010.0,100.9 1011.0,101.1 1011.0,94.0 1012.0,94.3 1012.0,85.1 1013.0,85.4 1013.0,103.3 1014.0,103.7 1014.0,89.2 1015.0,89.7 1015.0,97.6 1016.0,98.1 1016.0,86.5 1017.0,86.9 1017.0,105.1 1018.0,105.6 1018.0,98.9 1019.0,99.4 1019.0,104.8 1020.0,105.3 1020.0,99.8 1021.0,100.2 1021.0,95.3 1022.0,95.6 1022.0,106.5 1023.0,106.7 1023.0,102.4 1024.0,102.5 1024.0,98.2 1025.0,98.2 1025.0,108.6 1026.0,108.6 1026.0,111.4 1027.0,111.2 1027.0,120.6 1028.0,120.3 1028.0,108.2 1029.0,107.8 1029.0,104.5 1030.0,104.0 1030.0,108.4 1031.0,108.0 1031.0,96.7 1032.0,96.3 1032.0,101.0 1033.0,100.8 1033.0,101.7 1034.0,101.6 1034.0,83.2 1035.0,83.3 1035.0,104.7 1036.0,104.9 1036.0,107.5 1037.0,107.8 1037.0,100.3 1038.0,100.7 1038.0,109.7 1039.0,110.0 1039.0,96.3 1040.0,96.5 1040.0,109.1 1040.5,80.0 1040.5,118.0 1041.0,109.2 1041.0,109.6 1042.0,109.7 1042.0,99.5 1043.0,99.5 1043.0,103.1 1044.0,103.0 1044.0,97.0 1045.0,96.9 1045.0,95.2 1046.0,95.0 1046.0,93.3 1047.0,93.1 1047.0,94.9 1048.0,94.7 1048.0,104.0 1049.0,103.9 1049.0,84.1 1050.0,83.9 1050.0,100.5 1051.0,100.3 1051.0,117.2 1052.0,117.1 1052.0,105.7 1053.0,105.6 1053.0,102.5 1054.0,102.5 1054.0,98.0 1055.0,98.0 1055.0,86.2 1056.0,86.2 1056.0,106.2 1057.0,106.2 1057.0,107.3 1058.0,107.3 1058.0,100.0 1059.0,100.0 1059.0,95.6 1060.0,95.6 1060.0,100.7 1061.0,100.6 1061.0,95.7 1062.0,95.6 1062.0,106.8 1063.0,106.7 1063.0,99.9 1064.0,99.9 1064.0,105.3 1065.0,105.3 1065.0,94.7 1066.0,94.8 1066.0,91.3 1067.0,91.4 1067.0,85.2 1068.0,85.4 1068.0,104.4 1069.0,104.6 1069.0,92.2 1070.0,92.5 1070.0,109.3 1071.0,109.5 1071.0,101.8 1072.0,101.9 1072.0,101.9 1073.0,102.1 1073.0,84.6 1074.0,84.8 1074.0,110.8 1075.0,111.1 1075.0,106.3 1076.0,106.6 1076.0,111.9 1077.0,112.2 1077.0,100.8 1078.0,101.1 1078.0,105.2 1079.0,105.5 1079.0,106.3 1080.0,106.5 1080.0,108.6 1081.0,108.6 1081.0,109.8 1082.0,109.6 1082.0,105.6 1083.0,105.1 1083.0,106.5 1084.0,105.9 1084.0,107.7 1085.0,106.9 1085.0,111.5 1086.0,110.7 1086.0,107.8 1087.0,107.1 1087.0,105.2 1088.0,104.6 1088.0,99.2 1089.0,98.7 1089.0,97.0 1090.0,96.6 1090.0,104.4 1091.0,104.1 1091.0,93.3 1092.0,93.1 1092.0,92.4 1093.0,92.3 1093.0,98.7 1094.0,98.8 1094.0,93.0 1095.0,93.2 1095.0,97.6 1096.0,98.0 1096.0,102.0 1097.0,102.6 1097.0,99.6 1098.0,100.4 1098.0,103.0 1099.0,103.9 1099.0,104.2 1100.0,105.0 1100.0,102.7 1101.0,103.4 1101.0,94.2 1102.0,94.6 1102.0,108.0 1103.0,108.1 1103.0,104.5 1104.0,104.3 1104.0,100.4 1105.0,99.9 1105.0,97.5 1106.0,96.7 1106.0,103.5 1107.0,102.8 1107.0,114.1 1108.0,113.3 1108.0,101.4 1109.0,100.8 1109.0,105.8 1110.0,105.6 1110.0,97.6 1111.0,97.6 1111.0,95.4 1112.0,95.6 1112.0,107.6 1113.0,107.9 1113.0,102.9 1114.0,103.2 1114.0,88.2 1115.0,88.5 1115.0,108.9 1116.0,109.2 1116.0,101.0 1117.0,101.2 1117.0,109.0 1118.0,109.2 1118.0,109.9 1119.0,110.1 1119.0,101.8 1120.0,102.0 1120.0,97.4 1121.0,97.6 1121.0,111.2 1122.0,111.5 1122.0,116.7 1123.0,117.0 1123.0,105.1 1124.0,105.4 1124.0,93.9 1125.0,94.2 1125.0,101.4 1126.0,101.7 1126.0,108.0 1127.0,108.4 1127.0,93.1 1128.0,93.4 1128.0,96.5 1129.0,96.8 1129.0,99.7 1130.0,99.9 1130.0,102.4 1131.0,102.5 1131.0,118.8 1132.0,118.8 1132.0,108.3 1133.0,108.2 1133.0,116.3 1134.0,116.0 1134.0,106.8 1135.0,106.5 1135.0,105.3 1136.0,104.9 1136.0,103.7 1137.0,103.3 1137.0,105.3 1138.0,105.0 1138.0,113.0 1139.0,112.8 1139.0,116.7 1140.0,116.7 1140.0,108.6 1141.0,108.8 1141.0,116.6 1142.0,117.0 1142.0,97.1 1143.0,97.7 1143.0,100.6 1144.0,101.3 1144.0,96.4 1145.0,97.2 1145.0,101.9 1146.0,102.7 1146.0,113.8 1147.0,114.5 1147.0,101.6 1148.0,102.1 1148.0,102.2 1149.0,102.4 1149.0,104.5 1150.0,104.5 1150.0,99.8 1151.0,99.6 1151.0,108.4 1152.0,108.0 1152.0,115.6 1153.0,115.0 1153.0,115.1 1154.0,114.5 1154.0,107.6 1155.0,107.0 1155.0,109.5 1156.0,109.0 1156.0,118.6 1157.0,118.2 1157.0,101.4 1158.0,101.1 1158.0,101.1 1159.0,100.9 1159.0,109.4 1160.0,109.2 1160.0,105.0 1161.0,105.0 1161.0,103.0 1162.0,103.0 1162.0,104.1 1163.0,104.1 1163.0,100.7 1164.0,100.9 1164.0,97.9 1165.0,98.1 1165.0,106.0 1166.0,106.3 1166.0,101.6 1167.0,102.0 1167.0,100.1 1168.0,100.5 1168.0,114.9 1169.0,115.3 1169.0,107.1 1170.0,107.5 1170.0,113.8 1171.0,114.1 1171.0,103.0 1172.0,103.3 1172.0,121.4 1173.0,121.7 1173.0,119.9 1174.0,120.0 1174.0,102.6 1175.0,102.6 1175.0,104.2 1176.0,104.2 1176.0,102.4 1177.0,102.3 1177.0,102.6 1178.0,102.5 1178.0,105.7 1179.0,105.5 1179.0,108.7 1180.0,108.5 1180.0,103.6 1181.0,103.5 1181.0,109.7 1182.0,109.6 1182.0,100.0 1183.0,100.0 1183.0,104.4 1184.0,104.3 1184.0,112.2 1185.0,112.0 1185.0,114.1 1186.0,113.8 1186.0,116.6 1187.0,116.2 1187.0,115.1 1188.0,114.6 1188.0,112.2 1189.0,111.6 1189.0,94.1 1190.0,93.5 1190.0,99.4 1191.0,98.9 1191.0,99.8 1192.0,99.4 1192.0,102.4 1193.0,102.2 1193.0,105.1 1194.0,105.0 1194.0,111.6 1195.0,111.7 1195.0,99.4 1196.0,99.5 1196.0,86.0 1197.0,86.2 1197.0,94.4 1198.0,94.6 1198.0,105.2 1199.0,105.4 1199.0,107.2 1200.0,107.3 1200.0,96.6 1201.0,96.8 1201.0,109.4 1202.0,109.6 1202.0,105.3 1203.0,105.6 1203.0,112.9 1204.0,113.3 1204.0,86.8 1205.0,87.3 1205.0,105.9 1206.0,106.4 1206.0,104.5 1207.0,105.1 1207.0,106.6 1208.0,107.2 1208.0,104.1 1209.0,104.6 1209.0,102.4 1210.0,102.7 1210.0,105.2 1211.0,105.4 1211.0,99.4 1212.0,99.3 1212.0,92.8 1213.0,92.5 1213.0,111.1 1214.0,110.7 1214.0,103.4 1215.0,102.8 1215.0,100.0 1216.0,99.4 1216.0,113.7 1217.0,113.1 1217.0,103.5 1218.0,103.0 1218.0,103.6 1219.0,103.2 1219.0,108.1 1220.0,107.8 1220.0,99.6 1221.0,99.3 1221.0,104.7 1222.0,104.6 1222.0,98.2 1223.0,98.1 1223.0,110.2 1224.0,110.2 1224.0,104.3 1225.0,104.4 1225.0,114.0 1226.0,114.2 1226.0,107.7 1227.0,107.9 1227.0,111.7 1228.0,112.0 1228.0,101.5 1229.0,101.7 1229.0,100.8 1230.0,101.0 1230.0,110.2 1231.0,110.4 1231.0,110.2 1232.0,110.4 1232.0,103.4 1233.0,103.5 1233.0,109.0 1234.0,109.0 1234.0,103.7 1235.0,103.7 1235.0,111.2 1236.0,111.2 1236.0,100.3 1237.0,100.2 1237.0,109.7 1238.0,109.5 1238.0,102.0 1239.0,101.8 1239.0,107.8 1240.0,107.7 1240.0,102.5 1241.0,102.6 1241.0,105.0 1242.0,105.5 1242.0,105.8 1243.0,106.6 1243.0,107.4 1244.0,108.7 1244.0,115.4 1245.0,117.1 1245.0,120.2 1246.0,122.2 1246.0,114.4 1247.0,116.7" fill="none" stroke="#000000" stroke-width="3.8" stroke-linejoin="round" stroke-linecap="butt"/><polyline points="123.0,111.9 125.0,111.9 125.0,108.2 127.0,108.2 127.0,107.8 129.0,107.8 129.0,99.4 131.0,99.4 131.0,96.1 133.0,96.1 133.0,94.9 135.0,94.9 135.0,97.0 137.0,97.0 137.0,92.3 139.0,92.3 139.0,86.2 141.0,86.2 141.0,86.1 143.0,86.1 143.0,98.5 145.0,98.5 145.0,92.3 147.0,92.3 147.0,96.8 149.0,96.8 149.0,98.7 151.0,98.7 151.0,95.4 153.0,95.4 153.0,100.8 155.0,100.8 155.0,92.9 157.0,92.9 157.0,95.3 159.0,95.3 159.0,100.3 161.0,100.3 161.0,95.6 163.0,95.6 163.0,101.2 165.0,101.2 165.0,103.8 167.0,103.8 167.0,110.0 169.0,110.0 169.0,95.8 171.0,95.8 171.0,92.0 173.0,92.0 173.0,95.7 175.0,95.7 175.0,101.1 177.0,101.1 177.0,93.6 179.0,93.6 179.0,89.8 181.0,89.8 181.0,96.1 183.0,96.1 183.0,94.8 185.0,94.8 185.0,95.0 187.0,95.0 187.0,98.3 189.0,98.3 189.0,98.6 191.0,98.6 191.0,104.6 193.0,104.6 193.0,103.6 195.0,103.6 195.0,99.6 197.0,99.6 197.0,102.2 199.0,102.2 199.0,94.5 201.0,94.5 201.0,96.3 203.0,96.3 203.0,94.2 205.0,94.2 205.0,94.3 207.0,94.3 207.0,98.7 209.0,98.7 209.0,97.3 211.0,97.3 211.0,102.5 213.0,102.5 213.0,96.1 215.0,96.1 215.0,99.2 217.0,99.2 217.0,101.4 219.0,101.4 219.0,102.4 221.0,102.4 221.0,103.2 223.0,103.2 223.0,100.2 225.0,100.2 225.0,107.1 227.0,107.1 227.0,105.8 229.0,105.8 229.0,106.0 231.0,106.0 231.0,98.8 233.0,98.8 233.0,100.9 235.0,100.9 235.0,94.2 237.0,94.2 237.0,100.7 239.0,100.7 239.0,98.4 241.0,98.4 241.0,104.5 243.0,104.5 243.0,105.3 245.0,105.3 245.0,98.4 247.0,98.4 247.0,97.6 249.0,97.6 249.0,100.6 251.0,100.6 251.0,105.3 253.0,105.3 253.0,96.6 255.0,96.6 255.0,98.1 257.0,98.1 257.0,101.7 259.0,101.7 259.0,101.9 261.0,101.9 261.0,98.8 263.0,98.8 263.0,95.4 265.0,95.4 265.0,97.5 267.0,97.5 267.0,99.7 269.0,99.7 269.0,100.9 271.0,100.9 271.0,104.8 273.0,104.8 273.0,97.1 275.0,97.1 275.0,103.8 277.0,103.8 277.0,110.0 279.0,110.0 279.0,98.1 281.0,98.1 281.0,101.0 283.0,101.0 283.0,98.5 285.0,98.5 285.0,102.9 287.0,102.9 287.0,96.1 289.0,96.1 289.0,103.6 291.0,103.6 291.0,107.2 293.0,107.2 293.0,101.4 295.0,101.4 295.0,99.5 297.0,99.5 297.0,98.9 299.0,98.9 299.0,99.1 301.0,99.1 301.0,106.0 303.0,106.0 303.0,93.4 305.0,93.4 305.0,96.4 307.0,96.4 307.0,95.7 309.0,95.7 309.0,97.6 311.0,97.6 311.0,96.0 313.0,96.0 313.0,106.1 315.0,106.1 315.0,90.3 317.0,90.3 317.0,96.9 319.0,96.9 319.0,95.0 321.0,95.0 321.0,97.5 323.0,97.5 323.0,94.0 325.0,94.0 325.0,96.0 327.0,96.0 327.0,100.7 329.0,100.7 329.0,105.6 331.0,105.6 331.0,94.4 333.0,94.4 333.0,97.6 335.0,97.6 335.0,100.5 337.0,100.5 337.0,100.8 339.0,100.8 339.0,97.3 341.0,97.3 341.0,100.9 343.0,100.9 343.0,103.7 345.0,103.7 345.0,97.7 347.0,97.7 347.0,100.0 349.0,100.0 349.0,95.3 351.0,95.3 351.0,100.8 353.0,100.8 353.0,101.7 355.0,101.7 355.0,96.6 357.0,96.6 357.0,103.0 359.0,103.0 359.0,104.3 361.0,104.3 361.0,100.0 363.0,100.0 363.0,101.1 365.0,101.1 365.0,109.9 367.0,109.9 367.0,106.6 369.0,106.6 369.0,107.1 371.0,107.1 371.0,104.0 373.0,104.0 373.0,110.7 375.0,110.7 375.0,109.3 377.0,109.3 377.0,107.7 379.0,107.7 379.0,105.8 381.0,105.8 381.0,108.7 383.0,108.7 383.0,105.4 385.0,105.4 385.0,102.4 387.0,102.4 387.0,104.4 389.0,104.4 389.0,107.0 391.0,107.0 391.0,110.5 393.0,110.5 393.0,104.5 395.0,104.5 395.0,108.1 397.0,108.1 397.0,109.3 399.0,109.3 399.0,106.4 401.0,106.4 401.0,101.3 403.0,101.3 403.0,111.7 405.0,111.7 405.0,108.8 407.0,108.8 407.0,113.3 409.0,113.3 409.0,103.3 411.0,103.3 411.0,103.1 413.0,103.1 413.0,98.2 415.0,98.2 415.0,105.2 417.0,105.2 417.0,99.2 419.0,99.2 419.0,103.4 421.0,103.4 421.0,108.4 423.0,108.4 423.0,100.0 425.0,100.0 425.0,103.8 427.0,103.8 427.0,101.8 429.0,101.8 429.0,100.0 431.0,100.0 431.0,92.1 433.0,92.1 433.0,102.4 435.0,102.4 435.0,102.8 437.0,102.8 437.0,103.7 439.0,103.7 439.0,103.2 441.0,103.2 441.0,106.7 443.0,106.7 443.0,104.9 445.0,104.9 445.0,102.5 447.0,102.5 447.0,106.1 449.0,106.1 449.0,106.0 451.0,106.0 451.0,108.3 453.0,108.3 453.0,107.2 455.0,107.2 455.0,106.9 457.0,106.9 457.0,103.5 459.0,103.5 459.0,95.8 461.0,95.8 461.0,92.0 463.0,92.0 463.0,100.7 465.0,100.7 465.0,101.3 467.0,101.3 467.0,97.4 469.0,97.4 469.0,97.3 471.0,97.3 471.0,106.8 473.0,106.8 473.0,96.9 475.0,96.9 475.0,96.8 477.0,96.8 477.0,95.7 479.0,95.7 479.0,104.0 481.0,104.0 481.0,96.6 483.0,96.6 483.0,99.0 485.0,99.0 485.0,103.7 487.0,103.7 487.0,103.6 489.0,103.6 489.0,101.6 491.0,101.6 491.0,103.6 493.0,103.6 493.0,104.1 495.0,104.1 495.0,108.6 497.0,108.6 497.0,102.6 499.0,102.6 499.0,104.2 501.0,104.2 501.0,108.9 503.0,108.9 503.0,98.8 505.0,98.8 505.0,110.3 507.0,110.3 507.0,105.7 509.0,105.7 509.0,103.7 511.0,103.7 511.0,101.1 513.0,101.1 513.0,102.6 515.0,102.6 515.0,104.7 517.0,104.7 517.0,108.2 519.0,108.2 519.0,100.9 521.0,100.9 521.0,95.8 523.0,95.8 523.0,97.6 525.0,97.6 525.0,104.8 527.0,104.8 527.0,98.6 529.0,98.6 529.0,111.7 531.0,111.7 531.0,108.2 533.0,108.2 533.0,100.0 535.0,100.0 535.0,107.1 537.0,107.1 537.0,99.7 539.0,99.7 539.0,107.7 541.0,107.7 541.0,100.9 543.0,100.9 543.0,100.3 545.0,100.3 545.0,104.8 547.0,104.8 547.0,110.8 549.0,110.8 549.0,103.0 551.0,103.0 551.0,98.8 553.0,98.8 553.0,106.3 555.0,106.3 555.0,108.6 557.0,108.6 557.0,97.2 559.0,97.2 559.0,101.5 561.0,101.5 561.0,107.9 563.0,107.9 563.0,98.8 565.0,98.8 565.0,104.4 567.0,104.4 567.0,104.4 569.0,104.4 569.0,102.8 571.0,102.8 571.0,97.6 573.0,97.6 573.0,102.2 575.0,102.2 575.0,107.7 577.0,107.7 577.0,101.1 579.0,101.1 579.0,104.4 581.0,104.4 581.0,112.6 583.0,112.6 583.0,113.9 585.0,113.9 585.0,103.4 587.0,103.4 587.0,109.6 589.0,109.6 589.0,104.7 591.0,104.7 591.0,113.4 593.0,113.4 593.0,110.0 595.0,110.0 595.0,106.4 597.0,106.4 597.0,102.8 599.0,102.8 599.0,107.0 601.0,107.0 601.0,106.9 603.0,106.9 603.0,107.4 605.0,107.4 605.0,109.8 607.0,109.8 607.0,106.8 609.0,106.8 609.0,108.1 611.0,108.1 611.0,102.0 613.0,102.0 613.0,99.4 615.0,99.4 615.0,99.5 617.0,99.5 617.0,111.3 619.0,111.3 619.0,111.9 621.0,111.9 621.0,100.6 623.0,100.6 623.0,115.8 625.0,115.8 625.0,101.7 627.0,101.7 627.0,106.4 629.0,106.4 629.0,106.2 631.0,106.2 631.0,107.5 633.0,107.5 633.0,112.0 635.0,112.0 635.0,106.9 637.0,106.9 637.0,113.1 639.0,113.1 639.0,107.0 641.0,107.0 641.0,106.7 643.0,106.7 643.0,106.7 645.0,106.7 645.0,105.6 647.0,105.6 647.0,110.0 649.0,110.0 649.0,116.2 651.0,116.2 651.0,109.6 653.0,109.6 653.0,111.4 655.0,111.4 655.0,117.8 657.0,117.8 657.0,112.6 659.0,112.6 659.0,110.8 661.0,110.8 661.0,121.1 663.0,121.1 663.0,119.7 665.0,119.7 665.0,117.5 667.0,117.5 667.0,108.4 669.0,108.4 669.0,110.8 671.0,110.8 671.0,113.7 673.0,113.7 673.0,95.9 675.0,95.9 675.0,95.9 677.0,95.9 677.0,100.0 679.0,100.0 679.0,97.6 681.0,97.6 681.0,95.5 683.0,95.5 683.0,92.1 685.0,92.1 685.0,94.1 687.0,94.1 687.0,88.3 689.0,88.3 689.0,80.0 691.0,80.0 691.0,79.7 693.0,79.7 693.0,81.4 695.0,81.4 695.0,84.2 697.0,84.2 697.0,79.5 699.0,79.5 699.0,79.1 701.0,79.1 701.0,80.7 703.0,80.7 703.0,81.2 705.0,81.2 705.0,78.1 707.0,78.1 707.0,74.3 709.0,74.3 709.0,78.7 711.0,78.7 711.0,90.6 713.0,90.6 713.0,76.7 715.0,76.7 715.0,77.9 717.0,77.9 717.0,84.7 719.0,84.7 719.0,90.1 721.0,90.1 721.0,89.0 723.0,89.0 723.0,87.3 725.0,87.3 725.0,98.5 727.0,98.5 727.0,95.1 729.0,95.1 729.0,90.8 731.0,90.8 731.0,92.5 733.0,92.5 733.0,88.8 735.0,88.8 735.0,101.8 737.0,101.8 737.0,99.5 739.0,99.5 739.0,86.3 741.0,86.3 741.0,99.0 743.0,99.0 743.0,96.4 745.0,96.4 745.0,94.8 747.0,94.8 747.0,95.8 749.0,95.8 749.0,88.8 751.0,88.8 751.0,87.1 753.0,87.1 753.0,90.3 755.0,90.3 755.0,92.0 757.0,92.0 757.0,86.4 759.0,86.4 759.0,90.7 761.0,90.7 761.0,82.7 763.0,82.7 763.0,91.6 765.0,91.6 765.0,77.7 767.0,77.7 767.0,80.1 769.0,80.1" fill="none" stroke="#0000ff" stroke-width="5" stroke-linejoin="round" stroke-linecap="butt"/><polyline points="825.0,93.1 827.0,93.1 827.0,89.3 829.0,89.3 829.0,86.3 831.0,86.3 831.0,88.6 833.0,88.6 833.0,85.0 835.0,85.0 835.0,93.8 837.0,93.8 837.0,92.1 839.0,92.1 839.0,94.3 841.0,94.3 841.0,97.7 843.0,97.7 843.0,88.7 845.0,88.7 845.0,88.2 847.0,88.2 847.0,95.5 849.0,95.5 849.0,94.1 851.0,94.1 851.0,96.2 853.0,96.2" fill="none" stroke="#0000ff" stroke-width="5" stroke-linejoin="round" stroke-linecap="butt"/><polyline points="905.0,101.6 907.0,101.6 907.0,95.2 909.0,95.2 909.0,95.9 911.0,95.9 911.0,103.3 913.0,103.3 913.0,94.9 915.0,94.9 915.0,96.8 917.0,96.8 917.0,102.7 919.0,102.7 919.0,107.8 921.0,107.8 921.0,94.9 923.0,94.9 923.0,100.7 925.0,100.7 925.0,96.9 927.0,96.9 927.0,98.9 929.0,98.9 929.0,93.3 931.0,93.3 931.0,96.6 933.0,96.6 933.0,103.9 935.0,103.9 935.0,99.6 937.0,99.6 937.0,97.4 939.0,97.4 939.0,99.6 941.0,99.6 941.0,101.5 943.0,101.5 943.0,102.7 945.0,102.7 945.0,101.4 947.0,101.4 947.0,93.5 949.0,93.5 949.0,105.6 951.0,105.6 951.0,95.4 953.0,95.4 953.0,100.8 955.0,100.8 955.0,93.5 957.0,93.5 957.0,92.9 959.0,92.9 959.0,96.8 961.0,96.8 961.0,91.9 963.0,91.9 963.0,96.4 965.0,96.4 965.0,94.5 967.0,94.5 967.0,97.1 969.0,97.1 969.0,88.3 971.0,88.3 971.0,93.1 973.0,93.1 973.0,92.4 975.0,92.4 975.0,93.8 977.0,93.8 977.0,101.5 979.0,101.5 979.0,95.8 981.0,95.8 981.0,96.5 983.0,96.5" fill="none" stroke="#0000ff" stroke-width="5" stroke-linejoin="round" stroke-linecap="butt"/><polyline points="1009.0,99.7 1011.0,99.7 1011.0,90.3 1013.0,90.3 1013.0,102.4 1015.0,102.4 1015.0,89.5 1017.0,89.5 1017.0,91.4 1019.0,91.4 1019.0,94.1 1021.0,94.1 1021.0,91.5 1023.0,91.5 1023.0,96.2 1025.0,96.2 1025.0,93.4 1027.0,93.4 1027.0,99.3 1029.0,99.3 1029.0,92.5 1031.0,92.5 1031.0,93.8 1033.0,93.8 1033.0,90.9 1035.0,90.9 1035.0,92.4 1037.0,92.4 1037.0,89.5 1039.0,89.5 1039.0,83.6 1041.0,83.6 1041.0,98.6 1043.0,98.6 1043.0,98.8 1045.0,98.8 1045.0,96.0 1047.0,96.0 1047.0,101.9 1049.0,101.9 1049.0,91.2 1051.0,91.2 1051.0,93.8 1053.0,93.8 1053.0,96.0 1055.0,96.0 1055.0,85.5 1057.0,85.5 1057.0,94.0 1059.0,94.0 1059.0,96.2 1061.0,96.2 1061.0,92.7 1063.0,92.7 1063.0,91.7 1065.0,91.7 1065.0,96.4 1067.0,96.4 1067.0,92.1 1069.0,92.1 1069.0,96.2 1071.0,96.2 1071.0,94.5 1073.0,94.5 1073.0,98.5 1075.0,98.5 1075.0,96.5 1077.0,96.5 1077.0,99.1 1079.0,99.1 1079.0,100.9 1081.0,100.9 1081.0,104.4 1083.0,104.4 1083.0,87.7 1085.0,87.7 1085.0,90.6 1087.0,90.6 1087.0,88.7 1089.0,88.7 1089.0,97.1 1091.0,97.1 1091.0,96.6 1093.0,96.6 1093.0,101.2 1095.0,101.2 1095.0,102.8 1097.0,102.8 1097.0,97.4 1099.0,97.4 1099.0,94.9 1101.0,94.9 1101.0,98.0 1103.0,98.0 1103.0,90.9 1105.0,90.9 1105.0,98.7 1107.0,98.7 1107.0,96.9 1109.0,96.9 1109.0,102.4 1111.0,102.4 1111.0,104.5 1113.0,104.5 1113.0,104.5 1115.0,104.5 1115.0,100.0 1117.0,100.0 1117.0,98.1 1119.0,98.1 1119.0,98.1 1121.0,98.1 1121.0,98.9 1123.0,98.9 1123.0,94.9 1125.0,94.9 1125.0,103.5 1127.0,103.5 1127.0,94.4 1129.0,94.4 1129.0,90.3 1131.0,90.3 1131.0,97.6 1133.0,97.6 1133.0,104.4 1135.0,104.4 1135.0,99.8 1137.0,99.8 1137.0,97.8 1139.0,97.8 1139.0,95.9 1141.0,95.9 1141.0,90.1 1143.0,90.1 1143.0,95.4 1145.0,95.4 1145.0,93.3 1147.0,93.3 1147.0,94.6 1149.0,94.6 1149.0,97.7 1151.0,97.7 1151.0,101.3 1153.0,101.3 1153.0,96.1 1155.0,96.1 1155.0,104.6 1157.0,104.6 1157.0,103.3 1159.0,103.3 1159.0,100.9 1161.0,100.9 1161.0,103.3 1163.0,103.3 1163.0,104.1 1165.0,104.1 1165.0,99.1 1167.0,99.1 1167.0,95.8 1169.0,95.8 1169.0,105.2 1171.0,105.2 1171.0,99.7 1173.0,99.7 1173.0,99.6 1175.0,99.6 1175.0,105.7 1177.0,105.7 1177.0,103.3 1179.0,103.3 1179.0,98.9 1181.0,98.9 1181.0,99.2 1183.0,99.2 1183.0,100.8 1185.0,100.8 1185.0,104.3 1187.0,104.3 1187.0,99.8 1189.0,99.8 1189.0,101.4 1191.0,101.4 1191.0,98.3 1193.0,98.3 1193.0,100.6 1195.0,100.6 1195.0,106.7 1197.0,106.7 1197.0,98.1 1199.0,98.1 1199.0,101.8 1201.0,101.8 1201.0,98.0 1203.0,98.0 1203.0,96.2 1205.0,96.2 1205.0,96.5 1207.0,96.5 1207.0,99.1 1209.0,99.1 1209.0,90.6 1211.0,90.6 1211.0,103.0 1213.0,103.0 1213.0,102.8 1215.0,102.8 1215.0,99.2 1217.0,99.2 1217.0,98.4 1219.0,98.4 1219.0,103.0 1221.0,103.0 1221.0,101.6 1223.0,101.6 1223.0,100.2 1225.0,100.2 1225.0,101.6 1227.0,101.6 1227.0,110.7 1229.0,110.7 1229.0,109.7 1231.0,109.7 1231.0,98.8 1233.0,98.8 1233.0,106.1 1235.0,106.1 1235.0,99.8 1237.0,99.8 1237.0,104.9 1239.0,104.9 1239.0,104.8 1241.0,104.8 1241.0,100.3 1243.0,100.3 1243.0,102.0 1245.0,102.0 1245.0,102.2 1247.0,102.2" fill="none" stroke="#0000ff" stroke-width="5" stroke-linejoin="round" stroke-linecap="butt"/><polyline points="123.0,118.9 124.0,115.9 124.0,105.4 125.0,102.7 125.0,105.5 126.0,103.2 126.0,98.8 127.0,96.9 127.0,101.3 128.0,99.9 128.0,94.4 129.0,93.3 129.0,90.9 130.0,90.1 130.0,89.4 131.0,88.7 131.0,95.3 132.0,94.7 132.0,97.3 133.0,96.8 133.0,101.4 134.0,100.9 134.0,107.0 135.0,106.6 135.0,107.9 136.0,107.5 136.0,91.3 137.0,91.1 137.0,90.6 138.0,90.5 138.0,100.0 139.0,100.0 139.0,89.4 140.0,89.5 140.0,102.5 141.0,102.8 141.0,102.3 142.0,102.6 142.0,89.6 143.0,90.0 143.0,101.1 144.0,101.5 144.0,105.9 145.0,106.3 145.0,100.0 146.0,100.4 146.0,95.6 147.0,96.0 147.0,96.8 148.0,97.1 148.0,101.3 149.0,101.7 149.0,93.8 150.0,94.2 150.0,101.2 151.0,101.4 151.0,97.7 152.0,97.9 152.0,94.6 153.0,94.7 153.0,93.2 154.0,93.2 154.0,103.1 155.0,103.0 155.0,93.5 156.0,93.3 156.0,100.6 157.0,100.4 157.0,87.0 158.0,86.7 158.0,96.5 159.0,96.3 159.0,99.2 160.0,99.1 160.0,100.7 161.0,100.8 161.0,104.7 162.0,105.0 162.0,102.3 163.0,102.8 163.0,103.0 164.0,103.6 164.0,98.2 165.0,98.8 165.0,93.9 166.0,94.3 166.0,93.5 167.0,93.8 167.0,96.3 168.0,96.3 168.0,102.9 169.0,102.6 169.0,113.7 170.0,113.2 170.0,102.8 171.0,102.0 171.0,101.1 172.0,100.3 172.0,103.9 173.0,103.0 173.0,94.4 174.0,93.5 174.0,98.4 175.0,97.6 175.0,95.7 176.0,95.1 176.0,97.1 177.0,96.6 177.0,93.8 178.0,93.6 178.0,79.4 178.5,100.0 178.5,131.0 179.0,79.4 179.0,92.5 180.0,92.8 180.0,90.0 181.0,90.5 181.0,113.0 182.0,113.7 182.0,105.7 183.0,106.6 183.0,93.4 184.0,94.3 184.0,92.8 185.0,93.8 185.0,99.5 186.0,100.4 186.0,90.6 187.0,91.3 187.0,116.4 188.0,117.0 188.0,101.2 189.0,101.5 189.0,98.8 190.0,98.8 190.0,108.6 191.0,108.4 191.0,117.5 192.0,117.1 192.0,103.2 193.0,102.5 193.0,107.0 194.0,106.2 194.0,89.0 195.0,88.1 195.0,93.9 196.0,93.1 196.0,92.5 197.0,91.7 197.0,79.5 198.0,78.8 198.0,102.0 199.0,101.6 199.0,111.4 200.0,111.1 200.0,87.2 201.0,87.1 201.0,91.9 202.0,92.0 202.0,102.5 203.0,102.7 203.0,93.9 204.0,94.2 204.0,96.0 205.0,96.4 205.0,91.3 206.0,91.7 206.0,99.0 207.0,99.4 207.0,91.0 208.0,91.4 208.0,102.5 208.5,65.0 208.5,100.0 209.0,102.8 209.0,101.3 210.0,101.4 210.0,100.5 211.0,100.6 211.0,93.2 212.0,93.3 212.0,96.8 213.0,96.9 213.0,101.3 214.0,101.3 214.0,92.6 215.0,92.7 215.0,92.2 216.0,92.4 216.0,84.1 217.0,84.4 217.0,95.6 218.0,96.0 218.0,98.4 219.0,98.9 219.0,106.0 220.0,106.4 220.0,92.6 221.0,93.0 221.0,91.5 222.0,91.9 222.0,109.0 223.0,109.3 223.0,108.6 224.0,108.8 224.0,94.4 225.0,94.5 225.0,98.6 226.0,98.4 226.0,89.9 227.0,89.5 227.0,100.3 228.0,99.7 228.0,108.9 229.0,108.1 229.0,104.8 230.0,104.0 230.0,92.2 231.0,91.4 231.0,100.0 232.0,99.5 232.0,93.0 233.0,92.7 233.0,99.4 234.0,99.3 234.0,93.8 235.0,93.9 235.0,101.5 236.0,101.7 236.0,113.1 237.0,113.4 237.0,100.1 238.0,100.4 238.0,100.6 239.0,100.8 239.0,101.0 240.0,101.2 240.0,104.3 241.0,104.4 241.0,96.2 242.0,96.4 242.0,98.0 243.0,98.3 243.0,98.4 244.0,98.9 244.0,116.0 245.0,116.5 245.0,101.5 246.0,102.0 246.0,104.6 247.0,105.0 247.0,99.0 248.0,99.2 248.0,92.8 249.0,92.8 249.0,99.6 250.0,99.4 250.0,104.4 251.0,104.1 251.0,99.1 252.0,98.7 252.0,93.8 253.0,93.4 253.0,97.9 254.0,97.5 254.0,103.2 255.0,102.9 255.0,102.4 256.0,102.1 256.0,99.4 257.0,99.1 257.0,93.1 258.0,92.8 258.0,94.5 259.0,94.2 259.0,116.1 259.5,67.0 259.5,100.0 260.0,115.8 260.0,96.3 261.0,96.1 261.0,102.1 262.0,101.9 262.0,99.9 263.0,99.9 263.0,89.0 264.0,89.1 264.0,106.4 265.0,106.7 265.0,98.7 266.0,99.0 266.0,92.7 267.0,93.1 267.0,108.1 268.0,108.5 268.0,95.5 269.0,95.8 269.0,101.5 270.0,101.8 270.0,91.2 271.0,91.4 271.0,98.7 272.0,98.8 272.0,108.1 273.0,108.1 273.0,96.9 274.0,96.9 274.0,91.0 275.0,91.0 275.0,94.7 276.0,94.7 276.0,104.2 277.0,104.1 277.0,89.6 278.0,89.5 278.0,90.8 279.0,90.5 279.0,104.4 280.0,104.1 280.0,99.9 281.0,99.6 281.0,98.6 282.0,98.3 282.0,95.7 283.0,95.5 283.0,100.8 284.0,100.7 284.0,108.2 285.0,108.2 285.0,101.0 286.0,101.2 286.0,87.1 287.0,87.4 287.0,102.7 288.0,103.1 288.0,88.5 289.0,89.0 289.0,110.6 290.0,111.1 290.0,97.2 291.0,97.6 291.0,104.4 292.0,104.5 292.0,102.7 293.0,102.6 293.0,96.4 294.0,96.0 294.0,107.8 295.0,107.3 295.0,101.0 296.0,100.4 296.0,112.6 297.0,111.8 297.0,102.5 298.0,101.8 298.0,99.7 299.0,99.1 299.0,113.1 300.0,112.6 300.0,105.4 301.0,105.1 301.0,96.3 302.0,96.1 302.0,90.9 303.0,90.8 303.0,108.3 304.0,108.3 304.0,103.8 305.0,103.9 305.0,103.8 306.0,103.9 306.0,92.4 307.0,92.5 307.0,92.3 308.0,92.4 308.0,90.5 309.0,90.6 309.0,103.7 310.0,103.7 310.0,95.4 311.0,95.5 311.0,100.7 312.0,100.7 312.0,82.5 313.0,82.6 313.0,103.2 314.0,103.1 314.0,91.9 315.0,91.8 315.0,78.9 316.0,78.8 316.0,80.8 317.0,80.7 317.0,101.4 318.0,101.4 318.0,113.5 319.0,113.5 319.0,78.4 320.0,78.6 320.0,87.4 321.0,87.6 321.0,97.3 322.0,97.6 322.0,86.7 323.0,87.1 323.0,94.3 324.0,94.8 324.0,90.9 325.0,91.3 325.0,98.6 326.0,98.9 326.0,88.7 327.0,88.9 327.0,96.2 328.0,96.2 328.0,92.9 329.0,92.7 329.0,99.0 330.0,98.7 330.0,97.5 331.0,97.1 331.0,104.1 332.0,103.7 332.0,98.8 333.0,98.5 333.0,108.4 334.0,108.3 334.0,86.5 335.0,86.5 335.0,95.2 336.0,95.2 336.0,101.9 337.0,101.9 337.0,97.6 338.0,97.8 338.0,80.0 339.0,80.2 339.0,99.3 340.0,99.6 340.0,94.3 341.0,94.6 341.0,113.7 342.0,114.0 342.0,97.4 343.0,97.8 343.0,102.9 344.0,103.3 344.0,92.7 345.0,93.1 345.0,103.8 346.0,104.2 346.0,82.2 346.5,54.0 346.5,137.0 347.0,82.5 347.0,93.3 348.0,93.5 348.0,97.7 349.0,97.8 349.0,89.8 350.0,89.8 350.0,106.6 351.0,106.5 351.0,100.3 352.0,100.2 352.0,110.9 353.0,111.0 353.0,91.0 354.0,91.2 354.0,95.0 355.0,95.3 355.0,105.0 356.0,105.5 356.0,97.9 357.0,98.5 357.0,112.1 358.0,112.7 358.0,106.6 359.0,107.2 359.0,98.1 360.0,98.7 360.0,104.4 361.0,104.9 361.0,107.6 362.0,108.0 362.0,106.1 363.0,106.5 363.0,103.6 364.0,103.9 364.0,102.1 365.0,102.3 365.0,104.0 366.0,104.1 366.0,112.0 367.0,111.9 367.0,119.0 368.0,118.9 368.0,96.1 369.0,95.9 369.0,98.6 370.0,98.3 370.0,103.8 371.0,103.6 371.0,114.2 372.0,114.0 372.0,98.9 373.0,98.9 373.0,119.7 374.0,119.8 374.0,119.5 375.0,119.7 375.0,89.3 376.0,89.6 376.0,109.7 377.0,110.1 377.0,109.6 378.0,110.0 378.0,103.3 379.0,103.8 379.0,94.4 380.0,94.7 380.0,108.7 381.0,109.0 381.0,104.6 381.5,67.0 381.5,172.0 382.0,104.9 382.0,115.2 383.0,115.4 383.0,111.4 384.0,111.5 384.0,101.6 385.0,101.7 385.0,120.8 386.0,120.9 386.0,125.3 387.0,125.4 387.0,118.0 388.0,118.1 388.0,108.7 389.0,108.9 389.0,114.6 390.0,114.7 390.0,109.3 391.0,109.5 391.0,105.2 392.0,105.4 392.0,96.7 393.0,96.9 393.0,111.0 394.0,111.1 394.0,96.3 395.0,96.3 395.0,114.0 396.0,114.0 396.0,100.4 397.0,100.4 397.0,110.8 398.0,110.7 398.0,107.5 399.0,107.4 399.0,101.8 400.0,101.7 400.0,102.4 401.0,102.2 401.0,105.2 402.0,105.0 402.0,118.6 403.0,118.4 403.0,111.0 404.0,110.7 404.0,106.4 405.0,106.0 405.0,113.2 406.0,112.8 406.0,93.2 407.0,92.8 407.0,97.0 408.0,96.7 408.0,100.8 409.0,100.6 409.0,113.2 410.0,113.0 410.0,104.2 411.0,104.1 411.0,106.8 412.0,106.7 412.0,106.6 413.0,106.5 413.0,103.0 414.0,102.9 414.0,113.8 415.0,113.7 415.0,110.2 416.0,110.0 416.0,99.6 417.0,99.5 417.0,98.4 418.0,98.3 418.0,104.7 419.0,104.7 419.0,98.9 420.0,99.0 420.0,105.0 421.0,105.1 421.0,110.0 422.0,110.1 422.0,105.6 423.0,105.6 423.0,106.5 424.0,106.4 424.0,98.9 425.0,98.6 425.0,99.5 426.0,99.0 426.0,97.5 427.0,96.9 427.0,112.2 428.0,111.5 428.0,97.8 428.5,67.0 428.5,127.0 429.0,97.2 429.0,102.8 430.0,102.3 430.0,102.5 431.0,102.1 431.0,104.3 432.0,104.2 432.0,99.1 433.0,99.1 433.0,90.6 434.0,90.7 434.0,115.1 435.0,115.2 435.0,94.3 436.0,94.3 436.0,105.4 437.0,105.4 437.0,94.3 438.0,94.3 438.0,105.8 439.0,105.8 439.0,94.4 440.0,94.5 440.0,112.8 441.0,112.9 441.0,104.8 442.0,105.0 442.0,84.4 443.0,84.8 443.0,113.5 444.0,113.9 444.0,90.1 445.0,90.6 445.0,100.9 446.0,101.3 446.0,117.5 447.0,117.9 447.0,99.0 448.0,99.4 448.0,120.5 449.0,120.8 449.0,105.2 450.0,105.4 450.0,100.9 451.0,101.0 451.0,113.3 452.0,113.2 452.0,105.2 453.0,104.9 453.0,98.6 454.0,98.2 454.0,110.5 455.0,110.1 455.0,102.1 456.0,101.5 456.0,94.0 457.0,93.4 457.0,97.7 458.0,97.1 458.0,118.4 459.0,117.9 459.0,116.7 460.0,116.2 460.0,90.6 461.0,90.2 461.0,105.9 462.0,105.6 462.0,108.6 463.0,108.5 463.0,98.4 464.0,98.4 464.0,104.8 465.0,105.0 465.0,93.6 466.0,93.9 466.0,98.4 467.0,98.7 467.0,114.0 468.0,114.2 468.0,100.6 469.0,100.7 469.0,100.0 470.0,100.0 470.0,99.4 471.0,99.3 471.0,91.9 472.0,91.7 472.0,93.9 473.0,93.7 473.0,96.9 474.0,96.8 474.0,99.5 475.0,99.4 475.0,89.1 476.0,89.1 476.0,112.9 477.0,113.0 477.0,88.6 478.0,88.7 478.0,93.2 479.0,93.2 479.0,96.1 480.0,96.0 480.0,106.8 481.0,106.7 481.0,90.6 482.0,90.4 482.0,101.8 483.0,101.7 483.0,94.3 484.0,94.2 484.0,94.6 485.0,94.6 485.0,102.8 486.0,102.9 486.0,105.5 487.0,105.7 487.0,107.0 488.0,107.2 488.0,92.5 489.0,92.7 489.0,107.5 490.0,107.8 490.0,114.0 491.0,114.4 491.0,103.6 492.0,104.1 492.0,104.9 493.0,105.4 493.0,102.7 494.0,103.2 494.0,102.0 495.0,102.4 495.0,109.2 496.0,109.6 496.0,121.5 497.0,121.9 497.0,102.5 498.0,102.7 498.0,106.9 499.0,107.1 499.0,110.9 500.0,111.1 500.0,95.5 501.0,95.7 501.0,116.0 502.0,116.2 502.0,109.9 503.0,110.1 503.0,122.9 504.0,123.0 504.0,101.9 505.0,102.0 505.0,99.7 506.0,99.7 506.0,104.6 507.0,104.6 507.0,107.6 508.0,107.6 508.0,99.4 509.0,99.4 509.0,117.3 510.0,117.3 510.0,107.4 511.0,107.4 511.0,98.5 512.0,98.4 512.0,108.7 513.0,108.5 513.0,104.3 514.0,103.9 514.0,105.2 515.0,104.6 515.0,101.7 516.0,101.1 516.0,94.8 517.0,94.1 517.0,94.9 518.0,94.2 518.0,103.1 519.0,102.5 519.0,102.0 520.0,101.5 520.0,104.5 521.0,104.2 521.0,96.2 522.0,96.2 522.0,103.9 523.0,104.1 523.0,106.8 524.0,107.3 524.0,93.8 525.0,94.6 525.0,103.8 526.0,104.8 526.0,120.7 527.0,121.8 527.0,101.1 528.0,102.3 528.0,103.5 529.0,104.6 529.0,106.3 530.0,107.1 530.0,103.8 531.0,104.2 531.0,113.5 532.0,113.5 532.0,107.1 533.0,106.9 533.0,106.2 534.0,105.7 534.0,101.7 535.0,101.2 535.0,113.4 536.0,113.0 536.0,105.3 537.0,105.0 537.0,100.5 538.0,100.3 538.0,103.3 539.0,103.2 539.0,115.9 540.0,115.9 540.0,105.3 541.0,105.4 541.0,108.8 542.0,108.9 542.0,114.5 543.0,114.6 543.0,104.9 544.0,104.9 544.0,112.0 545.0,111.9 545.0,98.8 546.0,98.5 546.0,109.6 547.0,109.2 547.0,90.7 548.0,90.0 548.0,106.0 549.0,105.2 549.0,100.4 550.0,99.6 550.0,97.7 551.0,97.1 551.0,109.0 552.0,108.6 552.0,106.3 553.0,106.1 553.0,106.9 554.0,107.0 554.0,111.3 555.0,111.6 555.0,105.1 556.0,105.4 556.0,105.7 557.0,106.0 557.0,101.8 558.0,102.1 558.0,115.0 559.0,115.1 559.0,113.9 560.0,114.0 560.0,97.5 561.0,97.6 561.0,97.0 562.0,97.1 562.0,93.4 563.0,93.5 563.0,98.0 564.0,98.1 564.0,119.3 565.0,119.3 565.0,105.0 566.0,105.1 566.0,110.2 567.0,110.3 567.0,93.6 568.0,93.6 568.0,98.1 569.0,98.2 569.0,111.4 570.0,111.4 570.0,90.0 571.0,90.1 571.0,95.5 572.0,95.7 572.0,89.6 573.0,90.0 573.0,99.5 574.0,100.0 574.0,121.6 575.0,122.2 575.0,100.0 576.0,100.8 576.0,112.8 577.0,113.6 577.0,117.5 578.0,118.2 578.0,103.0 579.0,103.7 579.0,99.0 580.0,99.6 580.0,110.9 581.0,111.4 581.0,117.5 582.0,117.9 582.0,99.1 583.0,99.4 583.0,104.4 584.0,104.6 584.0,127.6 585.0,127.7 585.0,104.7 586.0,104.6 586.0,112.5 587.0,112.4 587.0,116.7 588.0,116.6 588.0,107.5 589.0,107.3 589.0,108.3 590.0,108.1 590.0,105.6 591.0,105.3 591.0,100.7 592.0,100.5 592.0,104.8 593.0,104.7 593.0,97.9 594.0,97.9 594.0,102.3 595.0,102.3 595.0,105.8 596.0,105.8 596.0,113.4 597.0,113.2 597.0,105.7 598.0,105.5 598.0,103.9 599.0,103.4 599.0,120.3 600.0,119.7 600.0,107.1 601.0,106.3 601.0,104.9 602.0,104.2 602.0,102.2 603.0,101.6 603.0,105.0 604.0,104.5 604.0,98.8 605.0,98.5 605.0,100.9 606.0,100.8 606.0,98.6 607.0,98.8 607.0,96.4 608.0,96.8 608.0,101.9 609.0,102.4 609.0,88.0 610.0,88.5 610.0,117.3 611.0,117.7 611.0,98.7 612.0,99.0 612.0,118.2 613.0,118.3 613.0,110.6 614.0,110.5 614.0,112.4 615.0,112.1 615.0,115.9 616.0,115.5 616.0,95.0 617.0,94.5 617.0,116.2 618.0,115.8 618.0,108.3 619.0,107.9 619.0,101.5 620.0,101.3 620.0,99.5 621.0,99.4 621.0,108.9 622.0,108.9 622.0,93.9 623.0,94.1 623.0,116.5 624.0,116.8 624.0,104.0 625.0,104.4 625.0,110.7 626.0,111.3 626.0,107.0 627.0,107.7 627.0,104.2 628.0,105.1 628.0,105.4 629.0,106.3 629.0,103.2 630.0,104.1 630.0,118.1 631.0,119.1 631.0,110.7 632.0,111.5 632.0,115.0 633.0,115.5 633.0,115.2 634.0,115.4 634.0,116.8 635.0,116.7 635.0,115.2 636.0,114.8 636.0,120.2 637.0,119.5 637.0,107.0 638.0,106.2 638.0,98.4 639.0,97.6 639.0,108.9 640.0,108.2 640.0,105.2 641.0,104.6 641.0,108.8 642.0,108.4 642.0,115.7 643.0,115.5 643.0,114.1 644.0,114.1 644.0,111.5 645.0,111.6 645.0,102.8 646.0,103.1 646.0,111.6 647.0,112.0 647.0,109.9 648.0,110.5 648.0,114.3 649.0,115.1 649.0,110.1 650.0,111.1 650.0,108.5 651.0,109.7 651.0,113.1 652.0,114.4 652.0,108.8 653.0,110.1 653.0,109.1 654.0,110.4 654.0,117.7 655.0,118.9 655.0,117.4 656.0,118.5 656.0,124.9 657.0,125.9 657.0,120.4 658.0,121.1 658.0,106.0 659.0,106.6 659.0,129.6 660.0,129.8 660.0,131.5 661.0,131.4 661.0,114.6 662.0,114.1 662.0,114.2 663.0,113.3 663.0,124.6 663.5,100.0 663.5,132.0 664.0,123.3 664.0,118.9 665.0,117.1 665.0,107.9 666.0,106.0 666.0,120.4 667.0,118.3 667.0,112.5 668.0,110.4 668.0,111.8 669.0,109.8 669.0,114.4 670.0,112.6 670.0,102.4 671.0,100.7 671.0,100.4 672.0,98.8 672.0,110.0 673.0,108.7 673.0,106.6 674.0,105.4 674.0,100.9 675.0,99.9 675.0,105.6 676.0,104.8 676.0,100.7 677.0,100.0 677.0,103.7 678.0,103.1 678.0,92.5 679.0,92.0 679.0,95.3 680.0,94.7 680.0,101.7 681.0,101.0 681.0,90.4 682.0,89.5 682.0,89.8 683.0,88.6 683.0,93.7 684.0,92.2 684.0,90.0 685.0,88.3 685.0,84.6 686.0,82.8 686.0,72.8 687.0,71.0 687.0,93.6 688.0,91.9 688.0,84.8 689.0,83.4 689.0,90.9 690.0,89.8 690.0,77.1 691.0,76.3 691.0,81.5 692.0,81.0 692.0,79.7 693.0,79.3 693.0,80.7 694.0,80.4 694.0,71.3 695.0,71.1 695.0,86.4 696.0,86.2 696.0,77.9 697.0,77.8 697.0,80.5 698.0,80.4 698.0,73.8 699.0,73.7 699.0,87.6 700.0,87.6 700.0,70.8 701.0,70.8 701.0,89.5 702.0,89.6 702.0,76.9 703.0,77.0 703.0,75.6 704.0,75.7 704.0,72.2 705.0,72.3 705.0,87.1 706.0,87.3 706.0,75.0 707.0,75.3 707.0,75.2 708.0,75.7 708.0,75.3 709.0,75.9 709.0,83.8 710.0,84.4 710.0,84.7 711.0,85.3 711.0,78.3 712.0,78.9 712.0,85.7 713.0,86.1 713.0,91.7 714.0,92.1 714.0,87.5 715.0,87.8 715.0,86.1 716.0,86.5 716.0,78.8 717.0,79.4 717.0,93.5 718.0,94.2 718.0,89.4 719.0,90.3 719.0,78.8 720.0,79.8 720.0,83.6 721.0,84.7 721.0,73.9 722.0,75.1 722.0,92.7 723.0,93.8 723.0,78.0 724.0,78.9 724.0,90.5 725.0,91.2 725.0,100.3 726.0,100.8 726.0,85.4 727.0,85.8 727.0,98.3 728.0,98.5 728.0,92.1 729.0,92.3 729.0,88.0 730.0,88.2 730.0,101.2 731.0,101.5 731.0,96.7 732.0,97.0 732.0,90.9 733.0,91.3 733.0,97.9 734.0,98.2 734.0,92.1 735.0,92.4 735.0,90.9 736.0,91.1 736.0,93.8 737.0,93.9 737.0,101.4 738.0,101.5 738.0,87.3 739.0,87.3 739.0,88.9 740.0,88.8 740.0,100.8 741.0,100.8 741.0,88.2 742.0,88.1 742.0,94.7 743.0,94.6 743.0,94.0 744.0,93.8 744.0,88.4 745.0,88.2 745.0,91.2 746.0,90.8 746.0,93.3 747.0,92.8 747.0,94.0 748.0,93.4 748.0,97.3 749.0,96.7 749.0,94.4 750.0,93.8 750.0,97.6 751.0,97.0 751.0,93.1 752.0,92.6 752.0,89.1 753.0,88.7 753.0,94.5 754.0,94.2 754.0,93.1 755.0,92.9 755.0,95.2 756.0,95.0 756.0,88.4 757.0,88.0 757.0,89.2 758.0,88.7 758.0,88.8 759.0,88.1 759.0,80.6 760.0,79.7 760.0,90.3 761.0,89.1 761.0,83.0 762.0,81.6 762.0,77.1 763.0,75.6 763.0,81.7 764.0,80.2 764.0,93.6 765.0,92.2 765.0,76.4 766.0,75.2 766.0,94.8 767.0,93.8 767.0,67.1 768.0,66.6 768.0,76.6 769.0,76.9 769.0,88.4 770.0,91.0 770.0,81.9 771.0,88.4 771.0,88.7 772.0,98.9 772.0,96.4 773.0,108.5 773.0,107.4 774.0,119.9 774.0,123.3 775.0,135.8 775.0,136.3 776.0,148.6 776.0,148.8 777.0,160.8 777.0,163.1 778.0,174.9 778.0,170.9 779.0,182.4 779.0,183.3 780.0,194.6 780.0,189.6 781.0,200.6 781.0,204.4 782.0,215.3 782.0,216.1 783.0,226.7 783.0,230.3 784.0,240.7 784.0,239.8 785.0,249.9 785.0,249.6 786.0,259.4 786.0,257.5 787.0,267.1 787.0,265.9 788.0,275.1 788.0,275.4 789.0,284.2 789.0,284.3 790.0,292.8 790.0,293.1 791.0,301.1 791.0,304.5 792.0,312.1 792.0,308.2 793.0,315.3 793.0,312.9 794.0,319.4 794.0,318.4 795.0,323.7 795.0,331.7 796.0,334.9 796.0,334.7 796.5,335.1 797.0,334.7 797.0,329.8 798.0,326.7 798.0,327.1 799.0,322.0 799.0,323.6 800.0,317.4 800.0,317.2 801.0,310.4 801.0,310.0 802.0,302.8 802.0,299.1 803.0,291.4 803.0,292.4 804.0,284.3 804.0,286.7 805.0,278.2 805.0,279.1 806.0,270.2 806.0,269.6 807.0,260.3 807.0,262.4 808.0,252.8 808.0,250.3 809.0,240.4 809.0,240.7 810.0,230.5 810.0,230.2 811.0,219.7 811.0,221.1 812.0,210.3 812.0,207.7 813.0,196.5 813.0,200.8 814.0,189.3 814.0,184.3 815.0,172.4 815.0,175.4 816.0,163.2 816.0,163.1 817.0,150.6 817.0,153.8 818.0,141.1 818.0,134.9 819.0,122.1 819.0,122.4 820.0,110.0 820.0,110.6 821.0,100.0 821.0,104.5 822.0,97.6 822.0,99.2 823.0,96.1 823.0,74.4 824.0,73.4 824.0,87.9 825.0,87.5 825.0,91.1 826.0,90.9 826.0,91.5 827.0,91.4 827.0,91.4 828.0,91.4 828.0,88.1 829.0,88.1 829.0,89.7 830.0,89.8 830.0,76.9 831.0,77.1 831.0,94.9 832.0,95.2 832.0,73.8 833.0,74.3 833.0,87.6 834.0,88.2 834.0,84.5 835.0,85.2 835.0,93.3 836.0,94.0 836.0,85.4 837.0,86.1 837.0,98.1 838.0,98.7 838.0,95.2 839.0,95.6 839.0,97.4 840.0,97.6 840.0,100.5 841.0,100.6 841.0,101.0 842.0,100.8 842.0,92.2 843.0,92.0 843.0,98.5 844.0,98.2 844.0,96.1 845.0,95.8 845.0,97.6 846.0,97.4 846.0,94.1 847.0,93.9 847.0,75.8 848.0,75.7 848.0,90.5 849.0,90.5 849.0,92.0 850.0,92.1 850.0,89.0 851.0,89.1 851.0,87.8 852.0,88.3 852.0,93.8 853.0,95.3 853.0,90.5 854.0,93.8 854.0,100.8 855.0,106.0 855.0,107.1 856.0,113.2 856.0,109.2 857.0,115.4 857.0,116.9 858.0,123.1 858.0,119.8 859.0,125.9 859.0,126.2 860.0,132.3 860.0,132.9 861.0,139.0 861.0,138.5 862.0,144.6 862.0,146.2 863.0,152.4 863.0,152.4 864.0,158.5 864.0,161.0 865.0,167.1 865.0,163.7 866.0,169.6 866.0,172.5 867.0,178.3 867.0,174.7 868.0,180.2 868.0,181.0 869.0,186.2 869.0,188.4 870.0,193.2 870.0,192.4 871.0,196.8 871.0,192.4 872.0,196.5 872.0,200.4 873.0,204.2 873.0,205.6 874.0,209.3 874.0,205.5 875.0,208.9 875.0,210.6 876.0,214.0 876.0,214.2 877.0,217.4 877.0,219.1 878.0,222.2 878.0,223.1 879.0,225.8 879.0,221.6 880.0,223.4 880.0,224.1 880.5,224.4 881.0,224.3 881.0,228.2 882.0,226.7 882.0,226.1 883.0,223.5 883.0,224.3 884.0,220.9 884.0,218.2 885.0,214.3 885.0,216.0 886.0,211.8 886.0,206.3 887.0,201.8 887.0,206.3 888.0,201.5 888.0,199.2 889.0,194.1 889.0,193.4 890.0,188.0 890.0,188.5 891.0,182.9 891.0,186.2 892.0,180.4 892.0,181.2 893.0,175.1 893.0,171.9 894.0,165.6 894.0,165.8 895.0,159.3 895.0,161.8 896.0,155.1 896.0,152.1 897.0,145.3 897.0,146.7 898.0,139.7 898.0,140.3 899.0,133.2 899.0,134.1 900.0,126.8 900.0,124.5 901.0,117.1 901.0,110.2 902.0,103.0 902.0,109.5 903.0,103.4 903.0,108.1 904.0,104.3 904.0,97.5 905.0,95.9 905.0,95.1 906.0,94.7 906.0,92.3 907.0,92.2 907.0,101.1 908.0,101.1 908.0,99.4 909.0,99.5 909.0,100.2 910.0,100.3 910.0,98.5 911.0,98.7 911.0,106.9 912.0,107.2 912.0,103.0 913.0,103.3 913.0,98.5 914.0,98.9 914.0,92.6 915.0,93.0 915.0,95.1 916.0,95.4 916.0,100.5 917.0,100.6 917.0,110.1 918.0,110.1 918.0,103.7 919.0,103.4 919.0,96.3 920.0,95.7 920.0,104.6 921.0,103.9 921.0,103.1 922.0,102.3 922.0,95.4 923.0,94.5 923.0,100.4 924.0,99.5 924.0,89.6 925.0,88.9 925.0,96.6 926.0,96.1 926.0,113.0 927.0,112.7 927.0,101.4 928.0,101.3 928.0,99.1 929.0,99.2 929.0,100.8 930.0,101.1 930.0,100.0 931.0,100.4 931.0,81.7 932.0,82.1 932.0,93.4 933.0,93.8 933.0,92.3 934.0,92.8 934.0,100.2 935.0,100.7 935.0,103.5 936.0,104.0 936.0,111.1 937.0,111.5 937.0,97.5 938.0,97.9 938.0,91.6 939.0,91.8 939.0,100.9 939.5,74.0 939.5,130.0 940.0,100.9 940.0,98.9 941.0,98.8 941.0,100.7 942.0,100.5 942.0,99.0 943.0,98.6 943.0,101.7 944.0,101.2 944.0,94.3 945.0,93.7 945.0,99.3 946.0,98.6 946.0,102.9 947.0,102.1 947.0,96.9 948.0,96.1 948.0,98.4 949.0,97.6 949.0,90.0 950.0,89.2 950.0,98.8 951.0,98.3 951.0,92.1 952.0,91.8 952.0,88.2 953.0,88.1 953.0,90.9 954.0,91.1 954.0,90.1 955.0,90.5 955.0,91.9 956.0,92.4 956.0,90.0 957.0,90.7 957.0,105.0 958.0,105.7 958.0,100.6 959.0,101.3 959.0,98.5 960.0,99.1 960.0,101.8 961.0,102.3 961.0,96.1 962.0,96.4 962.0,102.2 963.0,102.4 963.0,95.8 964.0,95.9 964.0,96.5 965.0,96.5 965.0,92.4 966.0,92.3 966.0,104.8 967.0,104.5 967.0,104.3 968.0,103.8 968.0,103.3 969.0,102.7 969.0,102.8 970.0,102.2 970.0,80.0 971.0,79.3 971.0,95.0 972.0,94.4 972.0,106.1 973.0,105.6 973.0,96.5 974.0,96.2 974.0,83.0 975.0,82.9 975.0,96.4 976.0,96.5 976.0,97.2 977.0,97.4 977.0,89.6 978.0,90.0 978.0,86.1 979.0,86.5 979.0,89.9 980.0,90.3 980.0,76.7 981.0,77.1 981.0,96.1 982.0,96.6 982.0,89.6 983.0,90.5 983.0,93.9 984.0,96.5 984.0,97.5 984.5,69.0 984.5,100.0 985.0,103.0 985.0,103.6 986.0,111.7 986.0,114.6 987.0,123.4 987.0,119.6 988.0,127.7 988.0,128.7 989.0,135.6 989.0,131.7 990.0,137.5 990.0,140.8 991.0,145.5 991.0,143.5 992.0,147.1 992.0,151.4 993.0,154.0 993.0,152.8 994.0,154.4 994.0,153.5 995.0,154.3 995.0,156.6 995.5,156.7 996.0,156.6 996.0,153.5 997.0,152.6 997.0,154.0 998.0,152.2 998.0,151.1 999.0,148.2 999.0,148.1 1000.0,144.1 1000.0,145.2 1001.0,140.1 1001.0,139.5 1002.0,133.3 1002.0,134.1 1003.0,126.8 1003.0,125.3 1004.0,117.0 1004.0,116.3 1005.0,107.6 1005.0,114.7 1006.0,106.8 1006.0,103.9 1007.0,98.8 1007.0,94.6 1008.0,92.5 1008.0,96.1 1009.0,95.6 1009.0,87.9 1010.0,87.8 1010.0,96.6 1011.0,96.5 1011.0,84.8 1012.0,84.6 1012.0,96.9 1013.0,96.6 1013.0,96.0 1014.0,95.7 1014.0,92.3 1015.0,92.0 1015.0,97.7 1016.0,97.6 1016.0,92.6 1017.0,92.6 1017.0,103.8 1018.0,103.9 1018.0,97.2 1019.0,97.5 1019.0,83.7 1020.0,84.1 1020.0,87.4 1021.0,87.8 1021.0,104.7 1022.0,105.1 1022.0,91.1 1023.0,91.3 1023.0,97.1 1024.0,97.3 1024.0,88.2 1025.0,88.3 1025.0,104.7 1026.0,104.6 1026.0,102.0 1027.0,101.7 1027.0,99.9 1028.0,99.5 1028.0,89.3 1029.0,88.8 1029.0,92.0 1030.0,91.5 1030.0,102.3 1031.0,101.8 1031.0,86.2 1032.0,85.7 1032.0,75.0 1033.0,74.6 1033.0,109.7 1034.0,109.4 1034.0,98.1 1035.0,97.9 1035.0,83.3 1036.0,83.2 1036.0,93.4 1037.0,93.4 1037.0,95.5 1038.0,95.7 1038.0,93.3 1039.0,93.7 1039.0,102.9 1040.0,103.4 1040.0,100.8 1040.5,54.0 1040.5,100.0 1041.0,101.4 1041.0,84.0 1042.0,84.6 1042.0,93.1 1043.0,93.6 1043.0,105.9 1044.0,106.2 1044.0,100.9 1045.0,101.0 1045.0,92.8 1046.0,92.7 1046.0,102.1 1047.0,101.9 1047.0,89.3 1048.0,88.9 1048.0,99.5 1049.0,99.1 1049.0,82.5 1050.0,82.2 1050.0,96.5 1051.0,96.3 1051.0,106.4 1052.0,106.3 1052.0,102.8 1053.0,102.8 1053.0,87.8 1054.0,87.8 1054.0,75.3 1055.0,75.2 1055.0,94.7 1056.0,94.4 1056.0,99.5 1057.0,99.2 1057.0,93.0 1058.0,92.7 1058.0,95.0 1059.0,94.6 1059.0,82.8 1060.0,82.5 1060.0,87.9 1061.0,87.9 1061.0,83.1 1062.0,83.3 1062.0,83.2 1063.0,83.6 1063.0,88.3 1064.0,88.8 1064.0,101.4 1065.0,102.0 1065.0,95.2 1066.0,95.8 1066.0,88.4 1067.0,88.9 1067.0,91.7 1068.0,92.1 1068.0,88.1 1069.0,88.5 1069.0,90.8 1070.0,91.1 1070.0,95.9 1071.0,96.2 1071.0,85.3 1072.0,85.5 1072.0,97.0 1073.0,97.2 1073.0,91.3 1074.0,91.5 1074.0,102.5 1075.0,102.6 1075.0,89.6 1076.0,89.7 1076.0,97.1 1077.0,97.1 1077.0,90.2 1078.0,90.2 1078.0,99.0 1079.0,99.0 1079.0,78.5 1080.0,78.4 1080.0,88.8 1081.0,88.7 1081.0,90.0 1082.0,89.9 1082.0,85.3 1083.0,85.3 1083.0,93.1 1084.0,93.2 1084.0,94.3 1085.0,94.4 1085.0,91.8 1086.0,91.9 1086.0,89.2 1087.0,89.3 1087.0,91.5 1088.0,91.7 1088.0,91.4 1089.0,91.6 1089.0,103.0 1090.0,103.2 1090.0,99.9 1091.0,100.0 1091.0,105.1 1092.0,105.1 1092.0,102.8 1093.0,102.7 1093.0,114.5 1094.0,114.4 1094.0,97.1 1095.0,97.0 1095.0,98.5 1096.0,98.5 1096.0,97.3 1097.0,97.3 1097.0,94.3 1098.0,94.4 1098.0,101.1 1099.0,101.3 1099.0,99.6 1100.0,99.8 1100.0,100.5 1101.0,100.8 1101.0,99.3 1102.0,99.6 1102.0,104.6 1103.0,104.8 1103.0,89.3 1104.0,89.5 1104.0,102.1 1105.0,102.3 1105.0,98.4 1106.0,98.6 1106.0,94.9 1107.0,95.2 1107.0,97.1 1108.0,97.4 1108.0,102.7 1109.0,103.1 1109.0,105.2 1110.0,105.6 1110.0,98.1 1111.0,98.5 1111.0,105.4 1112.0,105.8 1112.0,103.6 1113.0,103.9 1113.0,108.1 1114.0,108.2 1114.0,108.1 1115.0,108.0 1115.0,106.4 1116.0,106.1 1116.0,99.0 1117.0,98.4 1117.0,93.6 1118.0,92.8 1118.0,108.7 1119.0,107.8 1119.0,93.8 1120.0,92.8 1120.0,108.5 1121.0,107.4 1121.0,97.4 1122.0,96.4 1122.0,106.4 1123.0,105.4 1123.0,94.2 1124.0,93.4 1124.0,92.2 1125.0,91.6 1125.0,75.4 1126.0,75.1 1126.0,97.1 1127.0,97.1 1127.0,93.1 1128.0,93.4 1128.0,89.6 1129.0,90.1 1129.0,91.4 1130.0,92.1 1130.0,102.7 1131.0,103.4 1131.0,97.8 1132.0,98.6 1132.0,101.4 1133.0,102.1 1133.0,95.2 1134.0,95.8 1134.0,99.3 1135.0,99.8 1135.0,109.8 1136.0,110.2 1136.0,96.5 1137.0,96.7 1137.0,106.7 1138.0,106.8 1138.0,96.4 1139.0,96.5 1139.0,110.9 1140.0,110.9 1140.0,95.2 1141.0,95.0 1141.0,95.7 1142.0,95.5 1142.0,99.2 1143.0,98.8 1143.0,95.9 1144.0,95.6 1144.0,97.1 1145.0,96.9 1145.0,97.4 1146.0,97.3 1146.0,105.2 1147.0,105.3 1147.0,94.5 1148.0,94.7 1148.0,105.2 1149.0,105.7 1149.0,103.8 1150.0,104.4 1150.0,99.8 1151.0,100.4 1151.0,98.2 1152.0,98.7 1152.0,111.9 1153.0,112.2 1153.0,84.2 1154.0,84.3 1154.0,97.4 1155.0,97.3 1155.0,99.4 1156.0,99.1 1156.0,103.3 1157.0,102.9 1157.0,99.8 1158.0,99.4 1158.0,104.9 1159.0,104.6 1159.0,102.3 1160.0,102.1 1160.0,112.6 1161.0,112.6 1161.0,92.3 1162.0,92.5 1162.0,105.4 1163.0,105.8 1163.0,109.8 1164.0,110.3 1164.0,95.7 1165.0,96.2 1165.0,101.6 1166.0,102.1 1166.0,84.8 1167.0,85.2 1167.0,103.8 1168.0,104.1 1168.0,96.6 1169.0,96.8 1169.0,105.7 1170.0,105.8 1170.0,94.5 1171.0,94.6 1171.0,102.2 1172.0,102.2 1172.0,95.4 1173.0,95.4 1173.0,102.3 1174.0,102.3 1174.0,104.6 1175.0,104.5 1175.0,116.5 1176.0,116.4 1176.0,104.5 1177.0,104.3 1177.0,108.1 1178.0,107.8 1178.0,113.1 1179.0,112.7 1179.0,114.7 1180.0,114.3 1180.0,88.6 1181.0,88.2 1181.0,103.6 1182.0,103.2 1182.0,100.5 1183.0,100.1 1183.0,104.6 1184.0,104.3 1184.0,102.4 1185.0,102.3 1185.0,87.7 1186.0,87.7 1186.0,95.3 1187.0,95.5 1187.0,110.6 1188.0,110.9 1188.0,110.2 1189.0,110.5 1189.0,94.1 1190.0,94.4 1190.0,96.8 1191.0,97.0 1191.0,98.3 1192.0,98.5 1192.0,91.6 1193.0,91.6 1193.0,82.4 1194.0,82.2 1194.0,106.2 1195.0,105.9 1195.0,92.7 1196.0,92.3 1196.0,94.5 1197.0,94.0 1197.0,88.9 1198.0,88.4 1198.0,95.2 1199.0,94.7 1199.0,94.4 1200.0,94.0 1200.0,114.6 1201.0,114.4 1201.0,94.5 1201.5,100.0 1201.5,136.0 1202.0,94.4 1202.0,100.3 1203.0,100.3 1203.0,96.2 1204.0,96.3 1204.0,104.8 1205.0,104.9 1205.0,97.8 1206.0,97.9 1206.0,83.7 1207.0,83.9 1207.0,108.6 1208.0,108.8 1208.0,114.9 1209.0,115.1 1209.0,101.7 1210.0,102.1 1210.0,87.4 1211.0,88.0 1211.0,106.9 1212.0,107.6 1212.0,101.3 1213.0,102.2 1213.0,94.6 1214.0,95.6 1214.0,97.3 1215.0,98.2 1215.0,109.4 1216.0,110.2 1216.0,98.4 1217.0,99.0 1217.0,102.1 1218.0,102.5 1218.0,98.6 1219.0,98.8 1219.0,107.1 1220.0,107.0 1220.0,97.9 1221.0,97.7 1221.0,107.2 1222.0,106.9 1222.0,101.2 1223.0,100.9 1223.0,116.2 1224.0,116.0 1224.0,99.7 1225.0,99.6 1225.0,103.2 1226.0,103.1 1226.0,114.3 1227.0,114.4 1227.0,108.4 1228.0,108.7 1228.0,93.1 1229.0,93.4 1229.0,105.5 1230.0,105.9 1230.0,106.5 1231.0,106.8 1231.0,108.7 1232.0,108.9 1232.0,103.4 1233.0,103.6 1233.0,114.5 1234.0,114.5 1234.0,113.8 1235.0,113.8 1235.0,102.4 1236.0,102.2 1236.0,97.6 1237.0,97.4 1237.0,104.0 1238.0,103.6 1238.0,107.9 1239.0,107.4 1239.0,110.9 1240.0,110.3 1240.0,95.7 1241.0,95.0 1241.0,98.3 1242.0,97.4 1242.0,89.0 1243.0,87.8 1243.0,94.3 1244.0,93.0 1244.0,106.6 1245.0,105.1 1245.0,111.6 1246.0,110.0 1246.0,101.2 1247.0,99.5" fill="none" stroke="#0000ff" stroke-width="3.8" stroke-linejoin="round" stroke-linecap="butt"/>
<rect x="122.5" y="39.5" width="1125" height="438" fill="none" stroke="#1a1a1a" stroke-width="1.1"/>
<line x1="209.5" y1="477.5" x2="209.5" y2="468.5" stroke="#2a2a2a" stroke-width="1.1"/>
<line x1="295.5" y1="477.5" x2="295.5" y2="454.2" stroke="#2a2a2a" stroke-width="1.1"/>
<line x1="382.5" y1="477.5" x2="382.5" y2="468.5" stroke="#2a2a2a" stroke-width="1.1"/>
<line x1="468.5" y1="477.5" x2="468.5" y2="454.2" stroke="#2a2a2a" stroke-width="1.1"/>
<line x1="555.5" y1="477.5" x2="555.5" y2="468.5" stroke="#2a2a2a" stroke-width="1.1"/>
<line x1="641.5" y1="477.5" x2="641.5" y2="454.2" stroke="#2a2a2a" stroke-width="1.1"/>
<line x1="728.5" y1="477.5" x2="728.5" y2="468.5" stroke="#2a2a2a" stroke-width="1.1"/>
<line x1="814.5" y1="477.5" x2="814.5" y2="454.2" stroke="#2a2a2a" stroke-width="1.1"/>
<line x1="901.5" y1="477.5" x2="901.5" y2="468.5" stroke="#2a2a2a" stroke-width="1.1"/>
<line x1="987.5" y1="477.5" x2="987.5" y2="454.2" stroke="#2a2a2a" stroke-width="1.1"/>
<line x1="1074.5" y1="477.5" x2="1074.5" y2="468.5" stroke="#2a2a2a" stroke-width="1.1"/>
<line x1="1160.5" y1="477.5" x2="1160.5" y2="454.2" stroke="#2a2a2a" stroke-width="1.1"/>
<line x1="122.5" y1="101.8" x2="145" y2="101.8" stroke="#2a2a2a" stroke-width="1.1"/>
<line x1="122.5" y1="226.9" x2="145" y2="226.9" stroke="#2a2a2a" stroke-width="1.1"/>
<line x1="122.5" y1="352.0" x2="145" y2="352.0" stroke="#2a2a2a" stroke-width="1.1"/>
<line x1="122.5" y1="164.4" x2="134" y2="164.4" stroke="#2a2a2a" stroke-width="1.1"/>
<line x1="122.5" y1="289.5" x2="134" y2="289.5" stroke="#2a2a2a" stroke-width="1.1"/>
<line x1="122.5" y1="414.6" x2="134" y2="414.6" stroke="#2a2a2a" stroke-width="1.1"/>
<line x1="407.5" y1="264.4" x2="474.2" y2="264.4" stroke="#ff0000" stroke-width="3.2"/>
<line x1="407.5" y1="307.8" x2="474.2" y2="307.8" stroke="#000000" stroke-width="3.2"/>
<line x1="407.5" y1="351.2" x2="474.2" y2="351.2" stroke="#0000ff" stroke-width="3.2"/>
<polyline points="123.0,682.5 124.5,682.7 124.5,684.0 126.0,684.2 126.0,685.0 127.5,685.1 127.5,683.3 129.0,683.3 129.0,683.6 130.5,683.5 130.5,685.1 132.0,685.0 132.0,682.2 133.5,682.2 133.5,684.4 135.0,684.4 135.0,681.7 136.5,681.7 136.5,680.8 138.0,680.9 138.0,683.8 139.5,684.0 139.5,683.1 141.0,683.4 141.0,683.1 142.5,683.3 142.5,680.9 144.0,681.1 144.0,684.7 145.5,684.8 145.5,683.7 147.0,683.6 147.0,682.7 148.5,682.5 148.5,683.9 150.0,683.6 150.0,682.3 151.5,682.0 151.5,682.6 153.0,682.4 153.0,682.3 154.5,682.2 154.5,685.8 156.0,685.8 156.0,683.1 157.5,683.2 157.5,685.0 159.0,685.2 159.0,682.4 160.5,682.6 160.5,682.1 162.0,682.3 162.0,686.1 163.5,686.2 163.5,682.1 165.0,682.2 165.0,685.6 166.5,685.7 166.5,682.7 168.0,682.8 168.0,686.0 169.5,686.1 169.5,683.3 171.0,683.5 171.0,686.4 172.5,686.5 172.5,687.1 174.0,687.2 174.0,687.3 175.5,687.2 175.5,685.1 177.0,685.0 177.0,684.0 178.5,683.9 178.5,685.4 180.0,685.2 180.0,686.9 181.5,686.7 181.5,683.4 183.0,683.3 183.0,682.5 184.5,682.5 184.5,686.3 186.0,686.3 186.0,683.5 187.5,683.6 187.5,685.1 189.0,685.2 189.0,684.5 190.5,684.6 190.5,684.7 192.0,684.8 192.0,684.1 193.5,684.1 193.5,684.3 195.0,684.3 195.0,682.3 196.5,682.2 196.5,683.7 198.0,683.7 198.0,683.3 199.5,683.4 199.5,686.0 201.0,686.1 201.0,684.2 202.5,684.3 202.5,684.8 204.0,684.8 204.0,682.5 205.5,682.4 205.5,684.7 207.0,684.5 207.0,686.4 208.5,686.2 208.5,684.4 210.0,684.3 210.0,686.3 211.5,686.2 211.5,683.6 213.0,683.5 213.0,683.1 214.5,683.2 214.5,685.2 216.0,685.3 216.0,683.5 217.5,683.6 217.5,682.8 219.0,682.9 219.0,684.1 220.5,684.2 220.5,683.5 222.0,683.5 222.0,685.7 223.5,685.7 223.5,685.3 225.0,685.2 225.0,682.4 226.5,682.2 226.5,684.8 228.0,684.6 228.0,682.2 229.5,682.1 229.5,684.1 231.0,684.0 231.0,684.5 232.5,684.5 232.5,683.0 234.0,683.1 234.0,683.0 235.5,683.1 235.5,684.7 237.0,684.8 237.0,683.4 238.5,683.4 238.5,682.3 240.0,682.3 240.0,685.9 241.5,685.9 241.5,685.0 243.0,685.0 243.0,684.5 244.5,684.6 244.5,684.4 246.0,684.5 246.0,685.3 247.5,685.4 247.5,684.1 249.0,684.1 249.0,685.0 250.5,684.9 250.5,684.3 252.0,684.1 252.0,682.8 253.5,682.7 253.5,685.0 255.0,684.9 255.0,683.7 256.5,683.7 256.5,681.6 258.0,681.6 258.0,682.9 259.5,683.0 259.5,680.5 261.0,680.6 261.0,681.6 262.5,681.8 262.5,682.0 264.0,682.2 264.0,685.9 265.5,686.1 265.5,685.1 267.0,685.3 267.0,687.4 268.5,687.5 268.5,685.1 270.0,685.1 270.0,686.8 271.5,686.9 271.5,684.0 273.0,684.1 273.0,683.7 274.5,683.7 274.5,683.5 276.0,683.5 276.0,684.9 277.5,684.9 277.5,683.8 279.0,683.7 279.0,683.4 280.5,683.3 280.5,683.2 282.0,683.1 282.0,684.8 283.5,684.8 283.5,682.7 285.0,682.8 285.0,684.4 286.5,684.5 286.5,684.5 288.0,684.5 288.0,686.7 289.5,686.7 289.5,684.7 291.0,684.7 291.0,682.8 292.5,682.8 292.5,684.8 294.0,684.8 294.0,685.0 295.5,685.0 295.5,682.9 297.0,682.9 297.0,681.0 298.5,681.0 298.5,685.5 300.0,685.5 300.0,684.3 301.5,684.2 301.5,683.5 303.0,683.5 303.0,684.2 304.5,684.1 304.5,686.0 306.0,685.9 306.0,687.8 307.5,687.7 307.5,683.0 309.0,682.9 309.0,686.0 310.5,685.8 310.5,683.8 312.0,683.6 312.0,683.7 313.5,683.5 313.5,683.4 315.0,683.3 315.0,683.3 316.5,683.3 316.5,683.0 318.0,683.0 318.0,682.5 319.5,682.6 319.5,683.5 321.0,683.6 321.0,682.2 322.5,682.4 322.5,684.4 324.0,684.5 324.0,682.9 325.5,683.0 325.5,684.5 327.0,684.5 327.0,683.7 328.5,683.6 328.5,680.3 330.0,680.2 330.0,685.2 331.5,685.1 331.5,684.0 333.0,683.8 333.0,683.4 334.5,683.3 334.5,682.9 336.0,682.9 336.0,685.6 337.5,685.6 337.5,682.7 339.0,682.8 339.0,685.7 340.5,685.8 340.5,684.0 342.0,684.1 342.0,681.9 343.5,682.0 343.5,684.7 345.0,684.8 345.0,680.4 346.5,680.5 346.5,684.6 348.0,684.7 348.0,685.1 349.5,685.2 349.5,684.5 351.0,684.6 351.0,683.4 352.5,683.5 352.5,686.3 354.0,686.4 354.0,686.9 355.5,687.0 355.5,683.5 357.0,683.6 357.0,684.3 358.5,684.4 358.5,687.0 360.0,687.0 360.0,684.3 361.5,684.3 361.5,686.1 363.0,686.0 363.0,683.5 364.5,683.4 364.5,683.9 366.0,683.7 366.0,684.9 367.5,684.8 367.5,685.0 369.0,684.9 369.0,682.4 370.5,682.2 370.5,682.7 372.0,682.6 372.0,684.6 373.5,684.4 373.5,685.4 375.0,685.3 375.0,684.3 376.5,684.2 376.5,684.0 378.0,683.9 378.0,684.0 379.5,683.9 379.5,681.8 381.0,681.8 381.0,683.9 382.5,684.0 382.5,684.6 384.0,684.8 384.0,684.4 385.5,684.5 385.5,682.2 387.0,682.4 387.0,682.6 388.5,682.8 388.5,685.5 390.0,685.6 390.0,682.3 391.5,682.4 391.5,682.9 393.0,683.0 393.0,686.4 394.5,686.5 394.5,683.2 396.0,683.3 396.0,683.5 397.5,683.5 397.5,685.3 399.0,685.3 399.0,685.4 400.5,685.4 400.5,684.2 401.2,683.0 401.2,700.0 402.0,684.1 402.0,682.5 403.5,682.4 403.5,683.6 405.0,683.5 405.0,684.4 406.5,684.4 406.5,682.9 408.0,682.9 408.0,681.6 409.5,681.5 409.5,685.6 411.0,685.4 411.0,684.5 412.5,684.4 412.5,684.7 414.0,684.7 414.0,684.8 415.5,684.9 415.5,682.4 417.0,682.6 417.0,684.5 418.5,684.7 418.5,685.7 420.0,685.9 420.0,685.2 421.5,685.5 421.5,683.1 423.0,683.3 423.0,682.8 424.5,682.9 424.5,683.9 426.0,684.0 426.0,685.7 427.5,685.7 427.5,684.8 429.0,684.6 429.0,685.2 430.5,685.0 430.5,683.0 432.0,682.8 432.0,685.5 433.5,685.2 433.5,683.2 435.0,683.0 435.0,685.4 436.5,685.2 436.5,683.7 438.0,683.6 438.0,680.1 439.5,680.0 439.5,683.3 441.0,683.2 441.0,682.3 442.5,682.2 442.5,682.2 444.0,682.1 444.0,683.0 445.5,683.0 445.5,684.6 447.0,684.6 447.0,684.3 448.5,684.4 448.5,686.7 450.0,686.9 450.0,683.4 451.5,683.5 451.5,681.1 453.0,681.2 453.0,682.9 454.5,683.0 454.5,682.6 456.0,682.7 456.0,683.0 457.5,683.1 457.5,687.4 459.0,687.5 459.0,685.1 460.5,685.2 460.5,682.9 462.0,682.9 462.0,685.7 463.5,685.6 463.5,683.7 465.0,683.6 465.0,682.3 466.5,682.2 466.5,685.5 468.0,685.5 468.0,683.4 469.5,683.5 469.5,684.2 471.0,684.4 471.0,687.2 472.5,687.3 472.5,683.0 474.0,683.2 474.0,685.8 475.5,685.9 475.5,683.8 477.0,683.8 477.0,683.2 478.5,683.2 478.5,684.0 480.0,684.0 480.0,684.9 481.5,684.8 481.5,684.9 483.0,684.8 483.0,682.6 484.5,682.5 484.5,686.6 486.0,686.5 486.0,683.4 487.5,683.3 487.5,684.8 489.0,684.7 489.0,684.5 490.5,684.4 490.5,682.8 492.0,682.7 492.0,684.8 493.5,684.8 493.5,683.0 495.0,683.0 495.0,682.7 496.5,682.7 496.5,682.1 498.0,682.2 498.0,681.6 499.5,681.7 499.5,683.2 501.0,683.4 501.0,681.4 502.5,681.6 502.5,684.0 504.0,684.1 504.0,683.9 505.5,684.0 505.5,686.8 507.0,686.9 507.0,683.2 508.5,683.2 508.5,686.2 510.0,686.1 510.0,685.1 511.5,684.9 511.5,684.8 513.0,684.7 513.0,683.5 514.5,683.3 514.5,683.1 516.0,683.0 516.0,683.7 517.5,683.7 517.5,684.0 519.0,684.1 519.0,684.9 520.5,685.0 520.5,683.6 522.0,683.7 522.0,687.9 523.5,687.9 523.5,686.6 525.0,686.6 525.0,681.2 526.5,681.1 526.5,684.5 528.0,684.4 528.0,684.1 529.5,684.0 529.5,682.8 531.0,682.7 531.0,680.5 532.5,680.4 532.5,681.6 534.0,681.5 534.0,683.5 535.5,683.5 535.5,684.7 537.0,684.8 537.0,684.4 538.5,684.6 538.5,684.7 540.0,684.9 540.0,683.9 541.5,684.1 541.5,685.7 543.0,685.9 543.0,685.2 544.5,685.2 544.5,686.0 546.0,686.0 546.0,684.4 547.5,684.4 547.5,683.7 549.0,683.6 549.0,682.5 550.5,682.4 550.5,686.5 552.0,686.4 552.0,683.6 553.5,683.5 553.5,682.9 555.0,682.8 555.0,681.4 556.5,681.3 556.5,684.8 558.0,684.7 558.0,682.2 559.5,682.2 559.5,684.1 561.0,684.1 561.0,684.7 562.5,684.8 562.5,685.9 564.0,686.1 564.0,683.3 565.5,683.4 565.5,681.8 567.0,682.0 567.0,686.7 568.5,686.7 568.5,684.9 570.0,684.9 570.0,683.7 571.5,683.6 571.5,684.4 573.0,684.3 573.0,686.8 574.5,686.7 574.5,684.3 576.0,684.2 576.0,683.3 576.8,651.0 576.8,714.0 577.5,683.2 577.5,683.9 579.0,683.8 579.0,684.8 580.5,684.7 580.5,684.9 582.0,684.8 582.0,684.7 583.5,684.7 583.5,684.7 585.0,684.7 585.0,682.3 586.5,682.4 586.5,684.7 588.0,684.7 588.0,685.3 589.5,685.3 589.5,684.8 591.0,684.8 591.0,683.9 592.5,683.9 592.5,683.8 594.0,683.8 594.0,684.2 595.5,684.2 595.5,684.0 597.0,684.1 597.0,681.8 598.5,681.8 598.5,683.8 600.0,683.7 600.0,687.0 601.5,687.0 601.5,683.4 603.0,683.3 603.0,683.1 604.5,683.0 604.5,685.2 606.0,685.3 606.0,684.0 607.5,684.0 607.5,682.9 609.0,683.0 609.0,684.1 610.5,684.3 610.5,687.5 612.0,687.6 612.0,686.5 613.5,686.7 613.5,684.5 615.0,684.6 615.0,684.2 616.5,684.3 616.5,686.1 618.0,686.2 618.0,685.2 619.5,685.3 619.5,685.4 621.0,685.4 621.0,684.5 622.5,684.5 622.5,682.9 624.0,682.8 624.0,682.6 625.5,682.6 625.5,684.3 627.0,684.3 627.0,681.7 628.5,681.8 628.5,685.5 630.0,685.5 630.0,685.7 631.5,685.7 631.5,686.4 633.0,686.4 633.0,684.6 634.5,684.5 634.5,686.9 636.0,686.7 636.0,685.9 637.5,685.7 637.5,684.5 639.0,684.3 639.0,685.7 640.5,685.6 640.5,682.9 642.0,682.8 642.0,679.9 643.5,679.9 643.5,684.8 645.0,684.8 645.0,684.1 646.5,684.2 646.5,685.7 648.0,685.8 648.0,684.3 649.5,684.4 649.5,683.6 651.0,683.7 651.0,683.3 652.5,683.4 652.5,683.2 654.0,683.3 654.0,684.6 655.5,684.7 655.5,680.7 657.0,680.8 657.0,682.9 658.5,683.0 658.5,686.6 660.0,686.7 660.0,681.9 661.5,681.9 661.5,682.5 663.0,682.4 663.0,683.7 664.5,683.6 664.5,683.8 666.0,683.6 666.0,684.2 667.5,684.0 667.5,686.1 669.0,685.9 669.0,684.2 670.5,684.0 670.5,685.2 672.0,685.1 672.0,682.8 673.5,682.8 673.5,683.6 675.0,683.6 675.0,682.6 676.5,682.7 676.5,683.4 678.0,683.5 678.0,684.4 679.5,684.5 679.5,684.4 681.0,684.5 681.0,681.4 682.5,681.5 682.5,682.4 684.0,682.6 684.0,686.6 685.5,686.7 685.5,681.5 687.0,681.5 687.0,684.3 688.5,684.3 688.5,682.7 690.0,682.6 690.0,683.9 691.5,683.8 691.5,682.7 693.0,682.6 693.0,684.1 694.5,684.1 694.5,682.6 696.0,682.6 696.0,685.4 697.5,685.4 697.5,686.9 699.0,686.9 699.0,680.9 700.5,680.9 700.5,683.0 702.0,682.9 702.0,682.0 703.5,681.9 703.5,684.1 705.0,683.9 705.0,685.6 706.5,685.5 706.5,685.5 708.0,685.5 708.0,685.4 709.5,685.3 709.5,683.9 711.0,683.9 711.0,682.9 712.5,683.0 712.5,685.2 714.0,685.2 714.0,682.9 715.5,682.9 715.5,682.7 717.0,682.7 717.0,683.8 718.5,683.7 718.5,682.0 720.0,682.0 720.0,683.4 721.5,683.4 721.5,682.4 723.0,682.4 723.0,683.8 724.5,683.8 724.5,685.0 726.0,685.1 726.0,683.1 727.5,683.2 727.5,684.6 729.0,684.7 729.0,685.3 730.5,685.5 730.5,683.2 732.0,683.3 732.0,684.2 733.5,684.3 733.5,684.0 735.0,684.1 735.0,686.9 736.5,687.0 736.5,684.0 738.0,684.1 738.0,684.9 739.5,685.0 739.5,683.0 741.0,683.0 741.0,683.6 742.5,683.6 742.5,685.6 744.0,685.4 744.0,684.3 745.5,684.2 745.5,685.5 747.0,685.5 747.0,684.6 748.5,684.5 748.5,687.9 750.0,687.9 750.0,684.2 751.5,684.2 751.5,685.8 753.0,685.8 753.0,682.8 754.5,682.7 754.5,683.4 756.0,683.4 756.0,682.4 757.5,682.4 757.5,687.8 759.0,687.8 759.0,681.6 760.5,681.6 760.5,684.5 762.0,684.5 762.0,683.7 763.5,683.7 763.5,686.3 765.0,686.3 765.0,683.5 766.5,683.5 766.5,686.6 768.0,686.5 768.0,685.6 769.5,685.5 769.5,684.7 771.0,684.7 771.0,684.6 772.5,684.6 772.5,685.4 774.0,685.4 774.0,684.6 775.5,684.7 775.5,686.3 777.0,686.4 777.0,685.5 778.5,685.6 778.5,684.4 780.0,684.4 780.0,685.7 781.5,685.7 781.5,684.8 783.0,684.8 783.0,686.1 784.5,686.1 784.5,684.2 786.0,684.2 786.0,684.7 787.5,684.6 787.5,682.9 789.0,682.8 789.0,685.4 790.5,685.3 790.5,685.2 792.0,685.1 792.0,683.5 793.5,683.4 793.5,686.5 795.0,686.4 795.0,684.4 796.5,684.3 796.5,682.6 798.0,682.4 798.0,685.4 799.5,685.3 799.5,683.6 801.0,683.6 801.0,680.2 802.5,680.2 802.5,684.3 804.0,684.5 804.0,684.0 805.5,684.2 805.5,684.3 807.0,684.5 807.0,684.1 808.5,684.3 808.5,682.7 810.0,682.7 810.0,684.8 811.5,684.8 811.5,682.4 813.0,682.3 813.0,684.3 814.5,684.2 814.5,685.6 816.0,685.4 816.0,685.6 817.5,685.5 817.5,683.6 819.0,683.5 819.0,686.7 820.5,686.7 820.5,684.6 822.0,684.7 822.0,683.7 823.5,683.8 823.5,684.6 825.0,684.6 825.0,683.5 826.5,683.6 826.5,685.6 828.0,685.5 828.0,683.1 829.5,683.0 829.5,683.3 831.0,683.1 831.0,682.5 832.5,682.3 832.5,681.9 834.0,681.8 834.0,683.3 835.5,683.3 835.5,686.1 837.0,686.1 837.0,684.0 838.5,684.0 838.5,685.2 840.0,685.2 840.0,683.7 841.5,683.7 841.5,684.8 843.0,684.8 843.0,682.2 844.5,682.3 844.5,682.2 846.0,682.2 846.0,686.1 847.5,686.2 847.5,684.2 849.0,684.3 849.0,681.8 850.5,681.8 850.5,684.7 852.0,684.7 852.0,683.7 853.5,683.8 853.5,683.7 855.0,683.8 855.0,685.2 856.5,685.3 856.5,682.6 858.0,682.7 858.0,685.9 859.5,685.9 859.5,684.6 861.0,684.6 861.0,683.2 862.5,683.2 862.5,682.5 864.0,682.5 864.0,686.6 865.5,686.6 865.5,683.8 867.0,683.8 867.0,682.5 868.5,682.6 868.5,684.2 870.0,684.2 870.0,685.0 871.5,685.1 871.5,685.3 873.0,685.3 873.0,686.4 874.5,686.4 874.5,685.2 876.0,685.2 876.0,684.4 877.5,684.3 877.5,687.3 879.0,687.2 879.0,687.7 880.5,687.6 880.5,682.7 882.0,682.6 882.0,685.3 883.5,685.3 883.5,683.2 885.0,683.2 885.0,685.9 886.5,686.0 886.5,682.8 888.0,682.9 888.0,684.5 889.5,684.6 889.5,686.3 891.0,686.5 891.0,685.4 892.5,685.6 892.5,686.1 894.0,686.2 894.0,683.9 895.5,684.0 895.5,683.2 897.0,683.3 897.0,683.3 898.5,683.3 898.5,686.4 900.0,686.3 900.0,683.8 901.5,683.5 901.5,686.3 903.0,686.0 903.0,683.6 904.5,683.2 904.5,685.4 906.0,685.1 906.0,683.8 907.5,683.5 907.5,681.7 909.0,681.5 909.0,683.0 910.5,683.1 910.5,683.6 912.0,683.8 912.0,683.8 913.5,684.0 913.5,683.2 915.0,683.4 915.0,685.0 916.5,685.1 916.5,684.9 918.0,685.0 918.0,685.0 919.5,685.0 919.5,682.8 921.0,682.7 921.0,681.0 922.5,681.0 922.5,684.5 924.0,684.6 924.0,682.8 925.5,682.9 925.5,682.7 927.0,682.9 927.0,683.6 928.5,683.8 928.5,684.8 930.0,684.9 930.0,682.2 931.5,682.2 931.5,684.3 933.0,684.3 933.0,686.2 934.5,686.2 934.5,682.5 936.0,682.4 936.0,683.9 937.5,683.8 937.5,686.1 939.0,686.0 939.0,686.3 940.5,686.3 940.5,684.9 942.0,685.0 942.0,684.4 943.5,684.5 943.5,682.4 945.0,682.6 945.0,684.6 946.5,684.7 946.5,683.3 948.0,683.5 948.0,685.2 949.5,685.2 949.5,683.0 951.0,683.0 951.0,683.3 952.5,683.1 952.5,684.7 954.0,684.5 954.0,685.9 955.5,685.8 955.5,683.7 957.0,683.6 957.0,684.5 958.5,684.4 958.5,685.1 960.0,685.1 960.0,684.8 961.5,684.7 961.5,682.4 963.0,682.2 963.0,683.1 964.5,683.0 964.5,684.2 966.0,684.1 966.0,683.7 967.5,683.7 967.5,685.9 969.0,686.0 969.0,684.5 970.5,684.6 970.5,682.7 972.0,682.8 972.0,685.7 973.5,685.8 973.5,686.9 975.0,686.9 975.0,684.8 976.5,684.8 976.5,685.3 978.0,685.3 978.0,682.1 979.5,682.1 979.5,683.9 981.0,684.0 981.0,684.8 982.5,684.9 982.5,683.6 984.0,683.6 984.0,683.7 985.5,683.7 985.5,684.8 987.0,684.8 987.0,683.3 988.5,683.3 988.5,683.0 990.0,683.0 990.0,683.9 991.5,683.9 991.5,684.1 993.0,684.1 993.0,685.3 994.5,685.4 994.5,684.0 996.0,684.1 996.0,682.8 997.5,682.8 997.5,685.6 999.0,685.5 999.0,683.2 1000.5,683.0 1000.5,685.0 1002.0,684.8 1002.0,683.0 1003.5,682.7 1003.5,684.2 1005.0,683.9 1005.0,683.6 1006.5,683.3 1006.5,682.5 1008.0,682.4 1008.0,679.7 1009.5,679.7 1009.5,682.3 1011.0,682.4 1011.0,684.7 1012.5,684.9 1012.5,683.3 1014.0,683.5 1014.0,686.3 1015.5,686.5 1015.5,683.7 1017.0,683.9 1017.0,683.8 1018.5,684.1 1018.5,682.8 1020.0,683.0 1020.0,684.8 1021.5,685.0 1021.5,683.4 1023.0,683.6 1023.0,683.6 1024.5,683.8 1024.5,686.3 1026.0,686.4 1026.0,683.8 1027.5,683.9 1027.5,688.2 1029.0,688.2 1029.0,685.2 1030.5,685.3 1030.5,683.9 1032.0,683.9 1032.0,687.0 1033.5,686.9 1033.5,683.9 1035.0,683.7 1035.0,685.2 1036.5,685.0 1036.5,685.0 1038.0,684.8 1038.0,685.9 1039.5,685.7 1039.5,686.7 1041.0,686.6 1041.0,685.3 1042.5,685.2 1042.5,682.6 1044.0,682.5 1044.0,682.5 1045.5,682.4 1045.5,683.5 1047.0,683.3 1047.0,685.0 1048.5,684.9 1048.5,684.0 1050.0,683.9 1050.0,684.1 1051.5,684.0 1051.5,683.2 1053.0,683.2 1053.0,687.0 1054.5,687.1 1054.5,682.2 1056.0,682.3 1056.0,686.3 1057.5,686.5 1057.5,685.5 1059.0,685.6 1059.0,685.0 1060.5,685.1 1060.5,684.2 1062.0,684.3 1062.0,683.6 1063.5,683.7 1063.5,684.4 1065.0,684.4 1065.0,683.2 1066.5,683.2 1066.5,683.9 1068.0,683.9 1068.0,683.4 1069.5,683.3 1069.5,685.4 1071.0,685.3 1071.0,684.4 1072.5,684.3 1072.5,684.7 1074.0,684.5 1074.0,683.0 1075.5,682.8 1075.5,682.1 1077.0,681.9 1077.0,682.4 1078.5,682.8 1078.5,684.2 1080.0,685.8 1080.0,684.2 1081.5,686.5 1081.5,688.4 1083.0,690.9 1083.0,688.7 1084.5,691.1 1084.5,692.3 1086.0,694.5 1086.0,695.0 1087.5,696.7 1087.5,695.8 1088.6,696.2 1089.0,696.2 1089.0,695.1 1090.5,693.8 1090.5,696.5 1092.0,694.3 1092.0,693.3 1093.5,690.6 1093.5,690.1 1095.0,687.3 1095.0,689.8 1096.5,687.2 1096.5,688.1 1098.0,686.8 1098.0,684.1 1099.5,683.9 1099.5,684.3 1101.0,684.5 1101.0,687.5 1102.5,687.7 1102.5,683.5 1104.0,683.8 1104.0,686.1 1105.5,686.3 1105.5,686.0 1107.0,686.1 1107.0,684.1 1108.5,684.1 1108.5,683.5 1110.0,683.4 1110.0,683.7 1111.5,683.6 1111.5,684.9 1113.0,684.8 1113.0,684.9 1114.5,684.8 1114.5,687.8 1116.0,687.8 1116.0,683.0 1117.5,683.0 1117.5,684.6 1119.0,684.6 1119.0,683.3 1120.5,683.4 1120.5,685.5 1122.0,685.6 1122.0,685.0 1123.5,685.0 1123.5,682.7 1125.0,682.6 1125.0,683.7 1126.5,683.6 1126.5,684.2 1128.0,684.1 1128.0,684.9 1129.5,684.7 1129.5,684.5 1131.0,684.4 1131.0,684.5 1132.5,684.5 1132.5,683.6 1134.0,683.6 1134.0,685.1 1135.5,685.1 1135.5,683.7 1137.0,683.8 1137.0,685.0 1138.5,685.1 1138.5,684.6 1140.0,684.8 1140.0,682.9 1141.5,683.1 1141.5,684.1 1143.0,684.3 1143.0,682.5 1144.5,682.6 1144.5,684.2 1146.0,684.3 1146.0,685.3 1147.5,685.4 1147.5,684.7 1149.0,684.8 1149.0,684.5 1150.5,684.5 1150.5,683.9 1152.0,683.8 1152.0,686.5 1153.5,686.4 1153.5,684.5 1155.0,684.3 1155.0,683.1 1156.5,682.9 1156.5,683.5 1158.0,683.4 1158.0,685.3 1159.5,685.2 1159.5,686.7 1161.0,686.7 1161.0,685.7 1162.5,685.7 1162.5,683.6 1164.0,683.6 1164.0,685.2 1165.5,685.2 1165.5,681.9 1167.0,681.8 1167.0,685.1 1168.5,685.0 1168.5,683.4 1170.0,683.4 1170.0,684.2 1171.5,684.3 1171.5,681.0 1173.0,681.1 1173.0,684.5 1174.5,684.7 1174.5,682.5 1176.0,682.7 1176.0,680.7 1177.5,680.9 1177.5,687.9 1179.0,688.0 1179.0,683.0 1180.5,683.1 1180.5,685.9 1182.0,685.9 1182.0,684.0 1183.5,684.1 1183.5,684.6 1185.0,684.7 1185.0,684.8 1186.5,684.8 1186.5,686.2 1188.0,686.1 1188.0,685.8 1189.5,685.7 1189.5,683.4 1191.0,683.2 1191.0,683.7 1192.5,683.5 1192.5,687.5 1194.0,687.3 1194.0,685.7 1195.5,685.6 1195.5,682.7 1197.0,682.7 1197.0,686.0 1198.5,686.1 1198.5,683.7 1200.0,683.8 1200.0,685.2 1201.5,685.4 1201.5,682.8 1203.0,682.9 1203.0,685.3 1204.5,685.3 1204.5,683.6 1206.0,683.6 1206.0,682.6 1207.5,682.6 1207.5,685.8 1209.0,685.8 1209.0,685.0 1210.5,685.1 1210.5,682.4 1212.0,682.4 1212.0,681.4 1213.5,681.4 1213.5,684.3 1215.0,684.3 1215.0,685.0 1216.5,685.0 1216.5,683.7 1218.0,683.6 1218.0,684.4 1219.5,684.4 1219.5,683.7 1221.0,683.6 1221.0,683.4 1222.5,683.4 1222.5,684.6 1224.0,684.5 1224.0,685.6 1225.5,685.6 1225.5,684.6 1227.0,684.5 1227.0,683.4 1228.5,683.3 1228.5,682.8 1230.0,682.8 1230.0,683.9 1231.5,684.0 1231.5,680.8 1233.0,680.9 1233.0,683.9 1234.5,684.2 1234.5,683.9 1236.0,684.1 1236.0,684.2 1237.5,684.4 1237.5,684.1 1239.0,684.3 1239.0,684.4 1240.5,684.4 1240.5,682.8 1242.0,682.7 1242.0,685.5 1243.5,685.3 1243.5,684.1 1245.0,683.9 1245.0,684.3 1246.5,684.0" fill="none" stroke="#000000" stroke-width="3.9" stroke-linejoin="round" stroke-linecap="butt"/><polyline points="123.0,682.8 124.5,682.5 124.5,683.5 126.0,683.2 126.0,681.5 127.5,681.3 127.5,682.5 129.0,682.3 129.0,682.1 130.5,681.9 130.5,681.7 132.0,681.6 132.0,680.7 133.5,680.7 133.5,682.2 135.0,682.2 135.0,683.4 136.5,683.4 136.5,681.6 138.0,681.5 138.0,682.5 139.5,682.5 139.5,682.7 141.0,682.6 141.0,681.2 142.5,681.1 142.5,681.6 144.0,681.5 144.0,683.0 145.5,682.9 145.5,678.0 147.0,677.9 147.0,681.6 148.5,681.5 148.5,681.4 150.0,681.3 150.0,679.9 151.5,679.9 151.5,678.4 153.0,678.4 153.0,682.1 154.5,682.1 154.5,684.3 156.0,684.3 156.0,680.9 157.5,680.8 157.5,682.2 159.0,682.1 159.0,681.3 160.5,681.2 160.5,681.2 162.0,681.1 162.0,680.4 163.5,680.4 163.5,681.2 165.0,681.3 165.0,679.6 166.5,679.7 166.5,680.9 168.0,681.1 168.0,681.3 169.5,681.5 169.5,681.7 171.0,681.8 171.0,680.5 172.5,680.6 172.5,683.7 174.0,683.7 174.0,679.8 175.5,679.8 175.5,680.1 177.0,680.0 177.0,681.9 178.5,681.7 178.5,679.2 180.0,679.1 180.0,684.2 181.5,684.2 181.5,678.1 183.0,678.2 183.0,680.7 184.5,680.9 184.5,683.2 186.0,683.4 186.0,680.0 187.5,680.2 187.5,683.9 189.0,684.1 189.0,683.9 190.5,684.0 190.5,685.0 192.0,685.0 192.0,682.3 193.5,682.2 193.5,684.0 195.0,683.9 195.0,681.9 196.5,681.6 196.5,683.0 198.0,682.7 198.0,680.3 199.5,680.0 199.5,682.4 201.0,682.1 201.0,681.8 202.5,681.4 202.5,682.0 204.0,681.5 204.0,681.0 205.5,680.4 205.5,677.9 207.0,677.4 207.0,680.0 208.5,679.5 208.5,678.0 210.0,677.6 210.0,678.0 211.5,677.7 211.5,678.3 213.0,678.2 213.0,676.7 214.5,676.6 214.5,678.5 216.0,678.4 216.0,677.0 217.5,676.9 217.5,678.1 219.0,678.1 219.0,677.2 220.5,677.1 220.5,675.1 222.0,675.0 222.0,678.2 223.5,678.2 223.5,676.9 225.0,676.9 225.0,677.6 226.5,677.5 226.5,676.2 228.0,676.2 228.0,674.8 229.5,674.7 229.5,677.9 231.0,677.9 231.0,674.1 232.5,674.1 232.5,675.8 234.0,675.9 234.0,674.4 235.5,674.5 235.5,677.3 237.0,677.4 237.0,674.3 238.5,674.4 238.5,678.0 239.2,670.0 239.2,689.0 240.0,678.3 240.0,680.5 241.5,680.9 241.5,676.4 243.0,676.8 243.0,679.4 244.5,679.9 244.5,681.0 246.0,681.5 246.0,677.4 247.5,677.8 247.5,679.5 249.0,680.0 249.0,679.1 250.5,679.4 250.5,680.3 252.0,680.6 252.0,679.8 253.5,679.9 253.5,683.2 255.0,683.3 255.0,681.0 256.5,681.1 256.5,684.0 258.0,684.0 258.0,683.7 259.5,683.7 259.5,682.4 261.0,682.3 261.0,680.2 262.5,680.1 262.5,679.6 264.0,679.5 264.0,679.6 265.5,679.6 265.5,681.5 267.0,681.4 267.0,680.6 268.5,680.6 268.5,680.7 270.0,680.6 270.0,680.7 271.5,680.6 271.5,682.9 273.0,682.8 273.0,680.1 274.5,680.0 274.5,679.8 276.0,679.7 276.0,680.6 277.5,680.5 277.5,681.1 279.0,680.9 279.0,681.5 280.5,681.4 280.5,681.6 282.0,681.5 282.0,678.6 283.5,678.5 283.5,680.3 285.0,680.2 285.0,679.0 286.5,678.9 286.5,680.1 288.0,680.1 288.0,679.0 289.5,679.0 289.5,678.3 291.0,678.4 291.0,679.3 292.5,679.4 292.5,680.3 294.0,680.4 294.0,678.5 295.5,678.5 295.5,680.4 297.0,680.4 297.0,679.8 298.5,679.7 298.5,679.3 300.0,679.1 300.0,680.1 301.5,679.9 301.5,681.2 303.0,681.0 303.0,678.7 304.5,678.6 304.5,675.4 306.0,675.3 306.0,676.9 306.8,673.0 306.8,683.0 307.5,676.8 307.5,680.3 309.0,680.2 309.0,677.1 310.5,677.2 310.5,679.3 312.0,680.8 312.0,678.4 313.5,683.4 313.5,687.0 315.0,694.9 315.0,692.9 316.5,701.3 316.5,702.0 318.0,710.2 318.0,709.6 319.5,717.6 319.5,717.9 321.0,725.7 321.0,726.3 322.5,733.9 322.5,733.3 324.0,740.8 324.0,740.5 325.5,747.9 325.5,748.6 327.0,755.7 327.0,755.3 328.5,762.1 328.5,762.6 330.0,769.0 330.0,768.5 331.5,774.4 331.5,774.5 333.0,780.0 333.0,780.2 334.5,785.0 334.5,785.1 336.0,788.8 336.0,788.8 337.5,790.2 337.5,789.6 337.5,789.6 339.0,787.5 339.0,788.0 340.5,783.5 340.5,783.0 342.0,777.5 342.0,778.1 343.5,772.0 343.5,771.8 345.0,765.3 345.0,765.4 346.5,758.5 346.5,758.2 348.0,750.9 348.0,751.0 349.5,743.3 349.5,743.5 351.0,735.6 351.0,735.1 352.5,726.9 352.5,727.1 354.0,718.6 354.0,719.0 355.5,710.2 355.5,710.3 357.0,701.4 357.0,700.9 358.5,691.9 358.5,691.2 360.0,683.4 360.0,683.0 361.5,679.1 361.5,680.1 363.0,679.4 363.0,680.6 364.5,680.7 364.5,680.0 366.0,680.1 366.0,678.4 367.5,678.4 367.5,678.8 369.0,678.9 369.0,680.8 370.5,680.8 370.5,676.9 372.0,676.9 372.0,682.0 373.5,681.9 373.5,676.2 375.0,676.2 375.0,679.8 376.5,679.8 376.5,678.8 378.0,678.9 378.0,678.8 379.5,678.8 379.5,678.9 381.0,678.9 381.0,680.2 382.5,680.3 382.5,679.7 384.0,679.7 384.0,679.5 385.5,679.5 385.5,682.1 387.0,682.1 387.0,680.9 388.5,680.9 388.5,679.8 390.0,679.8 390.0,678.0 391.5,678.0 391.5,679.7 393.0,679.7 393.0,679.9 393.8,665.0 393.8,692.0 394.5,680.0 394.5,681.3 396.0,681.4 396.0,680.0 397.5,680.0 397.5,679.9 399.0,679.8 399.0,679.2 400.5,679.2 400.5,681.0 402.0,681.1 402.0,677.8 403.5,677.9 403.5,680.4 405.0,680.6 405.0,682.0 406.5,682.2 406.5,677.0 408.0,677.2 408.0,682.5 409.5,682.6 409.5,681.5 411.0,681.4 411.0,681.3 412.5,681.1 412.5,679.5 414.0,679.3 414.0,679.4 415.5,679.2 415.5,679.0 417.0,678.9 417.0,683.6 418.5,683.5 418.5,678.8 420.0,678.8 420.0,683.0 421.5,683.0 421.5,679.8 423.0,679.8 423.0,678.8 424.5,678.8 424.5,681.0 426.0,681.0 426.0,679.8 427.5,679.7 427.5,678.9 429.0,678.7 429.0,679.2 430.5,679.0 430.5,680.5 432.0,680.2 432.0,678.9 433.5,678.6 433.5,678.2 435.0,678.1 435.0,679.1 436.5,679.1 436.5,679.6 438.0,679.7 438.0,677.3 439.5,677.6 439.5,682.6 441.0,682.8 441.0,678.1 442.5,678.3 442.5,679.5 444.0,679.7 444.0,681.2 445.5,681.3 445.5,680.6 447.0,680.7 447.0,679.7 448.5,679.8 448.5,679.7 450.0,679.8 450.0,680.4 451.5,680.5 451.5,682.0 453.0,682.0 453.0,680.5 454.5,680.5 454.5,682.0 456.0,682.0 456.0,680.3 457.5,680.3 457.5,683.2 459.0,683.2 459.0,680.7 460.5,680.7 460.5,682.1 462.0,682.1 462.0,678.8 463.5,678.8 463.5,680.3 465.0,680.2 465.0,681.2 466.5,681.1 466.5,677.8 468.0,677.7 468.0,679.2 469.5,679.2 469.5,678.6 471.0,678.5 471.0,681.4 472.5,681.4 472.5,677.8 474.0,677.7 474.0,680.0 475.5,679.9 475.5,679.5 477.0,679.5 477.0,679.5 478.5,679.5 478.5,677.5 480.0,677.5 480.0,680.5 481.5,680.6 481.5,677.3 483.0,677.3 483.0,681.3 484.5,681.3 484.5,680.0 486.0,680.0 486.0,677.7 487.5,677.7 487.5,679.4 489.0,679.4 489.0,677.6 490.5,677.7 490.5,679.2 492.0,679.3 492.0,680.1 493.5,680.3 493.5,683.2 495.0,683.4 495.0,678.5 496.5,678.7 496.5,680.3 498.0,680.4 498.0,679.4 499.5,679.4 499.5,681.3 501.0,681.3 501.0,682.5 502.5,682.4 502.5,679.2 504.0,679.0 504.0,680.7 505.5,680.6 505.5,683.1 507.0,683.1 507.0,679.8 508.5,679.9 508.5,680.1 510.0,680.3 510.0,680.1 511.5,680.3 511.5,680.8 513.0,680.9 513.0,681.5 514.5,681.4 514.5,679.0 516.0,678.8 516.0,680.3 517.5,680.0 517.5,679.0 519.0,678.7 519.0,680.4 520.5,680.2 520.5,680.1 522.0,679.9 522.0,681.1 523.5,681.0 523.5,679.5 525.0,679.4 525.0,679.3 526.5,679.3 526.5,677.7 528.0,677.7 528.0,680.6 529.5,680.7 529.5,679.9 531.0,679.9 531.0,679.0 532.5,679.0 532.5,680.1 534.0,680.0 534.0,681.1 535.5,681.0 535.5,680.4 537.0,680.4 537.0,680.3 538.5,680.3 538.5,681.5 540.0,681.6 540.0,678.5 541.5,678.5 541.5,679.6 543.0,679.6 543.0,680.3 544.5,680.3 544.5,676.3 546.0,676.2 546.0,679.3 547.5,679.3 547.5,681.4 549.0,681.3 549.0,678.2 550.5,678.2 550.5,679.1 552.0,679.1 552.0,679.5 553.5,679.6 553.5,681.0 555.0,681.0 555.0,678.2 556.5,678.3 556.5,680.8 558.0,680.9 558.0,681.9 559.5,682.0 559.5,680.3 561.0,680.4 561.0,678.9 562.5,678.9 562.5,682.4 564.0,682.4 564.0,681.9 565.5,681.8 565.5,681.0 567.0,680.9 567.0,682.0 568.5,681.9 568.5,680.7 570.0,680.5 570.0,679.5 571.5,679.3 571.5,677.5 573.0,677.4 573.0,681.7 574.5,681.6 574.5,679.4 576.0,679.3 576.0,679.1 577.5,679.0 577.5,680.1 579.0,680.1 579.0,680.5 580.5,680.5 580.5,677.9 582.0,677.9 582.0,679.1 583.5,679.0 583.5,678.2 585.0,678.1 585.0,677.5 586.5,677.5 586.5,677.4 588.0,677.4 588.0,678.1 589.5,678.1 589.5,678.6 591.0,678.5 591.0,677.0 592.5,676.9 592.5,677.7 594.0,677.6 594.0,679.8 595.5,679.8 595.5,676.8 597.0,676.8 597.0,678.5 598.5,678.4 598.5,676.9 600.0,676.8 600.0,677.8 601.5,677.7 601.5,678.6 603.0,678.5 603.0,679.3 604.5,679.2 604.5,680.3 606.0,680.2 606.0,676.9 607.5,676.8 607.5,679.8 609.0,679.7 609.0,676.3 610.5,676.3 610.5,680.9 612.0,680.9 612.0,676.2 613.5,676.2 613.5,676.7 615.0,676.8 615.0,678.8 616.5,678.8 616.5,677.7 618.0,677.8 618.0,679.3 619.5,679.4 619.5,678.9 621.0,679.0 621.0,678.6 622.5,678.6 622.5,681.0 624.0,681.0 624.0,677.9 625.5,677.8 625.5,677.2 627.0,677.2 627.0,678.6 628.5,678.6 628.5,678.3 630.0,678.2 630.0,678.5 631.5,678.5 631.5,678.8 633.0,678.7 633.0,679.3 634.5,679.2 634.5,677.1 636.0,677.1 636.0,675.8 637.5,675.8 637.5,678.1 639.0,678.2 639.0,679.0 640.5,679.0 640.5,678.5 642.0,678.5 642.0,676.6 643.5,676.4 643.5,675.8 645.0,675.5 645.0,675.6 646.5,675.3 646.5,678.0 648.0,677.8 648.0,676.4 649.5,676.3 649.5,678.6 651.0,678.5 651.0,679.7 652.5,679.6 652.5,678.1 654.0,678.1 654.0,677.6 655.5,677.7 655.5,677.4 657.0,677.6 657.0,678.0 658.5,678.2 658.5,681.1 660.0,681.3 660.0,677.4 661.5,677.7 661.5,676.5 663.0,676.6 663.0,679.0 664.5,679.1 664.5,680.0 666.0,680.1 666.0,676.9 667.5,677.0 667.5,676.7 669.0,676.8 669.0,676.2 670.5,676.3 670.5,678.2 672.0,678.4 672.0,676.9 673.5,677.0 673.5,680.8 675.0,680.9 675.0,676.2 676.5,676.2 676.5,680.5 678.0,680.4 678.0,679.6 679.5,679.5 679.5,676.1 681.0,676.0 681.0,678.9 682.5,678.9 682.5,680.8 683.2,666.0 683.2,691.0 684.0,680.8 684.0,679.7 685.5,679.8 685.5,678.2 687.0,678.3 687.0,678.6 688.5,678.8 688.5,679.1 690.0,679.3 690.0,679.3 691.5,679.5 691.5,679.1 693.0,679.2 693.0,678.2 694.5,678.3 694.5,678.0 696.0,678.0 696.0,676.8 697.5,676.7 697.5,679.3 699.0,679.2 699.0,678.9 700.5,678.8 700.5,677.6 702.0,677.6 702.0,680.5 703.5,680.6 703.5,678.1 705.0,678.3 705.0,681.0 706.5,681.1 706.5,678.9 708.0,679.0 708.0,678.7 709.5,678.7 709.5,680.0 711.0,679.9 711.0,677.9 712.5,677.7 712.5,680.8 714.0,680.6 714.0,681.1 715.5,680.8 715.5,678.2 717.0,678.0 717.0,679.0 718.5,678.9 718.5,677.0 719.2,680.0 719.2,696.0 720.0,676.9 720.0,678.8 721.5,678.8 721.5,679.7 723.0,679.7 723.0,677.6 724.5,677.5 724.5,678.6 726.0,678.6 726.0,678.5 727.5,678.4 727.5,677.7 729.0,677.6 729.0,680.1 730.5,680.0 730.5,680.9 732.0,680.7 732.0,675.3 733.5,675.1 733.5,678.4 735.0,678.3 735.0,674.7 736.5,674.7 736.5,677.4 738.0,677.4 738.0,677.7 739.5,677.7 739.5,677.1 741.0,677.0 741.0,677.6 742.5,677.5 742.5,678.2 744.0,678.1 744.0,679.1 745.5,678.9 745.5,676.8 747.0,676.6 747.0,675.6 748.5,675.4 748.5,677.0 750.0,676.8 750.0,679.0 751.5,678.9 751.5,675.1 753.0,675.0 753.0,678.0 754.5,678.0 754.5,676.6 756.0,676.6 756.0,674.4 757.5,674.4 757.5,676.0 759.0,676.1 759.0,675.0 760.5,675.0 760.5,677.1 762.0,677.1 762.0,674.3 763.5,674.3 763.5,676.6 765.0,676.6 765.0,676.3 766.5,676.4 766.5,673.2 768.0,673.3 768.0,676.1 769.5,676.1 769.5,675.5 771.0,675.5 771.0,677.9 772.5,677.9 772.5,678.0 774.0,678.1 774.0,677.7 775.5,677.7 775.5,676.7 777.0,676.8 777.0,675.3 778.5,675.5 778.5,678.3 780.0,678.4 780.0,678.8 781.5,678.9 781.5,676.9 783.0,676.8 783.0,676.9 784.5,676.8 784.5,677.9 786.0,677.7 786.0,677.6 787.5,677.3 787.5,676.2 789.0,676.0 789.0,675.6 790.5,675.5 790.5,677.3 792.0,677.2 792.0,675.9 793.5,675.8 793.5,675.1 795.0,675.0 795.0,675.7 796.5,675.6 796.5,675.1 798.0,675.1 798.0,675.9 799.5,675.9 799.5,675.0 801.0,675.0 801.0,675.5 802.5,675.6 802.5,677.0 804.0,677.1 804.0,674.8 805.5,674.8 805.5,674.9 807.0,674.9 807.0,675.9 808.5,675.8 808.5,674.3 810.0,674.2 810.0,675.0 811.5,674.9 811.5,674.8 813.0,674.8 813.0,675.4 814.5,675.4 814.5,675.4 816.0,675.5 816.0,675.0 817.5,675.0 817.5,677.2 819.0,677.3 819.0,674.1 820.5,674.2 820.5,675.1 822.0,675.3 822.0,677.3 823.5,677.6 823.5,675.3 825.0,675.6 825.0,675.9 826.5,676.1 826.5,675.1 828.0,675.4 828.0,676.9 829.5,677.0 829.5,680.2 831.0,680.2 831.0,676.5 832.5,676.6 832.5,675.7 834.0,675.7 834.0,676.6 835.5,676.7 835.5,674.9 837.0,675.0 837.0,676.0 838.5,676.2 838.5,680.3 840.0,680.6 840.0,675.7 841.5,676.0 841.5,675.9 843.0,676.2 843.0,677.7 844.5,677.9 844.5,676.9 846.0,677.1 846.0,678.2 847.5,678.4 847.5,681.2 849.0,681.4 849.0,680.2 850.5,680.3 850.5,677.7 852.0,677.8 852.0,680.4 853.5,680.5 853.5,680.4 855.0,680.4 855.0,680.7 856.5,680.8 856.5,678.0 858.0,678.1 858.0,680.1 859.5,680.1 859.5,678.8 861.0,678.9 861.0,680.0 862.5,680.1 862.5,679.8 864.0,679.8 864.0,682.7 865.5,682.7 865.5,680.3 867.0,680.3 867.0,679.2 868.5,679.2 868.5,676.5 870.0,676.6 870.0,680.2 871.5,680.3 871.5,680.6 873.0,680.7 873.0,681.1 874.5,681.3 874.5,680.2 876.0,680.3 876.0,680.4 877.5,680.5 877.5,680.1 879.0,680.1 879.0,679.9 880.5,679.9 880.5,676.6 882.0,676.6 882.0,679.3 882.8,669.0 882.8,682.0 883.5,679.2 883.5,679.6 885.0,679.6 885.0,677.9 886.5,677.9 886.5,679.8 888.0,679.9 888.0,678.7 889.5,678.8 889.5,681.7 891.0,681.9 891.0,680.7 892.5,680.9 892.5,677.0 894.0,677.2 894.0,678.0 895.5,678.1 895.5,681.7 897.0,681.8 897.0,682.4 898.5,682.4 898.5,682.0 900.0,681.9 900.0,678.5 901.5,678.4 901.5,681.9 903.0,681.7 903.0,680.3 904.5,680.3 904.5,681.9 906.0,681.9 906.0,680.7 907.5,680.7 907.5,679.9 909.0,679.9 909.0,680.3 910.5,680.3 910.5,681.5 912.0,681.5 912.0,681.1 913.5,681.2 913.5,678.7 915.0,678.9 915.0,680.5 916.5,680.7 916.5,681.7 918.0,681.8 918.0,681.4 919.5,681.4 919.5,681.1 921.0,681.0 921.0,681.1 922.5,681.0 922.5,679.1 924.0,678.9 924.0,679.1 925.5,678.9 925.5,680.5 927.0,680.3 927.0,680.3 928.5,680.2 928.5,680.7 930.0,680.7 930.0,679.3 931.5,679.3 931.5,679.4 933.0,679.5 933.0,679.3 934.5,679.4 934.5,680.5 936.0,680.6 936.0,680.8 937.5,680.9 937.5,681.8 939.0,681.9 939.0,681.9 940.5,682.0 940.5,681.9 942.0,682.0 942.0,682.0 943.5,682.1 943.5,684.7 945.0,684.7 945.0,684.5 946.5,684.5 946.5,681.1 948.0,681.2 948.0,677.7 949.5,677.8 949.5,680.8 951.0,680.9 951.0,681.6 952.5,681.7 952.5,681.6 954.0,681.6 954.0,679.9 955.5,679.9 955.5,682.7 957.0,682.7 957.0,679.3 958.5,679.2 958.5,681.3 960.0,681.1 960.0,680.9 961.5,680.7 961.5,682.7 963.0,682.5 963.0,681.4 964.5,681.4 964.5,679.1 966.0,679.1 966.0,678.8 967.5,678.8 967.5,679.6 969.0,679.6 969.0,681.7 970.5,681.7 970.5,680.2 972.0,680.2 972.0,681.4 973.5,681.4 973.5,681.3 975.0,681.4 975.0,680.6 976.5,680.7 976.5,682.4 978.0,682.4 978.0,679.4 979.5,679.4 979.5,681.2 981.0,681.2 981.0,682.1 982.5,682.0 982.5,681.0 984.0,680.9 984.0,681.0 985.5,680.9 985.5,679.8 987.0,679.7 987.0,679.3 988.5,679.4 988.5,680.8 990.0,680.9 990.0,681.0 991.5,681.1 991.5,680.0 993.0,680.2 993.0,680.4 994.5,680.6 994.5,681.0 996.0,681.1 996.0,681.9 997.5,682.0 997.5,683.4 999.0,683.4 999.0,682.1 1000.5,682.1 1000.5,681.6 1002.0,681.6 1002.0,684.3 1003.5,684.3 1003.5,679.4 1005.0,679.5 1005.0,682.3 1006.5,682.3 1006.5,681.3 1008.0,681.3 1008.0,682.1 1009.5,682.1 1009.5,684.1 1011.0,684.1 1011.0,680.2 1012.5,680.2 1012.5,680.4 1014.0,680.4 1014.0,681.9 1015.5,681.9 1015.5,683.5 1017.0,683.5 1017.0,681.5 1018.5,681.5 1018.5,681.9 1020.0,681.9 1020.0,681.9 1021.5,681.9 1021.5,680.4 1023.0,680.5 1023.0,682.0 1024.5,682.1 1024.5,681.3 1026.0,681.4 1026.0,681.8 1027.5,682.0 1027.5,682.3 1029.0,682.4 1029.0,680.0 1030.5,680.0 1030.5,681.8 1032.0,681.7 1032.0,681.5 1033.5,681.4 1033.5,681.5 1035.0,681.4 1035.0,681.0 1036.5,681.1 1036.5,682.4 1038.0,682.5 1038.0,684.4 1039.5,684.6 1039.5,681.9 1041.0,682.0 1041.0,684.0 1042.5,684.1 1042.5,681.9 1044.0,681.9 1044.0,682.5 1045.5,682.3 1045.5,683.4 1047.0,683.2 1047.0,681.1 1048.5,680.9 1048.5,681.5 1050.0,681.3 1050.0,680.1 1051.5,679.9 1051.5,684.8 1053.0,684.6 1053.0,679.1 1054.5,678.8 1054.5,681.1 1056.0,680.7 1056.0,680.2 1057.5,679.8 1057.5,680.4 1059.0,680.1 1059.0,678.4 1060.5,678.2 1060.5,679.8 1062.0,679.7 1062.0,680.1 1063.5,680.1 1063.5,678.6 1065.0,678.6 1065.0,678.5 1066.5,678.5 1066.5,680.4 1068.0,680.3 1068.0,680.1 1069.5,680.0 1069.5,679.8 1071.0,679.6 1071.0,680.3 1072.5,680.1 1072.5,679.0 1074.0,678.8 1074.0,678.1 1075.5,678.0 1075.5,677.9 1077.0,677.8 1077.0,679.5 1078.5,679.5 1078.5,677.1 1080.0,677.1 1080.0,678.3 1081.5,678.2 1081.5,676.5 1083.0,676.4 1083.0,677.8 1084.5,677.6 1084.5,679.8 1086.0,679.6 1086.0,678.6 1087.5,678.4 1087.5,677.3 1089.0,677.2 1089.0,674.6 1090.5,674.6 1090.5,676.0 1092.0,676.1 1092.0,676.2 1093.5,676.2 1093.5,677.7 1095.0,677.8 1095.0,675.6 1096.5,675.5 1096.5,678.5 1098.0,678.3 1098.0,674.7 1099.5,674.5 1099.5,680.1 1101.0,679.9 1101.0,677.5 1102.5,677.4 1102.5,678.8 1104.0,678.7 1104.0,678.2 1105.5,678.1 1105.5,676.2 1107.0,676.2 1107.0,676.1 1108.5,676.0 1108.5,675.8 1110.0,675.7 1110.0,675.6 1111.5,675.5 1111.5,679.5 1113.0,679.3 1113.0,676.7 1114.5,676.5 1114.5,677.1 1116.0,677.0 1116.0,675.1 1117.5,675.1 1117.5,675.7 1119.0,675.9 1119.0,675.8 1120.5,676.1 1120.5,674.0 1122.0,674.3 1122.0,673.5 1123.5,673.8 1123.5,676.5 1125.0,676.8 1125.0,676.5 1126.5,676.6 1126.5,675.8 1128.0,675.9 1128.0,679.3 1129.5,679.2 1129.5,681.2 1131.0,681.1 1131.0,675.7 1132.5,675.6 1132.5,679.0 1134.0,678.9 1134.0,678.1 1135.5,678.0 1135.5,674.6 1137.0,674.6 1137.0,673.9 1138.5,673.9 1138.5,677.2 1140.0,677.2 1140.0,675.8 1141.5,675.8 1141.5,677.7 1143.0,677.6 1143.0,678.6 1144.5,678.5 1144.5,677.8 1146.0,677.7 1146.0,680.7 1147.5,680.6 1147.5,678.2 1149.0,678.1 1149.0,678.4 1150.5,678.5 1150.5,678.0 1152.0,678.0 1152.0,677.5 1153.5,677.5 1153.5,677.2 1155.0,677.1 1155.0,677.5 1156.5,677.4 1156.5,675.7 1158.0,675.6 1158.0,679.3 1159.5,679.3 1159.5,675.8 1161.0,675.9 1161.0,679.2 1162.5,679.4 1162.5,678.1 1164.0,678.5 1164.0,680.1 1165.5,680.6 1165.5,676.6 1167.0,677.2 1167.0,677.3 1168.5,678.0 1168.5,681.3 1170.0,682.0 1170.0,680.5 1171.5,681.2 1171.5,679.5 1173.0,680.0 1173.0,679.7 1174.5,680.2 1174.5,680.6 1176.0,681.1 1176.0,680.5 1177.5,681.0 1177.5,683.9 1179.0,684.3 1179.0,685.4 1180.5,685.8 1180.5,684.4 1182.0,684.8 1182.0,685.2 1183.5,685.4 1183.5,685.1 1185.0,685.1 1185.0,683.2 1186.5,683.2 1186.5,684.4 1188.0,684.2 1188.0,684.7 1189.5,684.4 1189.5,685.0 1191.0,684.7 1191.0,682.9 1192.5,682.7 1192.5,684.2 1194.0,684.0 1194.0,685.6 1195.5,685.5 1195.5,686.0 1197.0,685.9 1197.0,685.5 1198.5,685.4 1198.5,681.3 1200.0,681.2 1200.0,682.3 1201.5,682.1 1201.5,683.6 1203.0,683.4 1203.0,681.4 1204.5,681.2 1204.5,681.6 1206.0,681.5 1206.0,684.0 1207.5,683.9 1207.5,679.9 1209.0,679.9 1209.0,683.9 1210.5,683.8 1210.5,681.9 1212.0,681.9 1212.0,681.4 1213.5,681.4 1213.5,681.4 1215.0,681.4 1215.0,680.8 1216.5,680.8 1216.5,683.9 1218.0,683.9 1218.0,682.9 1219.5,683.0 1219.5,681.8 1221.0,681.9 1221.0,684.8 1222.5,685.0 1222.5,682.7 1224.0,682.8 1224.0,682.0 1225.5,682.1 1225.5,681.6 1227.0,681.7 1227.0,684.0 1228.5,684.1 1228.5,681.7 1230.0,681.8 1230.0,682.0 1231.5,682.1 1231.5,681.2 1233.0,681.2 1233.0,682.5 1234.5,682.5 1234.5,680.4 1236.0,680.3 1236.0,681.4 1237.5,681.3 1237.5,682.8 1239.0,682.7 1239.0,683.1 1240.5,683.0 1240.5,685.3 1242.0,685.1 1242.0,681.7 1243.5,681.4 1243.5,680.9 1245.0,680.4 1245.0,680.3 1246.5,679.7" fill="none" stroke="#0000ff" stroke-width="3.9" stroke-linejoin="round" stroke-linecap="butt"/><polyline points="123.0,683.1 124.5,683.4 124.5,682.5 126.0,682.7 126.0,681.3 127.5,681.4 127.5,680.3 129.0,680.3 129.0,682.3 130.5,682.3 130.5,684.9 132.0,684.9 132.0,681.3 133.5,681.3 133.5,682.1 135.0,682.2 135.0,683.0 136.5,683.1 136.5,684.1 138.0,684.2 138.0,681.7 139.5,681.9 139.5,683.2 141.0,683.3 141.0,684.0 142.5,684.1 142.5,681.9 144.0,682.0 144.0,684.0 145.5,684.1 145.5,682.3 147.0,682.2 147.0,683.7 148.5,683.6 148.5,684.2 150.0,684.1 150.0,683.4 151.5,683.2 151.5,681.6 153.0,681.5 153.0,683.9 154.5,683.9 154.5,684.8 156.0,684.9 156.0,683.3 157.5,683.5 157.5,684.4 159.0,684.6 159.0,682.5 160.5,682.8 160.5,682.8 162.0,683.0 162.0,683.9 163.5,684.1 163.5,684.9 165.0,685.1 165.0,685.6 166.5,685.7 166.5,683.7 168.0,683.8 168.0,685.0 169.5,685.0 169.5,684.9 171.0,684.8 171.0,684.0 172.5,683.8 172.5,681.9 174.0,681.7 174.0,682.1 175.5,681.9 175.5,685.2 177.0,685.1 177.0,682.0 178.5,681.9 178.5,680.3 180.0,680.3 180.0,682.0 181.5,682.0 181.5,683.4 183.0,683.5 183.0,685.6 184.5,685.7 184.5,684.5 186.0,684.6 186.0,683.6 187.5,683.6 187.5,683.8 189.0,683.9 189.0,684.8 190.5,684.8 190.5,684.3 192.0,684.2 192.0,681.9 193.5,681.8 193.5,685.5 195.0,685.5 195.0,685.1 196.5,685.1 196.5,682.6 198.0,682.6 198.0,683.6 199.5,683.7 199.5,684.6 201.0,684.7 201.0,684.5 202.5,684.6 202.5,683.8 204.0,683.9 204.0,684.4 205.5,684.4 205.5,686.6 207.0,686.5 207.0,683.9 208.5,683.8 208.5,685.4 210.0,685.4 210.0,684.4 211.5,684.5 211.5,682.7 213.0,682.8 213.0,685.1 214.5,685.3 214.5,684.9 216.0,685.0 216.0,686.1 217.5,686.1 217.5,686.7 219.0,686.6 219.0,687.2 220.5,687.1 220.5,684.9 222.0,684.7 222.0,685.0 223.5,684.8 223.5,685.2 225.0,685.1 225.0,683.0 226.5,682.9 226.5,682.7 228.0,682.6 228.0,684.9 229.5,684.9 229.5,682.5 231.0,682.4 231.0,683.2 232.5,683.1 232.5,686.0 234.0,685.8 234.0,684.7 235.5,684.4 235.5,684.8 237.0,684.5 237.0,682.9 238.5,682.7 238.5,684.2 240.0,684.0 240.0,681.5 241.5,681.4 241.5,681.4 243.0,681.4 243.0,682.2 244.5,682.3 244.5,680.9 246.0,681.0 246.0,684.3 247.5,684.4 247.5,682.6 249.0,682.7 249.0,681.4 250.5,681.5 250.5,685.1 252.0,685.2 252.0,683.9 253.5,683.8 253.5,685.7 255.0,685.5 255.0,681.2 256.5,680.8 256.5,680.3 258.0,679.9 258.0,679.1 259.5,678.7 259.5,682.0 261.0,681.6 261.0,681.1 262.5,680.7 262.5,680.1 264.0,679.9 264.0,682.3 265.5,682.1 265.5,679.5 267.0,679.4 267.0,679.7 268.5,679.8 268.5,678.3 270.0,678.4 270.0,679.2 271.5,679.5 271.5,680.7 273.0,680.9 273.0,680.7 274.5,680.9 274.5,680.7 276.0,680.8 276.0,678.5 277.5,678.6 277.5,679.6 279.0,679.6 279.0,679.8 280.5,679.7 280.5,681.2 282.0,681.1 282.0,680.1 283.5,679.9 283.5,680.5 285.0,680.2 285.0,680.3 286.5,680.0 286.5,679.3 288.0,679.0 288.0,676.7 289.5,676.5 289.5,679.4 291.0,679.3 291.0,681.8 292.5,681.9 292.5,680.5 294.0,680.7 294.0,680.0 295.5,680.4 295.5,679.6 297.0,680.0 297.0,680.1 298.5,680.4 298.5,682.5 300.0,682.7 300.0,679.9 301.5,679.9 301.5,683.6 303.0,683.5 303.0,681.3 304.5,681.2 304.5,681.5 306.0,681.3 306.0,680.1 307.5,680.0 307.5,682.1 309.0,682.1 309.0,682.1 310.5,682.2 310.5,680.1 312.0,680.2 312.0,683.5 313.5,683.6 313.5,681.5 315.0,681.6 315.0,679.5 316.5,679.4 316.5,681.9 318.0,681.8 318.0,681.5 319.5,681.3 319.5,681.1 321.0,680.8 321.0,682.7 322.5,682.4 322.5,681.6 324.0,681.4 324.0,678.5 325.5,678.4 325.5,679.6 327.0,679.6 327.0,679.6 328.5,679.7 328.5,679.9 330.0,680.0 330.0,677.7 331.5,677.8 331.5,680.4 333.0,680.5 333.0,680.3 334.5,680.4 334.5,683.8 336.0,683.9 336.0,679.4 337.5,679.5 337.5,679.9 339.0,679.9 339.0,681.7 340.5,681.7 340.5,680.6 342.0,680.7 342.0,681.8 343.5,681.9 343.5,682.4 345.0,682.5 345.0,679.8 346.5,680.0 346.5,681.2 348.0,681.4 348.0,682.0 349.5,682.1 349.5,680.3 351.0,680.4 351.0,684.2 352.5,684.2 352.5,681.8 354.0,681.8 354.0,681.7 355.5,681.7 355.5,677.9 357.0,678.0 357.0,680.7 358.5,680.7 358.5,679.0 360.0,679.0 360.0,683.2 361.5,683.0 361.5,680.4 363.0,680.3 363.0,681.4 364.5,681.4 364.5,681.8 366.0,681.9 366.0,681.6 367.5,681.8 367.5,681.0 369.0,681.1 369.0,682.5 370.5,682.5 370.5,680.1 372.0,680.0 372.0,679.0 373.5,678.9 373.5,679.4 375.0,679.3 375.0,682.1 376.5,682.1 376.5,683.0 378.0,683.0 378.0,680.4 379.5,680.4 379.5,680.6 381.0,680.6 381.0,681.8 382.5,681.7 382.5,679.5 384.0,679.5 384.0,680.5 385.5,680.5 385.5,677.7 387.0,677.7 387.0,681.2 388.5,681.2 388.5,677.7 390.0,677.2 390.0,677.2 391.5,675.9 391.5,677.1 393.0,675.4 393.0,677.5 394.5,675.8 394.5,676.5 396.0,674.8 396.0,674.1 397.5,672.6 397.5,675.2 399.0,674.1 399.0,671.5 400.5,670.7 400.5,668.3 402.0,667.6 402.0,669.4 403.5,668.7 403.5,670.2 405.0,669.6 405.0,669.3 406.5,668.7 406.5,670.9 408.0,670.3 408.0,667.8 409.5,667.2 409.5,665.8 411.0,664.9 411.0,664.7 412.5,663.6 412.5,666.1 414.0,664.9 414.0,660.4 415.5,659.1 415.5,663.1 417.0,661.7 417.0,662.3 418.5,660.8 418.5,659.2 420.0,657.9 420.0,658.8 421.5,658.2 421.5,659.6 423.0,659.8 423.0,660.1 424.5,660.7 424.5,660.5 426.0,661.2 426.0,661.8 427.5,662.5 427.5,660.0 429.0,660.7 429.0,659.4 430.5,660.0 430.5,658.8 432.0,659.4 432.0,664.4 433.5,664.8 433.5,663.8 435.0,664.1 435.0,661.1 436.5,661.4 436.5,664.4 438.0,664.7 438.0,662.7 439.5,662.9 439.5,662.8 441.0,663.0 441.0,662.1 442.5,662.2 442.5,666.4 444.0,666.4 444.0,660.3 445.5,660.2 445.5,662.1 447.0,662.0 447.0,664.3 448.5,664.1 448.5,664.3 450.0,664.2 450.0,663.8 451.5,663.6 451.5,661.6 453.0,661.6 453.0,662.6 454.5,662.6 454.5,661.7 456.0,661.7 456.0,662.2 457.5,662.4 457.5,665.4 459.0,665.9 459.0,663.9 460.5,664.6 460.5,666.1 462.0,669.2 462.0,666.6 463.5,679.5 463.5,680.3 465.0,705.0 465.0,705.1 466.5,733.5 466.5,733.6 468.0,761.6 468.0,761.4 469.5,788.6 469.5,788.8 471.0,815.2 471.0,815.4 472.5,840.9 472.5,840.4 474.0,865.0 474.0,865.2 475.5,888.9 475.5,889.0 477.0,911.6 477.0,911.4 478.5,933.0 478.5,933.2 480.0,953.6 480.0,953.4 481.5,972.5 481.5,972.5 483.0,990.1 483.0,989.8 484.5,1005.7 484.5,1006.2 486.0,1020.0 486.0,1019.7 487.5,1030.4 487.5,1030.5 489.0,1035.1 489.0,1035.0 489.0,1035.0 490.5,1030.7 490.5,1030.6 492.0,1019.9 492.0,1020.1 493.5,1006.1 493.5,1005.9 495.0,989.7 495.0,989.9 496.5,971.9 496.5,972.1 498.0,952.7 498.0,952.7 499.5,931.9 499.5,931.7 501.0,909.7 501.0,909.9 502.5,886.7 502.5,886.5 504.0,862.1 504.0,862.1 505.5,836.6 505.5,836.7 507.0,810.3 507.0,810.3 508.5,783.0 508.5,782.8 510.0,754.8 510.0,755.0 511.5,726.5 511.5,726.4 513.0,699.6 513.0,700.8 514.5,683.9 514.5,680.9 516.0,676.2 516.0,677.7 517.5,676.4 517.5,676.3 519.0,674.0 519.0,672.2 520.5,669.4 520.5,669.8 522.0,666.9 522.0,671.6 523.5,668.6 523.5,666.3 525.0,663.5 525.0,659.4 526.5,657.6 526.5,660.4 528.0,659.8 528.0,660.0 529.5,659.8 529.5,660.7 531.0,660.6 531.0,658.9 532.5,658.8 532.5,662.0 534.0,662.0 534.0,660.1 535.5,660.2 535.5,662.1 537.0,662.4 537.0,661.3 538.5,661.7 538.5,660.7 540.0,661.2 540.0,661.1 541.5,661.5 541.5,662.5 543.0,662.9 543.0,662.6 544.5,662.8 544.5,663.0 546.0,663.1 546.0,663.8 547.5,664.1 547.5,664.7 549.0,665.6 549.0,662.7 549.8,652.0 549.8,680.0 550.5,663.9 550.5,663.1 552.0,664.5 552.0,665.4 553.5,666.9 553.5,669.7 555.0,671.7 555.0,669.9 556.5,672.8 556.5,672.2 558.0,675.6 558.0,676.9 559.5,680.5 559.5,681.0 561.0,684.5 561.0,682.1 562.5,684.6 562.5,684.7 564.0,684.6 564.0,685.8 565.5,683.6 565.5,683.5 567.0,680.8 567.0,679.9 568.5,677.2 568.5,681.1 570.0,678.7 570.0,677.4 571.5,675.8 571.5,673.9 573.0,672.8 573.0,673.9 574.5,673.4 574.5,669.5 576.0,670.5 576.0,674.6 577.5,676.7 577.5,675.2 579.0,677.5 579.0,676.8 580.5,679.1 580.5,676.6 582.0,678.7 582.0,683.2 583.5,684.3 583.5,683.4 585.0,683.4 585.0,682.5 586.5,682.1 586.5,684.2 588.0,683.7 588.0,682.1 589.5,681.0 589.5,681.6 591.0,679.1 591.0,678.2 592.5,674.5 592.5,676.1 594.0,672.4 594.0,669.9 595.5,667.1 595.5,667.6 597.0,665.9 597.0,667.0 598.5,665.8 598.5,664.7 600.0,663.5 600.0,663.8 601.5,662.6 601.5,664.2 603.0,662.9 603.0,660.8 604.5,659.4 604.5,662.0 606.0,660.6 606.0,659.8 607.5,658.5 607.5,658.0 609.0,656.8 609.0,654.8 610.5,653.8 610.5,657.7 612.0,656.7 612.0,658.3 613.5,657.5 613.5,654.3 615.0,654.0 615.0,653.8 616.5,654.4 616.5,654.3 618.0,655.4 618.0,654.7 619.5,655.8 619.5,656.0 621.0,656.9 621.0,658.3 622.5,659.2 622.5,656.3 624.0,657.3 624.0,659.1 625.5,660.5 625.5,661.1 627.0,663.0 627.0,660.2 628.5,662.2 628.5,663.6 630.0,665.7 630.0,664.5 631.5,666.0 631.5,666.1 633.0,666.0 633.0,668.5 634.5,667.1 634.5,664.8 636.0,663.1 636.0,668.0 637.5,666.6 637.5,662.9 639.0,662.3 639.0,661.4 640.5,661.4 640.5,662.1 642.0,662.3 642.0,662.6 643.5,662.8 643.5,663.2 645.0,663.4 645.0,663.4 646.5,663.5 646.5,663.5 648.0,663.5 648.0,664.5 649.5,664.5 649.5,664.6 651.0,664.6 651.0,663.1 652.5,663.0 652.5,663.4 654.0,663.3 654.0,661.9 655.5,661.8 655.5,662.0 657.0,661.9 657.0,662.2 658.5,662.1 658.5,664.4 660.0,664.2 660.0,661.6 661.5,661.3 661.5,662.4 663.0,662.0 663.0,661.9 664.5,661.5 664.5,662.4 666.0,662.0 666.0,660.2 667.5,659.8 667.5,659.6 669.0,659.2 669.0,661.5 670.5,660.9 670.5,660.2 672.0,659.3 672.0,658.0 673.5,657.2 673.5,659.4 675.0,658.7 675.0,657.3 676.5,656.7 676.5,655.9 678.0,655.5 678.0,657.3 679.5,657.2 679.5,658.4 681.0,658.4 681.0,655.1 682.5,655.1 682.5,654.8 684.0,654.6 684.0,652.9 685.5,652.7 685.5,659.3 687.0,659.2 687.0,655.0 687.8,645.0 687.8,656.0 688.5,655.3 688.5,655.6 690.0,656.5 690.0,655.6 691.5,656.7 691.5,657.7 693.0,658.8 693.0,657.6 694.5,658.7 694.5,662.0 696.0,663.0 696.0,661.9 697.5,663.0 697.5,660.8 699.0,662.1 699.0,661.8 700.5,664.0 700.5,667.0 702.0,670.2 702.0,667.6 703.5,671.0 703.5,673.7 705.0,676.4 705.0,675.1 706.5,676.4 706.5,676.0 708.0,676.4 708.0,673.6 709.5,673.9 709.5,677.5 711.0,677.8 711.0,675.4 712.5,675.8 712.5,679.0 714.0,679.3 714.0,675.3 715.5,675.1 715.5,677.1 717.0,675.2 717.0,678.7 718.5,675.3 718.5,671.6 720.0,667.8 720.0,669.4 721.5,665.5 721.5,665.9 723.0,661.8 723.0,660.9 724.5,657.5 724.5,656.8 726.0,656.0 726.0,658.7 727.5,660.0 727.5,658.8 729.0,660.0 729.0,657.9 730.5,657.0 730.5,661.2 732.0,659.9 732.0,658.2 733.5,661.0 733.5,658.0 735.0,663.4 735.0,665.4 736.5,670.0 736.5,670.0 738.0,671.1 738.0,670.6 739.5,668.8 739.5,667.8 741.0,665.3 741.0,663.2 742.5,660.7 742.5,664.2 744.0,661.8 744.0,659.0 745.5,657.0 745.5,658.3 747.0,657.4 747.0,655.6 748.5,655.6 748.5,656.5 750.0,656.8 750.0,658.6 751.5,659.0 751.5,656.9 753.0,657.3 753.0,660.2 754.5,660.6 754.5,660.8 756.0,661.2 756.0,660.5 757.5,660.9 757.5,661.2 759.0,661.9 759.0,662.9 760.5,665.1 760.5,664.2 762.0,668.2 762.0,665.1 763.5,669.8 763.5,671.7 765.0,676.5 765.0,675.7 766.5,680.0 766.5,681.1 768.0,684.4 768.0,680.7 769.5,683.1 769.5,686.9 771.0,689.1 771.0,688.4 772.5,690.6 772.5,691.8 774.0,694.2 774.0,692.2 775.5,694.6 775.5,695.5 777.0,697.6 777.0,695.2 778.5,695.8 778.5,698.3 780.0,697.0 780.0,697.2 781.5,695.1 781.5,693.5 783.0,691.4 783.0,693.1 784.5,691.6 784.5,689.8 786.0,688.8 786.0,691.2 787.5,690.5 787.5,688.8 789.0,688.1 789.0,688.6 790.5,687.9 790.5,690.6 792.0,689.9 792.0,689.3 793.5,688.7 793.5,689.2 795.0,688.6 795.0,688.0 796.5,687.4 796.5,686.0 798.0,685.4 798.0,687.6 799.5,687.1 799.5,685.4 801.0,685.0 801.0,684.7 802.5,684.4 802.5,683.9 804.0,683.7 804.0,682.7 805.5,682.5 805.5,685.4 807.0,685.2 807.0,683.5 808.5,683.1 808.5,684.0 810.0,683.5 810.0,682.8 811.5,682.3 811.5,683.2 813.0,682.7 813.0,681.1 814.5,680.7 814.5,681.8 816.0,681.6 816.0,682.6 817.5,682.4 817.5,682.8 819.0,682.7 819.0,681.0 820.5,680.8 820.5,679.6 822.0,679.3 822.0,682.4 823.5,682.0 823.5,681.7 825.0,681.2 825.0,678.8 826.5,678.3 826.5,680.8 828.0,680.4 828.0,679.4 829.5,679.0 829.5,677.2 831.0,676.8 831.0,678.2 832.5,677.8 832.5,676.1 834.0,675.8 834.0,676.9 835.5,676.8 835.5,676.7 837.0,676.8 837.0,677.2 838.5,677.3 838.5,680.3 840.0,680.4 840.0,675.6 841.5,675.7 841.5,673.8 843.0,673.8 843.0,678.5 844.5,678.7 844.5,677.5 846.0,678.0 846.0,680.9 847.5,681.8 847.5,681.5 849.0,682.5 849.0,682.3 850.5,683.2 850.5,677.3 852.0,678.1 852.0,683.9 853.5,684.5 853.5,682.6 855.0,683.2 855.0,682.5 856.5,683.0 856.5,685.6 858.0,685.9 858.0,685.5 859.5,685.8 859.5,682.5 861.0,682.8 861.0,683.7 862.5,684.1 862.5,686.7 864.0,687.1 864.0,683.4 865.5,683.7 865.5,686.0 867.0,685.9 867.0,686.1 868.5,684.2 868.5,683.3 870.0,679.4 870.0,678.9 870.8,666.0 870.8,680.0 871.5,674.2 871.5,675.9 873.0,671.1 873.0,669.8 874.5,665.1 874.5,664.2 876.0,660.4 876.0,662.4 877.5,660.2 877.5,657.4 879.0,656.1 879.0,657.4 880.5,656.3 880.5,658.2 882.0,657.1 882.0,652.6 883.5,651.9 883.5,657.0 885.0,657.7 885.0,656.2 886.5,657.9 886.5,657.4 888.0,659.2 888.0,658.0 889.5,659.8 889.5,661.3 891.0,662.9 891.0,662.2 892.5,663.4 892.5,664.3 894.0,665.2 894.0,664.0 895.5,664.2 895.5,665.9 897.0,664.1 897.0,661.3 898.5,657.9 898.5,657.8 900.0,654.8 900.0,655.7 901.5,654.1 901.5,652.5 903.0,651.6 903.0,653.8 904.5,653.2 904.5,653.8 906.0,654.3 906.0,651.8 907.5,654.3 907.5,656.2 909.0,659.8 909.0,659.1 910.5,662.7 910.5,662.6 912.0,665.4 912.0,667.9 913.5,669.1 913.5,667.0 915.0,667.4 915.0,667.8 916.5,668.0 916.5,667.3 918.0,667.5 918.0,667.6 919.5,667.8 919.5,668.3 921.0,668.7 921.0,668.9 922.5,669.6 922.5,669.2 924.0,670.7 924.0,672.4 925.5,674.4 925.5,672.8 927.0,674.9 927.0,675.1 928.5,676.6 928.5,678.9 930.0,678.7 930.0,676.8 931.5,675.2 931.5,676.0 933.0,674.0 933.0,673.8 934.5,671.8 934.5,670.5 936.0,668.7 936.0,670.9 937.5,669.6 937.5,668.2 939.0,667.2 939.0,667.0 940.5,666.0 940.5,666.0 942.0,665.0 942.0,665.4 943.5,664.4 943.5,665.0 945.0,663.9 945.0,659.3 946.5,657.6 946.5,663.0 948.0,660.6 948.0,656.3 949.5,653.7 949.5,654.8 951.0,652.8 951.0,655.2 952.5,654.2 952.5,653.2 954.0,652.8 954.0,653.9 955.5,653.5 955.5,649.8 957.0,649.4 957.0,652.3 958.5,651.8 958.5,652.5 960.0,652.1 960.0,649.4 961.5,649.3 961.5,650.4 963.0,650.7 963.0,652.1 964.5,652.6 964.5,652.9 966.0,653.6 966.0,649.7 967.5,650.5 967.5,653.3 969.0,654.1 969.0,654.9 970.5,655.7 970.5,657.2 972.0,658.0 972.0,654.7 973.5,655.4 973.5,657.0 975.0,657.7 975.0,656.2 976.5,657.0 976.5,657.2 978.0,658.2 978.0,658.7 979.5,659.8 979.5,662.7 981.0,663.9 981.0,662.5 982.5,663.6 982.5,664.2 984.0,665.3 984.0,663.8 985.5,665.0 985.5,666.6 987.0,667.8 987.0,666.4 988.5,667.6 988.5,668.5 990.0,669.9 990.0,667.0 991.5,668.4 991.5,669.2 993.0,670.6 993.0,672.6 994.5,674.1 994.5,676.0 996.0,677.4 996.0,677.1 997.5,678.4 997.5,674.6 999.0,675.6 999.0,676.7 1000.5,677.7 1000.5,677.6 1002.0,678.6 1002.0,682.2 1003.5,683.2 1003.5,678.2 1005.0,679.0 1005.0,681.0 1006.5,681.7 1006.5,683.0 1008.0,683.5 1008.0,682.8 1009.5,683.0 1009.5,679.1 1011.0,679.2 1011.0,684.8 1012.5,684.8 1012.5,679.5 1014.0,679.6 1014.0,682.7 1015.5,682.9 1015.5,682.1 1017.0,682.5 1017.0,681.1 1018.5,681.7 1018.5,683.0 1020.0,683.3 1020.0,683.3 1021.5,682.5 1021.5,681.5 1023.0,679.3 1023.0,680.2 1024.5,677.5 1024.5,677.9 1026.0,675.2 1026.0,675.6 1027.5,673.3 1027.5,670.3 1029.0,668.5 1029.0,670.0 1030.5,668.5 1030.5,669.9 1032.0,668.4 1032.0,669.7 1033.5,668.3 1033.5,668.4 1035.0,667.5 1035.0,663.7 1036.5,663.5 1036.5,665.0 1038.0,665.1 1038.0,666.2 1039.5,666.0 1039.5,666.7 1041.0,666.1 1041.0,667.4 1042.5,667.5 1042.5,664.9 1043.2,664.0 1043.2,691.0 1044.0,668.2 1044.0,667.0 1045.5,672.9 1045.5,674.6 1047.0,679.7 1047.0,679.9 1048.5,682.3 1048.5,681.1 1050.0,682.0 1050.0,681.6 1051.5,682.3 1051.5,684.3 1053.0,684.8 1053.0,682.3 1054.5,682.9 1054.5,683.9 1056.0,684.4 1056.0,685.6 1057.5,686.0 1057.5,685.9 1059.0,686.2 1059.0,686.0 1060.5,686.0 1060.5,684.7 1062.0,684.2 1062.0,681.9 1063.5,681.4 1063.5,683.8 1065.0,683.5 1065.0,685.5 1066.5,685.3 1066.5,685.6 1068.0,685.4 1068.0,686.3 1069.5,685.6 1069.5,684.3 1071.0,682.2 1071.0,683.4 1072.5,680.1 1072.5,678.1 1074.0,674.6 1074.0,675.3 1075.5,672.5 1075.5,674.7 1077.0,672.8 1077.0,669.1 1078.5,667.6 1078.5,667.8 1080.0,666.4 1080.0,668.7 1081.5,667.3 1081.5,666.9 1083.0,665.7 1083.0,662.4 1084.5,661.4 1084.5,665.3 1086.0,664.6 1086.0,661.9 1087.5,661.3 1087.5,660.6 1089.0,660.1 1089.0,663.1 1090.5,662.6 1090.5,661.9 1092.0,661.4 1092.0,661.5 1093.5,661.0 1093.5,663.8 1095.0,663.1 1095.0,660.9 1096.5,659.9 1096.5,655.3 1098.0,654.1 1098.0,657.8 1099.5,656.6 1099.5,657.1 1101.0,655.8 1101.0,654.9 1102.5,653.6 1102.5,653.2 1104.0,652.2 1104.0,653.3 1105.5,654.1 1105.5,653.7 1107.0,656.8 1107.0,656.4 1108.5,660.1 1108.5,660.0 1110.0,662.8 1110.0,661.5 1111.5,662.4 1111.5,663.9 1113.0,663.8 1113.0,662.7 1114.5,662.5 1114.5,664.5 1116.0,664.3 1116.0,662.6 1117.5,662.4 1117.5,662.6 1119.0,662.3 1119.0,661.1 1120.5,660.4 1120.5,661.7 1122.0,660.3 1122.0,661.3 1123.5,659.7 1123.5,657.5 1125.0,656.0 1125.0,659.1 1126.5,658.2 1126.5,656.8 1128.0,656.1 1128.0,655.7 1129.5,655.1 1129.5,656.3 1131.0,655.8 1131.0,655.2 1132.5,654.7 1132.5,650.8 1134.0,650.4 1134.0,655.2 1135.5,654.9 1135.5,655.0 1137.0,654.8 1137.0,653.1 1138.5,652.9 1138.5,649.6 1140.0,649.4 1140.0,649.4 1141.5,649.3 1141.5,650.4 1143.0,650.5 1143.0,653.9 1144.5,654.1 1144.5,654.3 1146.0,654.5 1146.0,653.4 1147.5,653.7 1147.5,653.4 1149.0,653.9 1149.0,651.0 1150.5,652.5 1150.5,655.4 1152.0,657.9 1152.0,656.7 1153.5,659.5 1153.5,660.5 1155.0,662.6 1155.0,661.5 1156.5,662.3 1156.5,664.7 1158.0,664.8 1158.0,663.4 1159.5,663.4 1159.5,664.3 1161.0,664.4 1161.0,663.7 1162.5,663.8 1162.5,663.0 1164.0,663.1 1164.0,662.0 1165.5,662.1 1165.5,662.4 1167.0,662.5 1167.0,662.9 1168.5,663.0 1168.5,664.3 1170.0,664.4 1170.0,666.9 1171.5,667.0 1171.5,664.9 1173.0,664.9 1173.0,664.3 1174.5,664.3 1174.5,665.6 1176.0,665.7 1176.0,663.1 1176.8,654.0 1176.8,665.0 1177.5,663.2 1177.5,665.1 1179.0,665.4 1179.0,665.4 1180.5,665.8 1180.5,662.5 1182.0,663.1 1182.0,666.4 1183.5,667.0 1183.5,665.8 1185.0,666.4 1185.0,667.1 1186.5,667.6 1186.5,667.4 1188.0,667.9 1188.0,668.5 1189.5,668.9 1189.5,667.7 1191.0,668.3 1191.0,670.4 1192.5,671.1 1192.5,671.2 1194.0,671.9 1194.0,669.3 1195.5,670.0 1195.5,671.6 1197.0,672.2 1197.0,671.6 1198.5,671.8 1198.5,673.8 1200.0,673.3 1200.0,670.6 1201.5,670.0 1201.5,671.2 1203.0,670.6 1203.0,670.1 1204.5,670.1 1204.5,668.4 1206.0,669.1 1206.0,673.6 1206.8,668.0 1206.8,693.0 1207.5,674.5 1207.5,672.2 1209.0,673.2 1209.0,671.2 1210.5,672.1 1210.5,674.8 1212.0,675.8 1212.0,677.1 1213.5,678.1 1213.5,673.7 1215.0,674.6 1215.0,676.3 1216.5,677.0 1216.5,676.9 1218.0,677.5 1218.0,677.6 1219.5,678.1 1219.5,678.3 1221.0,678.7 1221.0,677.7 1222.5,677.8 1222.5,676.6 1224.0,676.6 1224.0,679.0 1225.5,678.9 1225.5,677.2 1227.0,677.2 1227.0,677.3 1228.5,677.4 1228.5,679.7 1230.0,679.9 1230.0,681.7 1231.5,682.0 1231.5,681.4 1233.0,681.7 1233.0,679.0 1234.5,679.4 1234.5,680.0 1236.0,680.3 1236.0,682.4 1237.5,682.7 1237.5,681.7 1239.0,682.0 1239.0,682.4 1240.5,682.8 1240.5,680.6 1242.0,680.9 1242.0,682.8 1243.5,683.1 1243.5,683.2 1245.0,683.5 1245.0,684.5 1246.5,684.7" fill="none" stroke="#ff0000" stroke-width="3.9" stroke-linejoin="round" stroke-linecap="butt"/>
<line x1="122" y1="639.5" x2="1247" y2="639.5" stroke="#111" stroke-width="1.1"/>
<line x1="122" y1="1073.5" x2="1247" y2="1073.5" stroke="#111" stroke-width="1.1"/>
<line x1="122" y1="639" x2="122" y2="1074" stroke="#222" stroke-width="1.25"/>
<line x1="1247" y1="639" x2="1247" y2="1074" stroke="#222" stroke-width="1.25"/>
<line x1="209.5" y1="1073.5" x2="209.5" y2="1063.7" stroke="#2a2a2a" stroke-width="1.1"/>
<line x1="295.5" y1="1073.5" x2="295.5" y2="1048.2" stroke="#2a2a2a" stroke-width="1.1"/>
<line x1="382.5" y1="1073.5" x2="382.5" y2="1063.7" stroke="#2a2a2a" stroke-width="1.1"/>
<line x1="468.5" y1="1073.5" x2="468.5" y2="1048.2" stroke="#2a2a2a" stroke-width="1.1"/>
<line x1="555.5" y1="1073.5" x2="555.5" y2="1063.7" stroke="#2a2a2a" stroke-width="1.1"/>
<line x1="641.5" y1="1073.5" x2="641.5" y2="1048.2" stroke="#2a2a2a" stroke-width="1.1"/>
<line x1="728.5" y1="1073.5" x2="728.5" y2="1063.7" stroke="#2a2a2a" stroke-width="1.1"/>
<line x1="814.5" y1="1073.5" x2="814.5" y2="1048.2" stroke="#2a2a2a" stroke-width="1.1"/>
<line x1="901.5" y1="1073.5" x2="901.5" y2="1063.7" stroke="#2a2a2a" stroke-width="1.1"/>
<line x1="987.5" y1="1073.5" x2="987.5" y2="1048.2" stroke="#2a2a2a" stroke-width="1.1"/>
<line x1="1074.5" y1="1073.5" x2="1074.5" y2="1063.7" stroke="#2a2a2a" stroke-width="1.1"/>
<line x1="1160.5" y1="1073.5" x2="1160.5" y2="1048.2" stroke="#2a2a2a" stroke-width="1.1"/>
<line x1="122" y1="682.8" x2="144.6" y2="682.8" stroke="#2a2a2a" stroke-width="1.1"/>
<line x1="122" y1="856.5" x2="144.6" y2="856.5" stroke="#2a2a2a" stroke-width="1.1"/>
<line x1="122" y1="1030.0" x2="144.6" y2="1030.0" stroke="#2a2a2a" stroke-width="1.1"/>
<line x1="122" y1="769.6" x2="133.7" y2="769.6" stroke="#2a2a2a" stroke-width="1.1"/>
<line x1="122" y1="943.2" x2="133.7" y2="943.2" stroke="#2a2a2a" stroke-width="1.1"/>
<text transform="translate(28.4,256.5) rotate(-90)" text-anchor="middle" font-size="41" fill="#000">V</text>
<text transform="translate(57.8,854.5) rotate(-90)" text-anchor="middle" font-size="41" fill="#000">V</text>
<text transform="translate(1269.9,1065.7) rotate(-90)" font-size="19.6" fill="#2b2b2b">CPS22.028-37c</text>
<text x="127.80" y="28.70" font-size="39.20" text-anchor="start" fill="#2b2b2b">JET-ILW</text>
<text x="1229.70" y="28.70" font-size="39.40" text-anchor="end" fill="#2b2b2b">SPI Microwave cavity diagnostic</text>
<text x="113.10" y="112.10" font-size="39.60" text-anchor="end" fill="#000">-0.0</text>
<text x="111.80" y="237.30" font-size="39.60" text-anchor="end" fill="#000">-0.4</text>
<text x="112.80" y="362.30" font-size="39.60" text-anchor="end" fill="#000">-0.8</text>
<text x="112.90" y="477.60" font-size="39.60" text-anchor="end" fill="#000">-1.2</text>
<text x="138.80" y="515.80" font-size="39.60" text-anchor="middle" fill="#000">24.022</text>
<text x="312.60" y="515.80" font-size="39.60" text-anchor="middle" fill="#000">24.024</text>
<text x="486.10" y="515.80" font-size="39.60" text-anchor="middle" fill="#000">24.026</text>
<text x="659.30" y="515.80" font-size="39.60" text-anchor="middle" fill="#000">24.028</text>
<text x="831.80" y="515.80" font-size="39.60" text-anchor="middle" fill="#000">24.030</text>
<text x="1005.90" y="515.80" font-size="39.60" text-anchor="middle" fill="#000">24.032</text>
<text x="1178.00" y="515.80" font-size="39.60" text-anchor="middle" fill="#000">24.034</text>
<text x="596.00" y="564.70" font-size="39.75" text-anchor="start" fill="#2b2b2b">Time (s)</text>
<text x="1185.20" y="197.30" font-size="41.20" text-anchor="start" fill="#2b2b2b">(a)</text>
<text x="182.70" y="448.50" font-size="39.20" text-anchor="start" fill="#2b2b2b">pellets B w/o D<tspan font-size="23" dy="8">2</tspan><tspan dy="-8">-shell, punched</tspan></text>
<text x="491.30" y="280.00" font-size="34.30" text-anchor="start" fill="#000">#&#160;95150</text>
<text x="491.30" y="323.60" font-size="34.30" text-anchor="start" fill="#000">#&#160;95147</text>
<text x="491.30" y="366.30" font-size="34.30" text-anchor="start" fill="#000">#&#160;95113</text>
<text x="643.00" y="280.00" font-size="34.30" text-anchor="start" fill="#000">~ 0.72 g</text>
<text x="643.00" y="323.60" font-size="34.30" text-anchor="start" fill="#000">~ 0.22 g</text>
<text x="640.80" y="366.30" font-size="34.30" text-anchor="start" fill="#000">~ 0.72 g</text>
<text x="113.80" y="693.60" font-size="39.60" text-anchor="end" fill="#000">0</text>
<text x="116.30" y="866.70" font-size="39.60" text-anchor="end" fill="#000">-2</text>
<text x="115.60" y="1040.00" font-size="39.60" text-anchor="end" fill="#000">-4</text>
<text x="137.90" y="1118.50" font-size="39.60" text-anchor="middle" fill="#000">24.026</text>
<text x="318.90" y="1118.50" font-size="39.60" text-anchor="middle" fill="#000">24.028</text>
<text x="490.70" y="1118.50" font-size="39.60" text-anchor="middle" fill="#000">24.030</text>
<text x="663.50" y="1118.50" font-size="39.60" text-anchor="middle" fill="#000">24.032</text>
<text x="835.40" y="1118.50" font-size="39.60" text-anchor="middle" fill="#000">24.034</text>
<text x="1007.50" y="1118.50" font-size="39.60" text-anchor="middle" fill="#000">24.036</text>
<text x="1179.80" y="1118.50" font-size="39.60" text-anchor="middle" fill="#000">24.038</text>
<text x="596.00" y="1171.40" font-size="39.75" text-anchor="start" fill="#2b2b2b">Time (s)</text>
<text x="1185.20" y="767.20" font-size="41.20" text-anchor="start" fill="#2b2b2b">(b)</text>
<text x="1220.00" y="1037.60" font-size="39.00" text-anchor="end" fill="#2b2b2b" font-style="italic">All pellets have 0.4mm D<tspan font-size="23" dy="8">2</tspan><tspan dy="-8">-shell</tspan></text>
<text x="168.80" y="809.00" font-size="34.20" text-anchor="start" fill="#00f">#&#160;95611</text>
<text x="166.80" y="848.00" font-size="34.20" text-anchor="start" fill="#00f">pellet B&#160;&#160;~0.69 g</text>
<text x="165.80" y="889.60" font-size="34.20" text-anchor="start" fill="#00f">Ne = 1.9.10<tspan font-size="17.5" dy="-14.5">22</tspan><tspan dy="14.5"> atoms</tspan></text>
<text x="530.60" y="884.00" font-size="34.20" text-anchor="start" fill="#f00">#&#160;95605</text>
<text x="530.60" y="921.00" font-size="34.20" text-anchor="start" fill="#f00">pellet A&#160;&#160;~2.45 g</text>
<text x="529.60" y="962.90" font-size="34.20" text-anchor="start" fill="#f00">Ne = 6.9.10<tspan font-size="17.5" dy="-14.5">22</tspan><tspan dy="14.5"> atoms</tspan></text>
<text x="1122.90" y="809.70" font-size="34.20" text-anchor="end" fill="#000">#&#160;95110</text>
<text x="1122.40" y="845.00" font-size="34.20" text-anchor="end" fill="#000">pellet C&#160;&#160;~0.11 g</text>
<text x="1122.90" y="885.30" font-size="34.20" text-anchor="end" fill="#000">Ne = 3.1.10<tspan font-size="17.5" dy="-14.5">21</tspan><tspan dy="14.5"> atoms</tspan></text>
<line x1="1090" y1="762.7" x2="1090" y2="731" stroke="#2b2b2b" stroke-width="3.8"/><path d="M1089.8,710.8 L1100.5,735.2 L1090,731.6 L1079.1,735.2 Z" fill="#2b2b2b"/>
</svg></body></html>
